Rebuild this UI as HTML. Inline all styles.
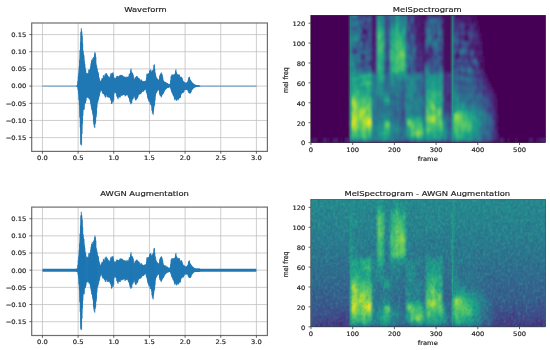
<!DOCTYPE html>
<html><head><meta charset="utf-8"><title>Waveform and MelSpectrogram</title>
<style>html,body{margin:0;padding:0;background:#fff}svg{display:block}text{font-family:"DejaVu Sans", "Liberation Sans", sans-serif;fill:#222;stroke:#222;stroke-width:.18px}</style></head><body>
<svg width="550" height="350" viewBox="0 0 550 350">
<defs><filter id="bl" x="-2%" y="-2%" width="104%" height="104%"><feGaussianBlur stdDeviation="0.8"/></filter><filter id="gd" x="0" y="0" width="100%" height="100%" color-interpolation-filters="sRGB"><feTurbulence type="fractalNoise" baseFrequency="0.4 0.3" numOctaves="2" seed="4"/><feColorMatrix type="matrix" values="0 0 0 0 0.1  0 0 0 0 0.1  0 0 0 0 0.3  0.3 0 0 0 -0.15"/></filter><filter id="gl" x="0" y="0" width="100%" height="100%" color-interpolation-filters="sRGB"><feTurbulence type="fractalNoise" baseFrequency="0.4 0.3" numOctaves="2" seed="4"/><feColorMatrix type="matrix" values="0 0 0 0 0.6  0 0 0 0 1  0 0 0 0 0.7  -0.3 0 0 0 0.15"/></filter></defs>
<rect width="550" height="350" fill="#fff"/>
<path d="M42.45 23.00V151.40M78.11 23.00V151.40M113.77 23.00V151.40M149.43 23.00V151.40M185.09 23.00V151.40M220.75 23.00V151.40M256.41 23.00V151.40M31.70 137.61H267.40M31.70 120.44H267.40M31.70 103.27H267.40M31.70 86.10H267.40M31.70 68.93H267.40M31.70 51.76H267.40M31.70 34.59H267.40" stroke="#c2c2c2" stroke-width="0.8" fill="none"/>
<path d="M42.45 86.10H256.40" stroke="#1f77b4" stroke-width="0.7" fill="none"/>
<polygon points="76.5,85.82 77.0,85.82 77.5,84.85 78.0,79.34 78.5,74.81 79.0,68.31 79.5,61.60 80.0,52.91 80.5,42.45 81.0,30.06 81.5,30.06 82.0,32.41 82.5,42.03 83.0,50.73 83.5,53.22 84.0,56.82 84.5,62.19 85.0,65.97 85.5,69.42 86.0,71.96 86.5,74.59 87.0,73.13 87.5,73.63 88.0,74.51 88.5,73.07 89.0,70.60 89.5,70.30 90.0,70.90 90.5,67.53 91.0,63.63 91.5,62.82 92.0,61.06 92.5,60.69 93.0,60.48 93.5,57.87 94.0,56.93 94.5,54.56 95.0,54.04 95.5,55.02 96.0,62.60 96.5,65.46 97.0,67.53 97.5,70.70 98.0,71.33 98.5,74.44 99.0,77.44 99.5,79.39 100.0,80.62 100.5,81.83 101.0,81.36 101.5,79.76 102.0,78.68 102.5,78.71 103.0,77.73 103.5,75.93 104.0,75.59 104.5,76.97 105.0,74.89 105.5,74.78 106.0,74.00 106.5,74.15 107.0,75.04 107.5,75.16 108.0,76.99 108.5,77.09 109.0,76.85 109.5,78.82 110.0,77.75 110.5,74.90 111.0,73.50 111.5,75.18 112.0,74.18 112.5,73.38 113.0,72.88 113.5,75.18 114.0,77.13 114.5,78.97 115.0,79.52 115.5,78.57 116.0,78.26 116.5,77.42 117.0,76.48 117.5,75.76 118.0,76.87 118.5,76.38 119.0,76.26 119.5,75.54 120.0,75.70 120.5,75.48 121.0,75.96 121.5,75.59 122.0,75.50 122.5,75.86 123.0,76.62 123.5,76.83 124.0,77.30 124.5,77.51 125.0,77.14 125.5,77.37 126.0,77.97 126.5,78.19 127.0,77.31 127.5,77.28 128.0,77.53 128.5,77.79 129.0,75.31 129.5,75.03 130.0,73.60 130.5,70.37 131.0,69.57 131.5,72.55 132.0,72.48 132.5,72.89 133.0,73.24 133.5,77.60 134.0,79.55 134.5,79.31 135.0,78.09 135.5,77.64 136.0,77.13 136.5,76.47 137.0,76.25 137.5,77.11 138.0,77.88 138.5,77.93 139.0,78.44 139.5,79.09 140.0,79.59 140.5,81.09 141.0,79.88 141.5,80.09 142.0,81.06 142.5,81.25 143.0,81.65 143.5,81.87 144.0,81.44 144.5,81.44 145.0,81.13 145.5,81.05 146.0,80.81 146.5,77.73 147.0,73.83 147.5,75.04 148.0,74.31 148.5,73.36 149.0,73.36 149.5,71.46 150.0,70.80 150.5,70.33 151.0,72.57 151.5,72.19 152.0,70.56 152.5,70.81 153.0,71.54 153.5,69.22 154.0,64.16 154.5,67.15 155.0,71.58 155.5,74.40 156.0,76.16 156.5,77.98 157.0,79.15 157.5,78.96 158.0,79.54 158.5,80.20 159.0,80.35 159.5,77.52 160.0,74.71 160.5,74.27 161.0,73.33 161.5,73.44 162.0,74.78 162.5,76.63 163.0,79.32 163.5,81.33 164.0,82.00 164.5,81.65 165.0,81.89 165.5,82.13 166.0,82.36 166.5,83.20 167.0,83.52 167.5,83.38 168.0,83.86 168.5,84.27 169.0,84.58 169.5,84.52 170.0,83.95 170.5,81.66 171.0,77.30 171.5,76.01 172.0,75.18 172.5,75.32 173.0,75.00 173.5,75.37 174.0,75.03 174.5,75.07 175.0,74.03 175.5,70.98 176.0,70.46 176.5,73.22 177.0,74.11 177.5,74.78 178.0,75.04 178.5,75.33 179.0,74.90 179.5,75.16 180.0,77.78 180.5,78.18 181.0,77.01 181.5,77.03 182.0,77.82 182.5,79.83 183.0,80.79 183.5,81.57 184.0,82.10 184.5,82.32 185.0,82.58 185.5,83.27 186.0,82.87 186.5,82.95 187.0,82.62 187.5,82.04 188.0,80.86 188.5,78.45 189.0,77.46 189.5,77.30 190.0,79.36 190.5,80.03 191.0,80.98 191.5,81.61 192.0,82.54 192.5,82.83 193.0,83.31 193.5,83.92 194.0,84.29 194.5,84.55 195.0,84.86 195.5,85.06 196.0,85.11 196.5,85.24 197.0,85.28 197.5,85.43 198.0,85.62 198.5,85.66 199.0,85.64 199.5,85.73 199.5,86.38 199.0,86.38 198.5,86.38 198.0,86.40 197.5,86.47 197.0,86.58 196.5,86.83 196.0,86.96 195.5,87.12 195.0,87.26 194.5,87.35 194.0,87.76 193.5,88.11 193.0,88.76 192.5,89.36 192.0,89.68 191.5,90.34 191.0,92.14 190.5,93.26 190.0,93.03 189.5,92.69 189.0,92.92 188.5,92.01 188.0,90.93 187.5,89.74 187.0,89.53 186.5,89.71 186.0,89.49 185.5,89.87 185.0,89.53 184.5,89.93 184.0,91.40 183.5,92.08 183.0,92.71 182.5,93.46 182.0,92.68 181.5,93.43 181.0,94.63 180.5,96.95 180.0,97.66 179.5,97.63 179.0,98.30 178.5,99.30 178.0,99.98 177.5,98.94 177.0,98.78 176.5,100.63 176.0,99.15 175.5,98.82 175.0,99.66 174.5,99.23 174.0,96.52 173.5,95.63 173.0,94.70 172.5,93.62 172.0,92.60 171.5,91.02 171.0,89.64 170.5,88.18 170.0,86.97 169.5,87.08 169.0,87.34 168.5,87.61 168.0,87.86 167.5,87.84 167.0,88.13 166.5,88.36 166.0,88.89 165.5,89.62 165.0,89.90 164.5,90.55 164.0,92.01 163.5,93.20 163.0,93.70 162.5,94.46 162.0,95.36 161.5,96.30 161.0,96.48 160.5,95.56 160.0,94.50 159.5,93.64 159.0,91.11 158.5,89.45 158.0,90.13 157.5,90.26 157.0,91.30 156.5,92.63 156.0,93.51 155.5,95.43 155.0,100.19 154.5,104.54 154.0,107.57 153.5,112.10 153.0,112.91 152.5,112.49 152.0,110.28 151.5,105.16 151.0,103.79 150.5,104.44 150.0,103.77 149.5,100.73 149.0,100.75 148.5,100.14 148.0,99.02 147.5,97.02 147.0,94.10 146.5,92.03 146.0,90.28 145.5,89.45 145.0,89.49 144.5,90.23 144.0,90.54 143.5,91.29 143.0,91.63 142.5,91.24 142.0,91.68 141.5,92.49 141.0,92.89 140.5,93.78 140.0,94.23 139.5,94.49 139.0,93.96 138.5,94.85 138.0,96.75 137.5,97.74 137.0,98.07 136.5,98.79 136.0,99.83 135.5,99.94 135.0,98.44 134.5,95.71 134.0,94.84 133.5,97.55 133.0,99.11 132.5,98.73 132.0,100.08 131.5,103.18 131.0,103.21 130.5,102.86 130.0,101.10 129.5,99.92 129.0,98.19 128.5,96.81 128.0,95.79 127.5,94.49 127.0,94.82 126.5,95.11 126.0,95.43 125.5,95.97 125.0,95.64 124.5,94.47 124.0,94.17 123.5,94.75 123.0,94.99 122.5,94.74 122.0,95.46 121.5,95.77 121.0,94.78 120.5,95.05 120.0,97.13 119.5,97.39 119.0,96.79 118.5,96.97 118.0,98.72 117.5,97.93 117.0,96.83 116.5,93.56 116.0,92.91 115.5,92.86 115.0,92.21 114.5,91.55 114.0,94.81 113.5,100.75 113.0,99.87 112.5,101.01 112.0,104.27 111.5,103.12 111.0,100.26 110.5,98.94 110.0,97.81 109.5,97.25 109.0,96.16 108.5,97.39 108.0,96.89 107.5,96.57 107.0,96.25 106.5,94.77 106.0,94.98 105.5,97.29 105.0,97.01 104.5,94.87 104.0,94.19 103.5,93.63 103.0,93.47 102.5,92.89 102.0,91.46 101.5,90.16 101.0,89.40 100.5,90.43 100.0,92.73 99.5,95.06 99.0,97.25 98.5,98.88 98.0,101.59 97.5,102.09 97.0,106.16 96.5,114.22 96.0,118.10 95.5,121.22 95.0,125.37 94.5,125.55 94.0,123.81 93.5,120.49 93.0,114.53 92.5,112.07 92.0,109.90 91.5,107.07 91.0,105.71 90.5,102.43 90.0,100.15 89.5,98.68 89.0,98.39 88.5,97.43 88.0,97.20 87.5,97.02 87.0,97.34 86.5,97.59 86.0,101.12 85.5,103.71 85.0,102.39 84.5,104.85 84.0,108.75 83.5,108.75 83.0,113.39 82.5,121.16 82.0,130.74 81.5,143.72 81.0,143.72 80.5,136.09 80.0,120.05 79.5,109.00 79.0,100.17 78.5,93.67 78.0,89.77 77.5,86.55 77.0,86.38 76.5,86.38" fill="#1f77b4"/>
<path d="M76.50,85.81 76.72,86.37 76.94,85.81 77.16,86.39 77.38,85.82 77.60,87.17 77.82,81.27 78.04,90.08 78.26,76.50 78.48,93.34 78.70,72.99 78.92,100.05 79.14,66.53 79.36,104.99 79.58,59.96 79.80,117.47 80.02,50.01 80.24,127.49 80.46,42.08 80.68,144.74 80.90,31.97 81.12,143.81 81.34,28.18 81.56,145.43 81.78,31.65 82.00,134.05 82.22,35.81 82.44,123.74 82.66,43.38 82.88,115.96 83.10,50.67 83.32,109.55 83.54,54.50 83.76,109.27 83.98,55.40 84.20,109.79 84.42,61.32 84.64,104.40 84.86,64.03 85.08,102.78 85.30,68.46 85.52,103.18 85.74,70.29 85.96,101.13 86.18,73.27 86.40,97.84 86.62,74.95 86.84,97.34 87.06,72.91 87.28,97.61 87.50,73.55 87.72,97.09 87.94,74.98 88.16,97.86 88.38,73.39 88.60,97.29 88.82,69.86 89.04,98.92 89.26,69.30 89.48,98.58 89.70,69.65 89.92,99.73 90.14,69.54 90.36,101.50 90.58,66.65 90.80,104.09 91.02,63.30 91.24,106.63 91.46,60.17 91.68,109.42 91.90,60.40 92.12,110.43 92.34,58.30 92.56,113.24 92.78,60.79 93.00,115.54 93.22,58.87 93.44,122.15 93.66,57.18 93.88,124.83 94.10,56.80 94.32,126.97 94.54,53.51 94.76,128.00 94.98,52.00 95.20,124.07 95.42,53.63 95.64,122.50 95.86,57.07 96.08,117.16 96.30,64.90 96.52,114.00 96.74,66.56 96.96,107.72 97.18,68.63 97.40,102.80 97.62,71.90 97.84,102.07 98.06,72.21 98.28,100.03 98.50,73.60 98.72,98.24 98.94,77.03 99.16,96.46 99.38,78.71 99.60,95.19 99.82,80.07 100.04,92.75 100.26,81.11 100.48,91.28 100.70,81.73 100.92,89.78 101.14,81.17 101.36,89.62 101.58,79.79 101.80,91.09 102.02,78.22 102.24,92.45 102.46,78.69 102.68,93.26 102.90,78.18 103.12,93.98 103.34,75.61 103.56,93.67 103.78,75.27 104.00,94.33 104.22,77.22 104.44,95.42 104.66,77.00 104.88,95.10 105.10,74.04 105.32,97.20 105.54,74.74 105.76,97.47 105.98,73.14 106.20,95.16 106.42,73.25 106.64,94.73 106.86,74.73 107.08,96.70 107.30,74.59 107.52,97.15 107.74,76.81 107.96,96.73 108.18,76.91 108.40,97.52 108.62,76.03 108.84,96.36 109.06,76.81 109.28,96.28 109.50,78.31 109.72,98.03 109.94,77.57 110.16,97.95 110.38,76.47 110.60,99.54 110.82,73.93 111.04,100.77 111.26,72.98 111.48,104.00 111.70,74.89 111.92,103.75 112.14,73.19 112.36,100.63 112.58,72.88 112.80,101.73 113.02,72.44 113.24,102.29 113.46,74.92 113.68,99.83 113.90,77.23 114.12,93.83 114.34,78.10 114.56,91.36 114.78,80.15 115.00,92.50 115.22,78.75 115.44,92.67 115.66,77.90 115.88,93.25 116.10,77.56 116.32,93.15 116.54,76.82 116.76,96.31 116.98,75.87 117.20,96.92 117.42,76.17 117.64,98.04 117.86,76.98 118.08,99.17 118.30,76.91 118.52,96.81 118.74,76.60 118.96,96.79 119.18,76.35 119.40,96.55 119.62,75.83 119.84,97.43 120.06,75.05 120.28,97.28 120.50,74.90 120.72,94.68 120.94,75.56 121.16,95.11 121.38,75.31 121.60,95.81 121.82,74.96 122.04,95.55 122.26,75.30 122.48,95.32 122.70,75.78 122.92,94.95 123.14,76.87 123.36,94.67 123.58,76.37 123.80,94.89 124.02,76.78 124.24,94.18 124.46,77.65 124.68,94.74 124.90,76.53 125.12,96.41 125.34,77.04 125.56,95.83 125.78,77.60 126.00,95.23 126.22,77.75 126.44,95.18 126.66,76.64 126.88,94.64 127.10,77.34 127.32,94.90 127.54,76.76 127.76,95.36 127.98,77.65 128.20,96.65 128.42,77.61 128.64,97.64 128.86,75.72 129.08,98.19 129.30,73.71 129.52,100.13 129.74,73.83 129.96,101.96 130.18,73.63 130.40,102.73 130.62,70.46 130.84,104.27 131.06,68.52 131.28,103.17 131.50,72.45 131.72,103.16 131.94,73.03 132.16,100.32 132.38,72.75 132.60,98.66 132.82,74.00 133.04,99.17 133.26,75.19 133.48,97.32 133.70,79.20 133.92,95.32 134.14,79.61 134.36,95.84 134.58,79.40 134.80,97.76 135.02,77.55 135.24,99.16 135.46,77.70 135.68,100.42 135.90,76.99 136.12,100.15 136.34,76.46 136.56,98.44 136.78,75.95 137.00,98.66 137.22,76.80 137.44,98.28 137.66,76.91 137.88,97.11 138.10,77.71 138.32,95.13 138.54,78.18 138.76,94.66 138.98,78.04 139.20,93.48 139.42,79.03 139.64,94.22 139.86,79.13 140.08,94.10 140.30,81.12 140.52,93.69 140.74,80.91 140.96,93.53 141.18,79.68 141.40,93.07 141.62,79.74 141.84,92.01 142.06,80.82 142.28,91.61 142.50,81.08 142.72,91.07 142.94,81.40 143.16,91.35 143.38,81.62 143.60,91.36 143.82,81.31 144.04,90.47 144.26,81.69 144.48,90.14 144.70,81.16 144.92,89.76 145.14,80.92 145.36,89.26 145.58,80.97 145.80,89.28 146.02,80.44 146.24,91.74 146.46,78.18 146.68,93.01 146.90,73.75 147.12,94.59 147.34,74.82 147.56,97.16 147.78,73.83 148.00,98.78 148.22,73.65 148.44,99.62 148.66,73.61 148.88,101.59 149.10,72.99 149.32,100.63 149.54,70.75 149.76,101.74 149.98,70.49 150.20,104.45 150.42,69.62 150.64,104.47 150.86,69.70 151.08,104.56 151.30,72.32 151.52,106.28 151.74,71.66 151.96,110.67 152.18,71.05 152.40,113.69 152.62,69.90 152.84,111.76 153.06,71.35 153.28,114.81 153.50,69.36 153.72,109.37 153.94,65.01 154.16,106.16 154.38,64.37 154.60,104.95 154.82,69.01 155.04,100.68 155.26,72.80 155.48,95.61 155.70,75.05 155.92,93.47 156.14,76.75 156.36,92.93 156.58,78.04 156.80,91.96 157.02,79.10 157.24,91.23 157.46,78.47 157.68,90.21 157.90,79.54 158.12,89.62 158.34,79.62 158.56,89.35 158.78,80.50 159.00,90.52 159.22,79.74 159.44,93.50 159.66,76.07 159.88,95.20 160.10,74.69 160.32,95.81 160.54,73.87 160.76,95.95 160.98,73.42 161.20,97.45 161.42,72.54 161.64,96.50 161.86,73.95 162.08,95.13 162.30,74.82 162.52,94.17 162.74,77.04 162.96,93.70 163.18,79.70 163.40,93.32 163.62,81.26 163.84,92.23 164.06,81.81 164.28,91.55 164.50,81.64 164.72,90.24 164.94,81.93 165.16,89.78 165.38,82.16 165.60,89.55 165.82,82.16 166.04,88.94 166.26,83.05 166.48,88.52 166.70,83.21 166.92,88.21 167.14,82.88 167.36,88.01 167.58,83.41 167.80,87.79 168.02,83.74 168.24,87.81 168.46,84.17 168.68,87.56 168.90,84.57 169.12,87.25 169.34,84.88 169.56,87.08 169.78,84.01 170.00,86.97 170.22,83.54 170.44,88.03 170.66,80.19 170.88,89.26 171.10,76.04 171.32,90.82 171.54,75.76 171.76,92.26 171.98,74.43 172.20,93.09 172.42,75.31 172.64,93.93 172.86,74.79 173.08,95.38 173.30,74.45 173.52,95.90 173.74,75.35 173.96,96.70 174.18,74.81 174.40,98.78 174.62,74.31 174.84,100.26 175.06,73.51 175.28,98.46 175.50,70.71 175.72,98.91 175.94,69.36 176.16,100.24 176.38,72.33 176.60,100.86 176.82,73.80 177.04,98.66 177.26,73.90 177.48,98.92 177.70,74.84 177.92,100.34 178.14,74.92 178.36,99.42 178.58,74.76 178.80,98.90 179.02,74.26 179.24,98.10 179.46,74.97 179.68,98.09 179.90,77.94 180.12,97.24 180.34,77.56 180.56,97.64 180.78,76.54 181.00,94.63 181.22,76.86 181.44,93.69 181.66,77.08 181.88,92.79 182.10,78.05 182.32,92.41 182.54,79.82 182.76,93.08 182.98,80.72 183.20,92.76 183.42,81.45 183.64,92.03 183.86,81.67 184.08,91.46 184.30,82.05 184.52,89.97 184.74,82.23 184.96,89.59 185.18,83.02 185.40,89.89 185.62,83.15 185.84,89.95 186.06,82.83 186.28,89.60 186.50,82.91 186.72,89.98 186.94,82.49 187.16,89.64 187.38,81.98 187.60,89.83 187.82,81.44 188.04,91.24 188.26,79.68 188.48,92.33 188.70,77.44 188.92,92.87 189.14,77.64 189.36,93.22 189.58,76.78 189.80,93.47 190.02,79.57 190.24,93.34 190.46,80.28 190.68,92.66 190.90,80.75 191.12,92.06 191.34,81.61 191.56,90.31 191.78,82.05 192.00,89.78 192.22,82.78 192.44,89.46 192.66,82.99 192.88,88.99 193.10,83.41 193.32,88.38 193.54,83.93 193.76,87.98 193.98,84.20 194.20,87.56 194.42,84.55 194.64,87.23 194.86,84.64 195.08,87.28 195.30,84.91 195.52,87.17 195.74,85.12 195.96,87.03 196.18,85.11 196.40,86.84 196.62,85.28 196.84,86.63 197.06,85.28 197.28,86.53 197.50,85.42 197.72,86.45 197.94,85.63 198.16,86.40 198.38,85.66 198.60,86.39 198.82,85.59 199.04,86.38 199.26,85.67 199.48,86.37 199.70,85.74 199.92,86.39" stroke="#1f77b4" stroke-width="0.55" fill="none" stroke-linejoin="round"/>
<rect x="31.70" y="23.00" width="235.70" height="128.40" fill="none" stroke="#6e6e6e" stroke-width="1.2"/>
<path d="M42.45 151.40v2.3M78.11 151.40v2.3M113.77 151.40v2.3M149.43 151.40v2.3M185.09 151.40v2.3M220.75 151.40v2.3M256.41 151.40v2.3M31.70 137.61h-2.3M31.70 120.44h-2.3M31.70 103.27h-2.3M31.70 86.10h-2.3M31.70 68.93h-2.3M31.70 51.76h-2.3M31.70 34.59h-2.3" stroke="#333" stroke-width="0.75" fill="none"/>
<text transform="translate(42.45 160.10) scale(1.09 1)" font-size="6.2" text-anchor="middle">0.0</text>
<text transform="translate(78.11 160.10) scale(1.09 1)" font-size="6.2" text-anchor="middle">0.5</text>
<text transform="translate(113.77 160.10) scale(1.09 1)" font-size="6.2" text-anchor="middle">1.0</text>
<text transform="translate(149.43 160.10) scale(1.09 1)" font-size="6.2" text-anchor="middle">1.5</text>
<text transform="translate(185.09 160.10) scale(1.09 1)" font-size="6.2" text-anchor="middle">2.0</text>
<text transform="translate(220.75 160.10) scale(1.09 1)" font-size="6.2" text-anchor="middle">2.5</text>
<text transform="translate(256.41 160.10) scale(1.09 1)" font-size="6.2" text-anchor="middle">3.0</text>
<text transform="translate(26.30 139.91) scale(1.09 1)" font-size="6.2" text-anchor="end">−0.15</text>
<text transform="translate(26.30 122.74) scale(1.09 1)" font-size="6.2" text-anchor="end">−0.10</text>
<text transform="translate(26.30 105.57) scale(1.09 1)" font-size="6.2" text-anchor="end">−0.05</text>
<text transform="translate(26.30 88.40) scale(1.09 1)" font-size="6.2" text-anchor="end">0.00</text>
<text transform="translate(26.30 71.23) scale(1.09 1)" font-size="6.2" text-anchor="end">0.05</text>
<text transform="translate(26.30 54.06) scale(1.09 1)" font-size="6.2" text-anchor="end">0.10</text>
<text transform="translate(26.30 36.89) scale(1.09 1)" font-size="6.2" text-anchor="end">0.15</text>
<text transform="translate(145.50 12.00) scale(1.09 1)" font-size="7.7" text-anchor="middle">Waveform</text>
<path d="M42.45 207.10V335.50M78.11 207.10V335.50M113.77 207.10V335.50M149.43 207.10V335.50M185.09 207.10V335.50M220.75 207.10V335.50M256.41 207.10V335.50M31.70 321.71H267.40M31.70 304.54H267.40M31.70 287.37H267.40M31.70 270.20H267.40M31.70 253.03H267.40M31.70 235.86H267.40M31.70 218.69H267.40" stroke="#c2c2c2" stroke-width="0.8" fill="none"/>
<path d="M42.45 270.20H256.40" stroke="#1f77b4" stroke-width="3.1" fill="none"/>
<polygon points="76.5,268.92 77.0,268.92 77.5,268.92 78.0,263.44 78.5,258.91 79.0,252.41 79.5,245.70 80.0,237.01 80.5,226.55 81.0,214.16 81.5,214.16 82.0,216.51 82.5,226.13 83.0,234.83 83.5,237.32 84.0,240.92 84.5,246.29 85.0,250.07 85.5,253.52 86.0,256.06 86.5,258.69 87.0,257.23 87.5,257.73 88.0,258.61 88.5,257.17 89.0,254.70 89.5,254.40 90.0,255.00 90.5,251.63 91.0,247.73 91.5,246.92 92.0,245.16 92.5,244.79 93.0,244.58 93.5,241.97 94.0,241.03 94.5,238.66 95.0,238.14 95.5,239.12 96.0,246.70 96.5,249.56 97.0,251.63 97.5,254.80 98.0,255.43 98.5,258.54 99.0,261.54 99.5,263.49 100.0,264.72 100.5,265.93 101.0,265.46 101.5,263.86 102.0,262.78 102.5,262.81 103.0,261.83 103.5,260.03 104.0,259.69 104.5,261.07 105.0,258.99 105.5,258.88 106.0,258.10 106.5,258.25 107.0,259.14 107.5,259.26 108.0,261.09 108.5,261.19 109.0,260.95 109.5,262.92 110.0,261.85 110.5,259.00 111.0,257.60 111.5,259.28 112.0,258.28 112.5,257.48 113.0,256.98 113.5,259.28 114.0,261.23 114.5,263.07 115.0,263.62 115.5,262.67 116.0,262.36 116.5,261.52 117.0,260.58 117.5,259.86 118.0,260.97 118.5,260.48 119.0,260.36 119.5,259.64 120.0,259.80 120.5,259.58 121.0,260.06 121.5,259.69 122.0,259.60 122.5,259.96 123.0,260.72 123.5,260.93 124.0,261.40 124.5,261.61 125.0,261.24 125.5,261.47 126.0,262.07 126.5,262.29 127.0,261.41 127.5,261.38 128.0,261.63 128.5,261.89 129.0,259.41 129.5,259.13 130.0,257.70 130.5,254.47 131.0,253.67 131.5,256.65 132.0,256.58 132.5,256.99 133.0,257.34 133.5,261.70 134.0,263.65 134.5,263.41 135.0,262.19 135.5,261.74 136.0,261.23 136.5,260.57 137.0,260.35 137.5,261.21 138.0,261.98 138.5,262.03 139.0,262.54 139.5,263.19 140.0,263.69 140.5,265.19 141.0,263.98 141.5,264.19 142.0,265.16 142.5,265.35 143.0,265.75 143.5,265.97 144.0,265.54 144.5,265.54 145.0,265.23 145.5,265.15 146.0,264.91 146.5,261.83 147.0,257.93 147.5,259.14 148.0,258.41 148.5,257.46 149.0,257.46 149.5,255.56 150.0,254.90 150.5,254.43 151.0,256.67 151.5,256.29 152.0,254.66 152.5,254.91 153.0,255.64 153.5,253.32 154.0,248.26 154.5,251.25 155.0,255.68 155.5,258.50 156.0,260.26 156.5,262.08 157.0,263.25 157.5,263.06 158.0,263.64 158.5,264.30 159.0,264.45 159.5,261.62 160.0,258.81 160.5,258.37 161.0,257.43 161.5,257.54 162.0,258.88 162.5,260.73 163.0,263.42 163.5,265.43 164.0,266.10 164.5,265.75 165.0,265.99 165.5,266.23 166.0,266.46 166.5,267.30 167.0,267.62 167.5,267.48 168.0,267.96 168.5,268.37 169.0,268.68 169.5,268.62 170.0,268.05 170.5,265.76 171.0,261.40 171.5,260.11 172.0,259.28 172.5,259.42 173.0,259.10 173.5,259.47 174.0,259.13 174.5,259.17 175.0,258.13 175.5,255.08 176.0,254.56 176.5,257.32 177.0,258.21 177.5,258.88 178.0,259.14 178.5,259.43 179.0,259.00 179.5,259.26 180.0,261.88 180.5,262.28 181.0,261.11 181.5,261.13 182.0,261.92 182.5,263.93 183.0,264.89 183.5,265.67 184.0,266.20 184.5,266.42 185.0,266.68 185.5,267.37 186.0,266.97 186.5,267.05 187.0,266.72 187.5,266.14 188.0,264.96 188.5,262.55 189.0,261.56 189.5,261.40 190.0,263.46 190.5,264.13 191.0,265.08 191.5,265.71 192.0,266.64 192.5,266.93 193.0,267.41 193.5,268.02 194.0,268.39 194.5,268.65 195.0,268.92 195.5,268.92 196.0,268.92 196.5,268.92 197.0,268.92 197.5,268.92 198.0,268.92 198.5,268.92 199.0,268.92 199.5,268.92 199.5,271.48 199.0,271.48 198.5,271.48 198.0,271.48 197.5,271.48 197.0,271.48 196.5,271.48 196.0,271.48 195.5,271.48 195.0,271.48 194.5,271.48 194.0,271.86 193.5,272.21 193.0,272.86 192.5,273.46 192.0,273.78 191.5,274.44 191.0,276.24 190.5,277.36 190.0,277.13 189.5,276.79 189.0,277.02 188.5,276.11 188.0,275.03 187.5,273.84 187.0,273.63 186.5,273.81 186.0,273.59 185.5,273.97 185.0,273.63 184.5,274.03 184.0,275.50 183.5,276.18 183.0,276.81 182.5,277.56 182.0,276.78 181.5,277.53 181.0,278.73 180.5,281.05 180.0,281.76 179.5,281.73 179.0,282.40 178.5,283.40 178.0,284.08 177.5,283.04 177.0,282.88 176.5,284.73 176.0,283.25 175.5,282.92 175.0,283.76 174.5,283.33 174.0,280.62 173.5,279.73 173.0,278.80 172.5,277.72 172.0,276.70 171.5,275.12 171.0,273.74 170.5,272.28 170.0,271.48 169.5,271.48 169.0,271.48 168.5,271.71 168.0,271.96 167.5,271.94 167.0,272.23 166.5,272.46 166.0,272.99 165.5,273.72 165.0,274.00 164.5,274.65 164.0,276.11 163.5,277.30 163.0,277.80 162.5,278.56 162.0,279.46 161.5,280.40 161.0,280.58 160.5,279.66 160.0,278.60 159.5,277.74 159.0,275.21 158.5,273.55 158.0,274.23 157.5,274.36 157.0,275.40 156.5,276.73 156.0,277.61 155.5,279.53 155.0,284.29 154.5,288.64 154.0,291.67 153.5,296.20 153.0,297.01 152.5,296.59 152.0,294.38 151.5,289.26 151.0,287.89 150.5,288.54 150.0,287.87 149.5,284.83 149.0,284.85 148.5,284.24 148.0,283.12 147.5,281.12 147.0,278.20 146.5,276.13 146.0,274.38 145.5,273.55 145.0,273.59 144.5,274.33 144.0,274.64 143.5,275.39 143.0,275.73 142.5,275.34 142.0,275.78 141.5,276.59 141.0,276.99 140.5,277.88 140.0,278.33 139.5,278.59 139.0,278.06 138.5,278.95 138.0,280.85 137.5,281.84 137.0,282.17 136.5,282.89 136.0,283.93 135.5,284.04 135.0,282.54 134.5,279.81 134.0,278.94 133.5,281.65 133.0,283.21 132.5,282.83 132.0,284.18 131.5,287.28 131.0,287.31 130.5,286.96 130.0,285.20 129.5,284.02 129.0,282.29 128.5,280.91 128.0,279.89 127.5,278.59 127.0,278.92 126.5,279.21 126.0,279.53 125.5,280.07 125.0,279.74 124.5,278.57 124.0,278.27 123.5,278.85 123.0,279.09 122.5,278.84 122.0,279.56 121.5,279.87 121.0,278.88 120.5,279.15 120.0,281.23 119.5,281.49 119.0,280.89 118.5,281.07 118.0,282.82 117.5,282.03 117.0,280.93 116.5,277.66 116.0,277.01 115.5,276.96 115.0,276.31 114.5,275.65 114.0,278.91 113.5,284.85 113.0,283.97 112.5,285.11 112.0,288.37 111.5,287.22 111.0,284.36 110.5,283.04 110.0,281.91 109.5,281.35 109.0,280.26 108.5,281.49 108.0,280.99 107.5,280.67 107.0,280.35 106.5,278.87 106.0,279.08 105.5,281.39 105.0,281.11 104.5,278.97 104.0,278.29 103.5,277.73 103.0,277.57 102.5,276.99 102.0,275.56 101.5,274.26 101.0,273.50 100.5,274.53 100.0,276.83 99.5,279.16 99.0,281.35 98.5,282.98 98.0,285.69 97.5,286.19 97.0,290.26 96.5,298.32 96.0,302.20 95.5,305.32 95.0,309.47 94.5,309.65 94.0,307.91 93.5,304.59 93.0,298.63 92.5,296.17 92.0,294.00 91.5,291.17 91.0,289.81 90.5,286.53 90.0,284.25 89.5,282.78 89.0,282.49 88.5,281.53 88.0,281.30 87.5,281.12 87.0,281.44 86.5,281.69 86.0,285.22 85.5,287.81 85.0,286.49 84.5,288.95 84.0,292.85 83.5,292.85 83.0,297.49 82.5,305.26 82.0,314.84 81.5,327.82 81.0,327.82 80.5,320.19 80.0,304.15 79.5,293.10 79.0,284.27 78.5,277.77 78.0,273.87 77.5,271.48 77.0,271.48 76.5,271.48" fill="#1f77b4"/>
<path d="M76.50,268.66 76.72,271.67 76.94,268.64 77.16,271.77 77.38,268.71 77.60,271.75 77.82,264.92 78.04,274.65 78.26,260.11 78.48,277.90 78.70,256.62 78.92,284.64 79.14,250.16 79.36,289.54 79.58,243.59 79.80,302.05 80.02,233.62 80.24,312.05 80.46,225.70 80.68,329.33 80.90,215.61 81.12,328.38 81.34,211.80 81.56,330.03 81.78,215.30 82.00,318.65 82.22,219.44 82.44,308.32 82.66,227.00 82.88,300.54 83.10,234.29 83.32,294.13 83.54,238.15 83.76,293.85 83.98,239.01 84.20,294.37 84.42,244.96 84.64,288.97 84.86,247.64 85.08,287.37 85.30,252.10 85.52,287.74 85.74,253.91 85.96,285.69 86.18,256.88 86.40,282.41 86.62,258.60 86.84,281.91 87.06,256.53 87.28,282.20 87.50,257.18 87.72,281.66 87.94,258.62 88.16,282.45 88.38,257.02 88.60,281.84 88.82,253.47 89.04,283.50 89.26,252.90 89.48,283.14 89.70,253.27 89.92,284.30 90.14,253.15 90.36,286.06 90.58,250.28 90.80,288.65 91.02,246.93 91.24,291.18 91.46,243.77 91.68,294.01 91.90,244.02 92.12,294.99 92.34,241.91 92.56,297.82 92.78,244.44 93.00,300.12 93.22,242.48 93.44,306.74 93.66,240.80 93.88,309.42 94.10,240.44 94.32,311.56 94.54,237.13 94.76,312.58 94.98,235.61 95.20,308.64 95.42,237.25 95.64,307.10 95.86,240.70 96.08,301.72 96.30,248.54 96.52,298.56 96.74,250.19 96.96,292.31 97.18,252.26 97.40,287.36 97.62,255.55 97.84,286.62 98.06,255.86 98.28,284.59 98.50,257.20 98.72,282.79 98.94,260.66 99.16,281.02 99.38,262.32 99.60,279.79 99.82,263.69 100.04,277.33 100.26,264.75 100.48,275.83 100.70,265.34 100.92,274.38 101.14,264.81 101.36,274.21 101.58,263.44 101.80,275.67 102.02,261.83 102.24,277.04 102.46,262.32 102.68,277.84 102.90,261.83 103.12,278.57 103.34,259.22 103.56,278.23 103.78,258.88 104.00,278.91 104.22,260.86 104.44,280.02 104.66,260.64 104.88,279.65 105.10,257.64 105.32,281.76 105.54,258.38 105.76,282.05 105.98,256.75 106.20,279.74 106.42,256.85 106.64,279.30 106.86,258.36 107.08,281.29 107.30,258.21 107.52,281.74 107.74,260.44 107.96,281.29 108.18,260.54 108.40,282.09 108.62,259.68 108.84,280.95 109.06,260.43 109.28,280.83 109.50,261.95 109.72,282.62 109.94,261.19 110.16,282.51 110.38,260.09 110.60,284.12 110.82,257.56 111.04,285.34 111.26,256.62 111.48,288.59 111.70,258.53 111.92,288.31 112.14,256.80 112.36,285.19 112.58,256.50 112.80,286.33 113.02,256.06 113.24,286.86 113.46,258.56 113.68,284.40 113.90,260.86 114.12,278.38 114.34,261.72 114.56,275.94 114.78,263.80 115.00,277.09 115.22,262.36 115.44,277.23 115.66,261.52 115.88,277.85 116.10,261.16 116.32,277.71 116.54,260.43 116.76,280.88 116.98,259.48 117.20,281.48 117.42,259.82 117.64,282.59 117.86,260.62 118.08,283.76 118.30,260.55 118.52,281.37 118.74,260.25 118.96,281.35 119.18,260.00 119.40,281.11 119.62,259.48 119.84,282.00 120.06,258.65 120.28,281.86 120.50,258.51 120.72,279.23 120.94,259.18 121.16,279.70 121.38,258.93 121.60,280.38 121.82,258.57 122.04,280.12 122.26,258.91 122.48,279.92 122.70,259.42 122.92,279.54 123.14,260.51 123.36,279.22 123.58,259.98 123.80,279.47 124.02,260.39 124.24,278.73 124.46,261.30 124.68,279.32 124.90,260.14 125.12,281.01 125.34,260.66 125.56,280.39 125.78,261.22 126.00,279.79 126.22,261.37 126.44,279.74 126.66,260.25 126.88,279.19 127.10,260.97 127.32,279.48 127.54,260.37 127.76,279.93 127.98,261.29 128.20,281.23 128.42,261.23 128.64,282.23 128.86,259.34 129.08,282.75 129.30,257.34 129.52,284.70 129.74,257.46 129.96,286.55 130.18,257.28 130.40,287.29 130.62,254.11 130.84,288.87 131.06,252.13 131.28,287.73 131.50,256.08 131.72,287.73 131.94,256.67 132.16,284.90 132.38,256.39 132.60,283.23 132.82,257.65 133.04,283.74 133.26,258.81 133.48,281.87 133.70,262.85 133.92,279.89 134.14,263.25 134.36,280.43 134.58,263.04 134.80,282.32 135.02,261.16 135.24,283.73 135.46,261.33 135.68,284.98 135.90,260.61 136.12,284.73 136.34,260.09 136.56,282.99 136.78,259.58 137.00,283.24 137.22,260.44 137.44,282.86 137.66,260.52 137.88,281.68 138.10,261.33 138.32,279.69 138.54,261.82 138.76,279.24 138.98,261.65 139.20,278.04 139.42,262.67 139.64,278.77 139.86,262.74 140.08,278.66 140.30,264.77 140.52,278.25 140.74,264.52 140.96,278.10 141.18,263.29 141.40,277.67 141.62,263.34 141.84,276.56 142.06,264.43 142.28,276.19 142.50,264.69 142.72,275.64 142.94,265.01 143.16,275.90 143.38,265.23 143.60,275.94 143.82,264.94 144.04,275.03 144.26,265.34 144.48,274.69 144.70,264.78 144.92,274.36 145.14,264.54 145.36,273.82 145.58,264.60 145.80,273.83 146.02,264.05 146.24,276.33 146.46,261.82 146.68,277.60 146.90,257.35 147.12,279.15 147.34,258.44 147.56,281.72 147.78,257.43 148.00,283.34 148.22,257.29 148.44,284.17 148.66,257.26 148.88,286.19 149.10,256.61 149.32,285.19 149.54,254.36 149.76,286.33 149.98,254.10 150.20,289.02 150.42,253.23 150.64,289.02 150.86,253.33 151.08,289.14 151.30,255.96 151.52,290.87 151.74,255.27 151.96,295.24 152.18,254.70 152.40,298.29 152.62,253.51 152.84,296.32 153.06,254.99 153.28,299.40 153.50,252.99 153.72,293.95 153.94,248.66 154.16,290.72 154.38,248.01 154.60,289.55 154.82,252.62 155.04,285.27 155.26,256.44 155.48,280.17 155.70,258.69 155.92,278.02 156.14,260.39 156.36,277.49 156.58,261.66 156.80,276.53 157.02,262.73 157.24,275.82 157.46,262.07 157.68,274.77 157.90,263.18 158.12,274.19 158.34,263.22 158.56,273.90 158.78,264.14 159.00,275.10 159.22,263.38 159.44,278.08 159.66,259.70 159.88,279.77 160.10,258.34 160.32,280.41 160.54,257.49 160.76,280.51 160.98,257.06 161.20,282.05 161.42,256.14 161.64,281.09 161.86,257.56 162.08,279.69 162.30,258.43 162.52,278.72 162.74,260.65 162.96,278.26 163.18,263.34 163.40,277.92 163.62,264.87 163.84,276.78 164.06,265.41 164.28,276.14 164.50,265.27 164.72,274.80 164.94,265.57 165.16,274.36 165.38,265.80 165.60,274.12 165.82,265.78 166.04,273.52 166.26,266.68 166.48,273.12 166.70,266.82 166.92,272.79 167.14,266.48 167.36,272.60 167.58,267.04 167.80,272.38 168.02,267.35 168.24,272.40 168.46,267.78 168.68,272.14 168.90,268.19 169.12,271.80 169.34,268.52 169.56,271.73 169.78,267.65 170.00,271.70 170.22,267.16 170.44,272.59 170.66,263.80 170.88,273.81 171.10,259.65 171.32,275.41 171.54,259.38 171.76,276.86 171.98,258.03 172.20,277.65 172.42,258.94 172.64,278.49 172.86,258.41 173.08,279.97 173.30,258.07 173.52,280.47 173.74,258.99 173.96,281.27 174.18,258.45 174.40,283.34 174.62,257.92 174.84,284.85 175.06,257.13 175.28,283.02 175.50,254.34 175.72,283.48 175.94,252.97 176.16,284.80 176.38,255.95 176.60,285.43 176.82,257.42 177.04,283.22 177.26,257.51 177.48,283.49 177.70,258.47 177.92,284.91 178.14,258.54 178.36,283.98 178.58,258.37 178.80,283.47 179.02,257.87 179.24,282.67 179.46,258.59 179.68,282.69 179.90,261.59 180.12,281.80 180.34,261.17 180.56,282.23 180.78,260.16 181.00,279.20 181.22,260.48 181.44,278.24 181.66,260.71 181.88,277.35 182.10,261.68 182.32,276.98 182.54,263.45 182.76,277.65 182.98,264.35 183.20,277.35 183.42,265.08 183.64,276.61 183.86,265.27 184.08,276.04 184.30,265.68 184.52,274.54 184.74,265.84 184.96,274.16 185.18,266.64 185.40,274.45 185.62,266.76 185.84,274.53 186.06,266.46 186.28,274.16 186.50,266.54 186.72,274.57 186.94,266.10 187.16,274.21 187.38,265.60 187.60,274.38 187.82,265.07 188.04,275.83 188.26,263.32 188.48,276.92 188.70,261.06 188.92,277.45 189.14,261.29 189.36,277.82 189.58,260.39 189.80,278.05 190.02,263.22 190.24,277.93 190.46,263.92 190.68,277.21 190.90,264.38 191.12,276.64 191.34,265.25 191.56,274.89 191.78,265.67 192.00,274.35 192.22,266.42 192.44,274.03 192.66,266.62 192.88,273.57 193.10,267.05 193.32,272.97 193.54,267.56 193.76,272.56 193.98,267.82 194.20,272.13 194.42,268.19 194.64,271.79 194.86,268.25 195.08,271.86 195.30,268.51 195.52,271.76 195.74,268.66 195.96,271.78 196.18,268.64 196.40,271.66 196.62,268.72 196.84,271.71 197.06,268.68 197.28,271.72 197.50,268.69 197.72,271.73 197.94,268.74 198.16,271.78 198.38,268.73 198.60,271.73 198.82,268.61 199.04,271.71 199.26,268.73 199.48,271.66 199.70,268.68 199.92,271.73" stroke="#1f77b4" stroke-width="0.55" fill="none" stroke-linejoin="round"/>
<rect x="31.70" y="207.10" width="235.70" height="128.40" fill="none" stroke="#6e6e6e" stroke-width="1.2"/>
<path d="M42.45 335.50v2.3M78.11 335.50v2.3M113.77 335.50v2.3M149.43 335.50v2.3M185.09 335.50v2.3M220.75 335.50v2.3M256.41 335.50v2.3M31.70 321.71h-2.3M31.70 304.54h-2.3M31.70 287.37h-2.3M31.70 270.20h-2.3M31.70 253.03h-2.3M31.70 235.86h-2.3M31.70 218.69h-2.3" stroke="#333" stroke-width="0.75" fill="none"/>
<text transform="translate(42.45 344.20) scale(1.09 1)" font-size="6.2" text-anchor="middle">0.0</text>
<text transform="translate(78.11 344.20) scale(1.09 1)" font-size="6.2" text-anchor="middle">0.5</text>
<text transform="translate(113.77 344.20) scale(1.09 1)" font-size="6.2" text-anchor="middle">1.0</text>
<text transform="translate(149.43 344.20) scale(1.09 1)" font-size="6.2" text-anchor="middle">1.5</text>
<text transform="translate(185.09 344.20) scale(1.09 1)" font-size="6.2" text-anchor="middle">2.0</text>
<text transform="translate(220.75 344.20) scale(1.09 1)" font-size="6.2" text-anchor="middle">2.5</text>
<text transform="translate(256.41 344.20) scale(1.09 1)" font-size="6.2" text-anchor="middle">3.0</text>
<text transform="translate(26.30 324.01) scale(1.09 1)" font-size="6.2" text-anchor="end">−0.15</text>
<text transform="translate(26.30 306.84) scale(1.09 1)" font-size="6.2" text-anchor="end">−0.10</text>
<text transform="translate(26.30 289.67) scale(1.09 1)" font-size="6.2" text-anchor="end">−0.05</text>
<text transform="translate(26.30 272.50) scale(1.09 1)" font-size="6.2" text-anchor="end">0.00</text>
<text transform="translate(26.30 255.33) scale(1.09 1)" font-size="6.2" text-anchor="end">0.05</text>
<text transform="translate(26.30 238.16) scale(1.09 1)" font-size="6.2" text-anchor="end">0.10</text>
<text transform="translate(26.30 220.99) scale(1.09 1)" font-size="6.2" text-anchor="end">0.15</text>
<text transform="translate(144.60 196.10) scale(1.09 1)" font-size="7.7" text-anchor="middle">AWGN Augmentation</text>
<svg x="310.80" y="15.30" width="234.80" height="127.40" viewBox="0 0 234.80 127.40" overflow="hidden">
<rect width="234.80" height="127.40" fill="#440154"/>
<g filter="url(#bl)"><rect x="-3" y="-3" width="240.80" height="133.40" fill="#440154"/>
<svg x="0" y="0" width="235.50" height="127.50" viewBox="-0.5 0 157 85" preserveAspectRatio="none" overflow="visible">
<g fill="none" stroke-width="1" shape-rendering="crispEdges">
<path stroke="#46085c" d="M0 81v1M1 82v1M1 84v1M3 81v1M6 83v1M7 83v1M8 82v1M10 82v1M10 84v1M11 82v1M11 84v1M12 82v3M13 83v1M14 82v3M15 81v1M17 81v1M20 81v1M23 81v1M24 81v1M25 70v4M35 10v1M91 0v18M92 0v27M93 0v18M97 26v1M103 14v2M104 8v1M109 0v1M110 0v3M111 3v3M112 7v3M113 12v3M113 33v1M114 17v5M114 32v2M115 27v6M116 37v1M117 39v2M118 42v1M119 44v1M120 46v1M121 48v1M122 50v1M123 52v1M124 55v10M125 79v4M125 84v1M126 81v1M128 82v3M131 82v1M131 84v1M132 82v3M136 82v3M137 82v3M142 82v1M142 84v1M145 82v1M145 84v1M147 81v1M150 81v1M151 82v1M152 81v1M153 81v1M155 81v1"/>
<path stroke="#470e61" d="M1 83v1M2 81v1M8 83v2M9 81v1M10 83v1M11 83v1M15 82v1M16 81v1M24 82v1M24 84v1M25 81v1M35 11v1M36 10v2M41 0v2M42 0v7M74 0v7M74 14v4M75 0v2M88 0v3M88 5v4M89 0v37M90 0v37M91 18v20M92 27v11M93 18v19M97 27v1M98 26v1M103 8v1M103 16v1M104 7v1M106 0v1M107 0v5M108 0v5M109 1v3M110 3v2M110 21v2M111 6v3M112 10v3M113 15v3M113 32v1M113 34v1M114 22v10M114 34v1M115 33v4M116 38v1M117 41v1M118 43v1M119 45v1M120 47v1M121 49v1M122 51v1M123 53v3M123 84v1M124 65v9M124 84v1M125 83v1M127 81v1M131 83v1M142 83v1M145 83v1M146 81v1M150 82v1M151 83v2M153 82v1M153 84v1M154 81v1M156 81v1"/>
<path stroke="#481668" d="M3 82v1M15 84v1M17 82v1M20 82v1M24 83v1M40 31v1M41 2v18M42 7v15M42 25v2M70 2v6M70 13v1M72 0v3M72 9v5M72 15v1M73 0v5M73 8v4M74 7v7M74 18v5M75 2v2M75 6v2M75 14v3M76 0v2M87 0v1M88 3v2M88 9v27M89 37v1M90 37v1M93 37v1M96 0v1M97 0v1M98 0v1M98 27v1M99 0v2M100 0v3M101 0v1M102 3v1M102 14v2M103 0v1M103 2v3M103 7v1M103 9v1M103 13v1M104 0v1M104 3v2M104 6v1M104 9v1M104 15v1M105 0v1M106 1v1M106 3v1M107 20v1M109 4v1M110 5v2M110 8v2M110 20v1M110 23v1M111 9v2M111 20v4M111 28v2M112 13v3M112 27v2M113 18v5M113 27v3M113 31v1M114 35v1M115 37v1M116 39v2M117 42v2M118 44v1M119 46v1M120 48v1M121 50v2M121 84v1M122 52v1M122 84v1M123 56v6M124 74v6M126 82v1M126 84v1M147 82v1M150 84v1M153 83v1M155 82v1"/>
<path stroke="#481c6e" d="M0 82v1M3 84v1M15 83v1M17 84v1M20 84v1M23 82v1M23 84v1M35 9v1M40 32v1M41 20v16M42 22v3M42 27v6M70 0v2M70 8v2M70 11v2M70 14v3M71 0v4M71 13v2M72 3v1M72 7v2M72 14v1M72 16v2M73 5v3M73 12v6M74 23v4M75 4v2M75 8v3M75 12v2M75 17v5M75 28v3M76 2v1M76 28v2M79 22v1M88 36v1M96 1v1M97 1v1M97 25v1M99 2v1M100 3v1M101 1v3M102 0v1M102 2v1M102 4v1M103 1v1M103 12v1M104 1v2M104 5v1M104 14v1M105 1v1M105 3v3M105 8v1M105 15v1M106 2v1M106 4v1M106 20v1M107 5v1M107 19v1M108 5v1M108 34v1M109 5v1M109 8v2M109 21v2M109 26v2M110 7v1M110 10v1M111 11v2M111 15v1M111 19v1M111 24v1M111 27v1M112 16v2M112 22v1M112 26v1M112 29v1M112 33v3M113 23v1M113 26v1M113 30v1M113 35v1M114 36v1M115 38v2M116 41v1M117 44v1M118 45v1M119 47v2M120 49v1M121 52v1M122 53v10M123 62v4M123 69v1M123 72v3M124 80v4M147 84v1M150 83v1M152 82v1M152 84v1M155 84v1"/>
<path stroke="#482173" d="M0 84v1M2 82v1M9 82v1M16 82v1M20 83v1M25 82v1M25 84v1M34 27v1M35 16v1M35 27v1M36 12v1M40 33v1M41 36v1M42 33v4M69 3v2M70 10v1M70 17v2M70 25v2M71 4v9M71 15v2M72 4v3M73 18v4M74 27v1M74 30v7M75 11v1M75 22v6M75 31v1M76 3v1M76 13v1M76 27v1M77 0v2M77 26v2M78 26v3M79 23v1M80 26v1M84 0v1M87 1v1M88 37v1M90 38v1M92 55v2M96 2v5M96 8v1M97 2v1M97 28v1M98 1v1M98 25v1M99 3v1M102 1v1M102 16v1M103 5v2M103 10v2M104 10v1M104 16v1M105 2v1M105 6v2M106 21v1M107 21v1M108 6v1M108 15v2M108 19v3M109 6v2M109 10v1M109 20v1M109 23v1M110 19v1M110 24v1M111 13v2M111 16v2M111 25v2M112 18v4M112 23v3M113 24v2M114 37v3M115 40v2M116 42v1M117 45v2M118 46v1M119 49v1M120 50v1M120 84v1M121 53v1M121 56v2M123 66v3M123 70v2M123 75v1M123 83v1M126 83v1M127 82v1M146 82v1M147 83v1"/>
<path stroke="#482878" d="M2 84v1M3 83v1M9 84v1M16 84v1M17 83v1M26 84v1M34 11v1M35 17v1M37 0v1M39 31v1M40 0v1M40 25v1M40 34v2M43 5v4M63 84v1M64 84v1M65 0v1M65 2v1M69 2v1M69 5v1M70 19v1M70 24v1M71 17v2M71 23v1M71 36v1M72 18v1M72 21v2M72 26v2M73 22v1M74 28v2M76 12v1M76 14v1M76 26v1M76 30v1M77 2v1M77 28v1M79 21v1M80 23v3M80 27v1M83 0v1M87 7v1M87 31v1M89 38v1M90 41v1M91 38v1M91 54v3M92 38v1M92 52v3M92 57v1M93 38v1M93 54v2M96 7v1M96 27v2M97 3v1M98 2v1M99 20v1M100 4v1M100 14v2M101 4v1M102 5v1M102 8v2M102 13v1M104 13v1M105 9v1M105 21v1M105 27v3M106 5v1M107 18v1M108 7v3M108 14v1M108 17v2M108 22v1M108 35v1M109 16v2M109 19v1M110 11v1M110 25v2M111 18v1M111 30v1M112 30v1M112 32v1M112 40v1M113 36v1M114 40v2M115 42v1M115 44v2M115 51v1M116 43v1M117 47v3M118 47v2M119 50v1M119 84v1M120 51v1M121 54v2M121 58v3M121 83v1M122 63v1M122 68v1M122 83v1M123 76v2M123 81v2M127 84v1M146 84v1M152 83v1M154 82v1M155 83v1M156 82v1"/>
<path stroke="#472d7b" d="M0 83v1M23 83v1M28 23v1M34 10v1M34 28v1M35 12v1M35 28v1M36 4v2M36 9v1M37 10v3M40 5v1M40 14v1M40 24v1M40 30v1M41 37v1M42 37v1M43 0v5M43 9v1M43 15v1M61 84v1M64 12v2M65 1v1M65 3v1M65 84v1M68 0v1M69 1v1M69 6v2M70 20v1M70 23v1M70 27v1M70 30v2M70 35v2M71 19v4M71 24v4M71 30v2M71 35v1M72 19v2M72 23v1M72 25v1M72 28v3M72 36v1M73 23v1M73 26v1M74 37v1M75 32v1M76 4v1M76 11v1M76 15v1M76 25v1M77 29v1M78 25v1M79 24v1M80 0v1M80 22v1M82 0v1M84 84v1M87 6v1M87 30v1M87 84v1M88 84v1M89 39v2M89 48v4M90 39v2M90 42v2M90 54v3M90 84v1M91 53v1M91 57v1M91 62v1M92 58v1M93 47v7M93 56v1M96 9v1M96 33v1M97 4v3M98 3v1M98 28v1M99 4v1M99 9v2M99 21v1M100 10v1M101 14v1M102 6v2M102 27v2M104 11v1M104 21v1M105 14v1M105 16v1M105 20v1M105 26v1M106 19v1M106 22v1M106 28v2M107 6v1M108 10v1M108 27v1M108 33v1M109 11v1M109 15v1M109 18v1M109 24v2M109 34v2M110 15v4M110 27v1M111 40v1M112 31v1M112 36v1M112 39v1M112 41v1M115 43v1M115 46v1M115 50v1M116 44v1M117 50v1M118 49v2M119 51v1M120 52v1M120 55v3M121 61v1M122 64v2M122 67v1M122 69v1M122 74v1M123 78v3M154 84v1M156 84v1"/>
<path stroke="#46337f" d="M9 83v1M25 83v1M34 12v1M35 15v1M35 26v1M36 16v1M37 13v1M40 4v1M40 10v1M40 13v1M40 15v1M40 18v2M40 26v1M40 84v1M43 10v1M43 14v1M43 16v1M43 20v2M59 84v1M66 17v1M67 7v3M68 1v1M68 6v1M69 0v1M69 17v1M70 22v1M70 28v2M70 32v1M70 34v1M71 28v2M71 37v1M72 24v1M72 31v1M72 35v1M72 37v1M73 24v2M73 27v1M75 33v4M76 5v1M76 10v1M76 23v2M77 25v1M79 26v3M81 0v1M83 13v2M84 1v1M86 0v1M87 2v1M87 25v2M87 32v1M88 38v1M88 51v2M89 41v1M89 43v1M89 47v1M89 52v1M90 44v2M90 48v2M90 53v1M90 57v1M91 42v2M91 52v1M91 58v1M91 61v1M91 63v1M91 84v1M92 42v8M92 51v1M92 59v2M92 62v2M93 43v1M93 57v2M93 63v2M95 0v2M96 26v1M96 34v1M97 7v1M97 24v1M98 4v2M98 8v2M98 20v1M98 24v1M99 5v1M99 13v3M99 19v1M99 27v1M100 9v1M100 13v1M100 16v1M100 20v1M101 15v1M102 10v1M102 84v1M103 27v1M104 12v1M104 22v1M105 22v4M105 30v1M106 6v2M106 31v2M107 7v1M107 17v1M107 22v1M107 33v1M108 11v1M108 13v1M108 23v1M109 36v1M110 12v1M110 14v1M111 39v1M111 41v1M111 45v1M113 39v1M114 42v1M114 84v1M115 52v1M115 84v1M116 45v1M117 84v1M118 51v1M118 84v1M119 52v1M119 55v1M119 62v2M120 53v2M121 62v1M122 66v1M122 70v1M122 73v1M122 75v1M122 78v5"/>
<path stroke="#443983" d="M2 83v1M16 83v1M28 24v1M29 23v2M33 0v1M34 9v1M34 26v1M34 32v2M35 8v1M35 18v4M36 13v1M36 15v1M37 1v1M37 9v1M37 14v1M38 0v1M38 10v1M39 32v1M40 1v1M40 6v1M40 9v1M40 11v1M40 16v2M40 20v1M40 36v1M43 11v1M43 13v1M43 17v3M43 22v1M43 25v5M44 84v1M50 0v1M51 32v1M56 84v1M60 84v1M64 11v1M65 4v1M66 18v1M67 6v1M67 10v1M68 5v1M68 7v1M69 8v1M69 11v2M69 18v1M69 84v1M70 21v1M70 33v1M71 32v1M71 34v1M72 32v3M73 28v9M76 6v1M76 8v2M76 16v1M76 22v1M76 84v1M77 3v1M77 30v1M78 24v1M78 29v1M79 20v1M79 25v1M80 28v1M80 32v2M80 84v1M81 25v1M83 84v1M87 5v1M87 8v1M87 24v1M87 29v1M88 39v2M88 43v1M88 48v3M88 53v1M88 61v2M89 42v1M89 44v3M89 53v4M89 59v2M90 46v2M90 50v3M90 58v1M91 39v1M91 41v1M91 44v4M91 50v2M91 59v2M92 50v1M92 61v1M93 42v1M93 44v3M93 59v1M93 65v1M93 84v1M95 2v3M96 10v1M96 20v1M96 29v1M96 32v1M97 8v1M97 29v1M98 6v2M98 14v1M98 21v1M99 8v1M99 16v1M99 38v1M100 11v1M100 21v1M101 5v1M102 12v1M102 29v1M102 32v2M103 17v1M103 28v1M104 27v1M105 10v1M106 8v2M106 18v1M106 27v1M106 30v1M107 8v3M107 15v2M107 34v1M108 12v1M108 28v1M108 84v1M109 12v1M109 14v1M109 28v1M109 39v1M110 13v1M110 84v1M111 31v1M111 34v2M111 44v1M111 46v1M112 37v1M113 37v2M113 40v1M114 43v2M114 50v1M116 46v1M116 84v1M117 51v1M118 52v2M119 53v2M119 56v1M120 58v1M121 63v2M121 66v3M121 79v4M122 72v1M122 76v2M127 83v1M146 83v1"/>
<path stroke="#433e85" d="M30 24v1M32 84v1M33 1v1M33 84v1M34 8v1M34 16v1M36 3v1M36 6v1M36 17v1M37 5v1M37 15v1M38 9v1M38 11v1M39 30v1M40 2v2M40 7v2M40 12v1M40 21v1M40 23v1M41 84v1M43 12v1M43 23v2M43 30v1M43 84v1M45 84v1M46 84v1M50 1v1M50 31v2M51 31v1M51 84v1M52 4v2M57 84v1M58 84v1M61 64v1M62 84v1M64 0v1M64 14v1M65 12v2M65 36v2M66 10v2M67 11v1M68 2v1M68 11v1M69 9v2M69 15v2M70 37v1M70 84v1M71 33v1M75 37v1M76 7v1M76 31v1M77 24v1M78 22v2M79 0v1M79 29v1M80 11v1M80 21v1M80 31v1M81 24v1M81 26v1M85 84v1M86 1v1M86 25v1M87 3v1M87 9v1M87 27v1M87 33v1M88 41v2M88 44v1M88 60v1M88 63v1M89 57v2M89 61v4M90 59v1M90 62v2M91 40v1M91 48v2M92 39v1M92 41v1M92 64v1M92 84v1M93 39v3M93 60v3M94 84v1M95 5v1M95 9v1M96 11v1M96 19v1M96 21v1M96 30v2M97 9v1M98 10v1M98 13v1M98 19v1M98 22v2M99 6v1M99 11v2M99 17v2M99 28v1M99 32v1M100 5v1M100 8v1M100 12v1M100 19v1M101 9v1M101 13v1M102 17v1M102 26v1M102 30v2M103 39v1M104 17v1M104 20v1M104 26v1M104 28v1M105 13v1M105 17v1M105 19v1M105 31v2M106 10v1M106 17v1M106 23v1M107 11v1M107 32v1M108 26v1M109 13v1M109 33v1M109 37v2M109 40v1M109 84v1M110 28v1M110 40v2M111 36v1M111 42v1M111 47v1M112 38v1M112 42v1M113 41v1M114 45v2M114 51v1M115 47v1M115 49v1M116 47v1M116 50v2M117 52v2M118 54v1M119 57v5M119 64v1M120 62v3M120 83v1M121 65v1M121 78v1M122 71v1M154 83v1M156 83v1"/>
<path stroke="#414487" d="M30 23v1M33 16v1M33 27v1M33 33v1M34 1v1M34 7v1M34 13v1M34 15v1M34 29v1M35 4v4M35 13v1M35 22v1M35 29v1M35 33v1M36 0v1M36 14v1M37 6v1M38 8v1M38 12v2M40 22v1M40 27v1M40 29v1M42 84v1M43 31v2M43 34v2M50 2v1M50 4v6M50 84v1M51 21v1M51 30v1M51 33v1M52 6v1M52 32v1M52 84v1M61 63v1M61 65v1M61 68v2M65 5v1M65 35v1M66 8v2M66 16v1M66 19v1M66 84v1M68 3v2M68 8v1M68 10v1M68 31v1M69 13v2M69 19v1M73 37v1M74 84v1M75 84v1M76 17v1M76 20v2M77 84v1M80 1v1M80 30v1M81 23v1M82 84v1M83 12v1M83 27v2M85 0v1M85 25v1M86 2v1M86 24v1M86 26v1M86 31v1M86 84v1M87 4v1M87 13v2M87 21v3M87 28v1M88 45v3M88 54v1M88 59v1M88 64v1M89 84v1M90 60v2M91 64v1M92 40v1M92 65v1M95 6v3M95 10v1M95 27v2M95 34v1M95 84v1M96 12v1M96 35v1M97 10v1M97 21v3M97 32v1M98 15v1M98 32v2M99 7v1M99 26v1M99 39v1M99 84v1M100 17v1M100 27v2M100 30v2M101 8v1M101 10v1M101 27v2M101 84v1M102 11v1M102 34v1M102 39v1M103 26v1M103 33v1M103 38v1M104 23v1M104 25v1M104 29v1M104 33v1M105 11v2M105 33v1M106 16v1M106 33v1M107 14v1M107 28v1M108 36v1M110 39v1M111 32v2M111 37v2M111 43v1M112 45v1M112 47v3M113 42v1M113 49v1M113 84v1M114 49v1M114 52v1M115 48v1M115 53v1M116 48v2M116 52v2M117 54v1M118 62v2M120 59v1M121 69v1M121 76v2"/>
<path stroke="#3e4989" d="M26 83v1M27 84v1M28 22v1M28 84v1M33 2v1M33 7v1M33 13v1M33 15v1M33 26v1M33 28v1M33 32v1M34 0v1M34 14v1M34 31v1M34 34v1M34 84v1M35 14v1M35 32v1M36 1v1M37 4v1M37 8v1M37 16v1M38 14v1M38 16v2M38 32v1M38 84v1M39 0v1M39 5v2M39 9v1M39 33v1M39 84v1M43 33v1M43 36v2M50 3v1M50 10v2M50 24v1M50 33v2M50 36v2M51 4v1M51 19v2M51 22v2M51 29v1M51 36v1M52 3v1M52 7v2M52 31v1M52 33v1M53 84v1M55 84v1M61 66v2M62 66v1M64 1v2M64 10v1M64 15v1M65 11v1M65 14v4M66 0v2M66 7v1M66 20v1M66 23v1M67 5v1M67 84v1M68 9v1M68 12v1M68 32v1M68 84v1M69 30v3M72 84v1M74 38v1M75 38v1M76 18v2M77 4v1M77 23v1M77 31v1M78 0v2M78 21v1M78 84v1M79 1v1M79 30v1M79 84v1M80 10v1M80 12v1M80 29v1M81 1v1M81 27v1M81 31v1M81 84v1M82 14v1M83 1v1M83 15v1M84 13v1M85 1v1M85 26v1M86 3v1M86 6v1M87 10v1M87 19v2M89 65v1M90 64v1M92 66v1M93 66v1M95 20v1M95 26v1M95 33v1M95 35v1M96 13v1M96 25v1M96 84v1M97 14v1M97 20v1M97 30v2M97 33v1M98 11v2M98 31v1M98 37v1M99 22v1M99 31v1M99 33v1M99 37v1M99 44v1M100 18v1M100 29v1M100 32v1M100 45v1M100 84v1M101 6v1M101 12v1M101 16v1M101 29v4M102 38v1M102 45v1M103 29v1M103 32v1M103 84v1M104 24v1M104 30v1M104 32v1M105 18v1M107 12v1M107 23v1M107 84v1M108 24v2M108 29v1M108 32v1M108 39v1M109 41v1M110 29v1M110 35v4M110 45v1M110 50v2M111 48v1M112 43v2M112 46v1M112 50v1M113 45v1M113 50v1M114 47v1M116 54v1M117 55v1M117 62v2M118 55v1M118 61v1M120 65v1M121 73v3"/>
<path stroke="#3d4e8a" d="M29 22v1M29 25v1M29 84v1M31 1v1M31 84v1M32 1v2M33 12v1M33 14v1M33 17v1M33 29v1M34 6v1M34 17v1M34 21v2M34 30v1M35 0v2M35 34v1M36 2v1M36 8v1M36 18v1M36 27v4M37 7v1M37 17v1M37 84v1M38 1v1M38 5v3M38 15v1M38 18v1M39 7v2M39 19v2M39 25v1M40 28v1M41 38v1M42 38v1M47 84v1M48 84v1M49 6v2M49 32v2M49 37v1M50 12v3M50 23v1M50 25v1M50 30v1M50 35v1M50 38v1M51 3v1M51 18v1M51 24v1M51 27v1M51 35v1M51 37v1M52 9v1M52 20v2M52 30v1M54 84v1M61 62v1M61 70v1M62 65v1M62 67v2M63 83v1M64 3v1M64 6v2M65 6v1M66 2v1M66 6v1M66 12v1M66 15v1M66 21v2M66 24v1M66 36v2M67 0v1M68 30v1M69 29v1M69 33v3M72 38v1M73 84v1M75 39v1M78 2v1M78 30v1M80 20v1M80 34v1M81 22v1M81 32v1M82 1v1M82 15v1M82 27v2M83 6v2M84 12v1M84 34v2M85 19v1M85 24v1M86 4v2M86 7v1M86 23v1M86 27v1M86 30v1M87 11v2M87 34v1M88 55v1M88 58v1M88 65v1M91 65v1M92 67v1M95 11v1M95 19v1M95 21v1M95 32v1M96 14v1M96 22v1M97 11v1M97 13v1M97 84v1M98 29v1M98 34v1M98 36v1M98 38v1M100 6v2M100 44v1M101 7v1M101 11v1M101 20v1M101 26v1M101 33v1M101 39v1M101 45v1M102 18v1M102 20v1M102 25v1M102 44v1M103 34v1M103 40v1M104 18v2M104 31v1M104 34v1M104 84v1M105 84v1M106 11v1M106 15v1M106 24v1M106 26v1M107 13v1M107 27v1M107 29v1M107 31v1M107 35v1M108 38v1M108 40v1M109 45v1M110 42v1M110 44v1M111 49v3M111 84v1M112 84v1M113 43v2M113 46v1M113 48v1M114 48v1M114 53v1M115 58v3M115 83v1M117 61v1M118 64v1M119 65v1M119 83v1M120 60v2M120 78v5M121 72v1"/>
<path stroke="#3a538b" d="M28 25v1M30 22v1M30 25v1M31 2v1M32 0v1M33 6v1M33 8v1M35 3v1M35 23v1M35 25v1M35 30v2M36 7v1M36 19v1M36 31v2M37 2v1M37 32v1M38 19v1M38 21v1M38 31v1M38 33v1M39 4v1M39 10v1M39 15v1M39 18v1M39 26v1M39 29v1M43 38v1M49 0v1M49 4v2M49 8v2M49 23v1M49 31v1M49 36v1M49 84v1M50 20v1M50 22v1M51 5v3M51 12v3M51 17v1M51 25v2M51 28v1M51 34v1M52 2v1M52 19v1M52 22v1M52 34v1M56 62v1M60 65v2M61 52v3M61 61v1M61 71v1M62 50v1M62 56v1M62 63v2M62 69v1M64 4v1M64 16v1M64 36v1M65 7v1M65 10v1M65 18v1M65 34v1M65 38v1M66 3v3M66 13v1M66 25v1M66 35v1M67 1v1M67 12v1M67 21v2M68 33v2M69 20v1M69 28v1M69 36v1M75 40v1M75 49v4M76 32v1M77 5v3M77 22v1M79 19v1M79 31v1M80 9v1M80 13v1M81 15v1M81 28v3M81 33v1M82 13v1M82 29v2M83 5v1M83 8v1M83 11v1M83 26v1M83 29v1M83 34v3M84 2v1M84 11v1M84 14v1M84 25v2M84 32v2M84 36v1M85 2v1M85 18v1M85 30v2M85 33v1M86 19v3M86 28v2M86 32v1M87 15v1M87 18v1M88 56v2M88 66v1M90 83v1M91 66v1M91 83v1M92 70v4M93 67v2M93 72v2M95 29v1M95 31v1M95 36v1M96 36v2M97 12v1M97 15v1M97 34v1M98 16v1M98 18v1M98 35v1M98 84v1M99 25v1M99 29v1M99 43v1M99 45v1M100 33v1M100 38v2M100 46v1M101 21v1M102 21v1M102 40v1M102 46v1M103 21v1M103 30v2M103 37v1M104 39v1M105 46v1M106 25v1M106 39v2M106 84v1M107 30v1M107 40v1M108 37v1M108 44v1M109 42v1M109 44v1M109 50v3M110 34v1M110 43v1M110 46v1M110 49v1M112 51v1M113 47v1M114 56v2M114 83v1M115 54v2M115 57v1M115 81v1M116 55v1M116 59v2M117 56v1M117 60v1M117 64v1M118 56v5M120 66v1M120 77v1M121 70v2"/>
<path stroke="#38598c" d="M26 82v1M28 2v2M28 9v1M29 8v2M31 0v1M32 3v1M32 33v1M33 3v1M33 11v1M33 25v1M33 31v1M33 34v1M34 2v1M34 35v1M35 2v1M35 84v1M36 20v1M37 3v1M37 18v1M37 22v1M37 31v1M38 20v1M38 22v1M39 11v1M39 13v2M39 16v2M39 21v1M39 24v1M40 37v1M49 1v3M49 13v2M49 22v1M49 34v2M49 38v1M50 15v1M50 19v1M50 21v1M50 39v1M51 1v2M51 8v2M51 11v1M51 15v2M51 38v1M52 0v2M52 10v1M52 13v1M52 27v3M52 35v2M56 61v1M60 64v1M60 67v1M60 70v1M61 51v1M61 55v6M61 72v1M61 83v1M62 51v1M62 55v1M62 60v3M64 5v1M64 8v2M64 30v1M64 37v1M64 83v1M65 19v1M65 24v1M65 31v1M66 14v1M67 4v1M67 18v3M67 25v1M68 13v1M68 18v1M68 35v1M69 25v3M69 37v1M71 38v1M71 84v1M74 49v4M75 41v1M75 48v1M75 53v1M75 63v2M77 32v1M78 3v1M78 20v1M79 2v1M79 32v2M80 7v2M80 37v1M81 14v1M81 34v1M81 36v2M83 9v2M83 33v1M84 10v1M84 37v1M85 20v1M85 23v1M85 27v1M85 32v1M85 34v2M86 8v1M86 18v1M86 22v1M87 16v2M87 35v1M89 66v1M90 65v1M91 67v1M92 68v2M92 74v1M93 69v1M93 74v1M95 12v1M95 22v1M95 25v1M95 30v1M96 18v1M96 38v2M96 43v2M97 19v1M98 17v1M98 30v1M98 39v1M98 45v1M99 30v1M99 34v1M99 36v1M99 46v1M99 49v1M100 22v1M100 47v1M100 50v1M101 17v1M101 19v1M101 34v1M101 38v1M102 19v1M102 35v1M102 43v1M103 18v1M103 20v1M103 25v1M103 35v2M103 45v2M104 40v1M104 45v2M105 40v1M105 45v1M106 12v1M106 34v1M107 39v1M107 45v1M108 30v1M108 41v1M108 45v1M109 32v1M109 43v1M109 46v1M109 53v1M110 30v1M110 33v1M110 52v1M113 51v1M113 56v2M114 54v1M114 80v2M115 56v1M115 61v1M115 80v1M115 82v1M116 58v1M116 61v1M116 82v2M117 57v3M117 81v1M117 83v1M118 83v1M119 66v1M119 76v2M120 67v1M120 76v1"/>
<path stroke="#365d8d" d="M28 8v1M31 19v1M31 23v2M31 34v1M32 17v1M33 5v1M33 9v1M33 22v1M33 30v1M34 5v1M34 23v1M34 25v1M35 35v1M36 26v1M36 33v1M36 36v1M37 19v1M37 21v1M37 33v1M37 36v1M38 4v1M38 25v2M38 34v1M39 1v1M39 3v1M39 12v1M39 22v1M39 27v1M39 34v1M49 10v1M49 12v1M49 15v1M49 24v1M50 18v1M50 26v1M50 29v1M51 0v1M51 10v1M52 12v1M52 14v5M52 23v4M56 63v4M56 83v1M57 65v2M59 83v1M60 56v2M60 69v1M60 71v1M61 50v1M61 73v1M62 49v1M62 54v1M62 57v1M62 70v1M65 8v2M65 25v1M65 30v1M65 32v2M65 83v1M66 34v1M67 16v2M67 23v2M67 26v1M67 35v1M68 17v1M68 19v2M68 28v2M68 36v1M69 24v1M70 38v1M73 38v1M74 45v1M74 48v1M75 42v1M75 45v3M75 56v1M75 65v1M77 8v1M78 4v1M78 6v2M78 31v1M79 6v2M79 34v3M80 2v1M80 6v1M80 16v2M80 35v2M81 21v1M81 35v1M82 6v3M82 22v5M82 31v1M82 35v2M83 16v1M83 30v2M84 6v1M84 9v1M84 24v1M84 27v1M84 31v1M85 29v1M86 14v2M87 83v1M88 67v1M88 83v1M91 72v1M91 82v1M92 75v1M93 71v1M93 75v1M93 83v1M95 13v1M95 18v1M95 37v3M95 43v1M96 15v1M96 23v2M96 40v1M97 16v1M97 35v1M97 37v2M97 44v1M98 44v1M99 23v2M99 40v1M99 47v2M99 50v1M100 26v1M100 34v1M100 37v1M100 43v1M100 48v2M100 51v1M101 18v1M101 40v1M101 44v1M101 46v1M102 22v1M102 24v1M102 37v1M103 22v1M104 38v1M105 34v1M105 39v1M105 47v1M106 14v1M106 41v1M107 24v1M107 26v1M107 44v1M107 46v1M108 31v1M108 43v1M108 46v1M109 49v1M109 54v1M110 32v1M110 47v1M111 52v1M112 52v1M112 58v1M113 58v1M114 55v1M114 58v1M114 82v1M116 62v1M116 81v1M117 65v1M117 73v2M117 80v1M117 82v1M118 65v1M118 74v1M119 67v1M119 78v1M119 82v1M120 68v1M120 70v1M120 75v1"/>
<path stroke="#33628d" d="M26 0v1M27 8v1M27 23v2M28 21v1M30 2v1M30 8v2M30 19v3M30 31v3M30 84v1M31 3v1M31 18v1M31 20v3M31 33v1M31 35v1M32 4v1M32 7v1M32 16v1M32 18v1M32 21v3M32 32v1M33 4v1M33 10v1M33 21v1M33 23v1M33 35v1M34 18v1M34 20v1M34 36v1M35 24v1M35 36v1M36 21v1M36 34v2M36 37v1M36 84v1M37 20v1M37 35v1M37 37v1M38 23v2M38 30v1M39 2v1M39 23v1M39 28v1M42 39v1M43 39v1M49 11v1M49 21v1M49 30v1M50 16v2M50 27v2M50 42v2M50 47v2M51 39v3M52 11v1M52 37v1M52 41v1M53 53v3M55 54v2M55 63v3M56 54v3M56 60v1M57 64v1M57 67v2M57 83v1M58 83v1M59 56v2M59 60v2M59 66v1M59 70v2M60 55v1M60 63v1M60 68v1M60 72v1M60 83v1M61 0v1M61 45v2M61 49v1M62 52v1M62 58v2M62 71v5M62 83v1M64 17v1M64 24v1M64 31v1M64 35v1M65 23v1M66 26v1M66 33v1M66 38v1M67 2v1M67 13v1M67 15v1M67 34v1M67 36v2M68 15v2M68 27v1M68 37v1M69 21v1M70 52v2M72 44v4M73 49v2M74 46v1M74 53v1M75 43v2M75 54v2M75 57v1M75 62v1M76 53v1M77 12v3M77 21v1M77 33v1M78 5v1M80 14v1M80 19v1M81 2v1M81 9v1M81 13v1M81 16v1M82 5v1M82 9v1M82 12v1M82 16v1M82 34v1M82 37v1M83 2v1M83 4v1M83 32v1M83 37v1M84 5v1M84 7v2M84 15v1M84 28v1M85 3v1M85 21v2M85 28v1M85 36v1M86 16v2M86 33v1M87 36v1M88 68v1M89 67v1M90 66v1M91 68v1M91 71v1M91 73v1M91 81v1M92 83v1M93 70v1M95 14v1M95 23v2M95 40v1M95 42v1M95 44v1M96 42v1M96 45v1M97 17v2M97 36v1M97 39v1M97 45v1M98 40v1M98 46v1M99 35v1M101 50v2M102 47v5M103 19v1M103 24v1M103 44v1M103 47v1M103 50v2M104 47v1M104 51v1M104 58v1M105 41v1M105 50v1M106 13v1M106 46v1M107 41v1M107 43v1M107 47v1M107 55v3M108 42v1M109 29v1M109 47v2M109 55v2M110 31v1M110 48v1M110 53v1M110 55v2M112 53v1M112 56v2M112 59v1M113 52v2M113 55v1M114 59v2M114 79v1M115 62v1M115 79v1M116 80v1M117 72v1M117 75v1M118 73v1M118 82v1M119 74v2M119 79v3M120 69v1M120 71v4"/>
<path stroke="#31668e" d="M26 1v4M27 2v1M27 9v1M28 26v1M29 2v1M29 7v1M29 21v1M30 1v1M30 7v1M30 26v1M30 29v2M30 34v1M31 7v1M31 25v1M31 36v1M32 5v2M32 19v2M32 34v1M33 18v1M33 24v1M34 3v2M34 19v1M34 24v1M34 37v1M35 37v1M36 22v1M37 23v1M37 26v1M37 30v1M37 34v1M38 2v2M38 35v2M40 83v1M41 83v1M44 83v1M45 62v1M49 16v1M49 20v1M49 25v5M49 39v1M50 40v1M50 44v1M50 46v1M51 42v1M51 44v1M52 38v1M52 40v1M52 42v1M53 60v3M55 2v2M55 53v1M55 61v2M55 66v2M56 53v1M56 57v3M56 67v1M57 69v1M58 65v1M59 55v1M59 58v2M59 62v1M59 64v2M59 67v1M59 69v1M59 72v2M59 80v1M60 0v1M60 54v1M60 58v5M61 1v1M61 44v1M61 47v2M61 74v1M61 78v1M62 48v1M62 53v1M63 14v2M63 82v1M64 18v1M64 29v1M64 38v1M65 20v1M65 26v1M66 31v2M67 3v1M67 14v1M67 27v1M67 31v1M67 33v1M68 14v1M68 21v1M68 26v1M69 23v1M69 38v1M70 44v1M70 51v1M71 44v1M72 39v1M72 48v1M73 45v2M73 48v1M73 51v2M74 39v1M74 47v1M74 64v2M75 66v1M76 33v1M76 41v1M76 49v4M76 54v1M76 83v1M77 9v1M77 11v1M78 32v2M79 5v1M79 8v1M79 37v1M80 15v1M80 18v1M80 38v1M81 6v1M81 8v1M81 10v1M81 38v1M82 2v1M82 10v2M82 21v1M83 3v1M83 25v1M84 3v2M84 23v1M84 83v1M85 4v3M85 13v2M85 17v1M86 9v1M89 68v1M90 67v1M91 70v1M91 74v1M92 76v1M92 82v1M93 80v3M95 17v1M95 41v1M96 16v2M96 41v1M97 43v1M98 42v2M98 49v2M99 42v1M99 51v1M100 40v1M100 52v1M101 25v1M101 47v3M101 52v1M102 23v1M102 36v1M102 41v2M102 52v1M103 23v1M103 48v2M103 52v1M104 35v1M104 41v1M104 44v1M104 50v1M104 52v1M104 57v1M105 38v1M105 48v2M105 51v1M105 56v3M106 38v1M106 45v1M106 47v4M106 56v3M107 25v1M107 36v1M107 38v1M107 42v1M107 48v1M107 50v1M107 58v1M108 47v1M108 52v2M108 83v1M110 54v1M110 59v1M111 56v1M112 54v2M112 60v1M113 54v1M113 59v1M114 61v1M116 56v2M116 63v1M116 75v1M117 66v1M117 70v2M117 76v1M117 79v1M118 66v1M118 71v2M118 75v3M119 73v1"/>
<path stroke="#2f6b8e" d="M26 5v5M26 81v1M27 3v1M27 7v1M27 25v1M28 1v1M28 4v1M28 7v1M28 10v1M29 3v1M29 10v1M29 26v1M30 10v1M30 18v1M30 28v1M31 6v1M31 8v1M31 10v2M31 32v1M32 8v1M32 24v1M33 36v1M37 24v2M37 27v1M37 29v1M38 27v1M39 35v1M41 39v1M44 58v6M45 56v6M47 59v3M47 63v1M49 17v3M49 43v6M50 41v1M50 45v1M50 49v1M51 43v1M51 45v1M51 61v1M52 39v1M52 43v1M52 48v2M53 49v1M53 52v1M53 56v1M53 59v1M53 63v1M53 68v1M54 53v2M55 0v2M55 52v1M55 56v1M55 60v1M55 68v1M56 43v1M56 70v1M56 81v2M57 55v1M57 61v1M57 63v1M58 66v1M59 51v2M59 54v1M59 63v1M59 68v1M59 74v1M59 79v1M59 81v2M60 45v1M60 51v3M60 73v1M60 78v3M61 75v1M61 79v2M62 46v2M62 76v1M63 12v2M63 16v1M64 19v1M64 23v1M64 25v1M65 21v2M65 29v1M65 39v1M67 30v1M67 32v1M67 38v1M68 38v1M69 22v1M69 53v1M69 83v1M70 43v1M70 45v1M70 50v1M71 45v2M72 43v1M72 49v1M73 47v1M73 53v1M74 41v1M74 44v1M74 54v1M74 62v2M74 66v1M75 58v1M75 60v2M76 34v1M76 40v1M76 42v5M76 48v1M76 55v3M77 10v1M77 15v1M77 20v1M78 19v1M78 34v1M79 3v2M79 18v1M80 3v1M80 5v1M81 5v1M81 7v1M81 11v2M81 20v1M82 4v1M82 32v2M83 23v2M84 18v5M84 29v2M84 38v1M85 8v2M85 37v1M86 13v1M87 37v1M90 82v1M91 69v1M91 75v3M91 80v1M92 77v1M92 79v3M93 76v4M95 15v1M95 45v1M97 46v1M98 41v1M98 48v1M99 41v1M99 56v1M100 36v1M100 56v1M101 22v1M101 35v1M101 37v1M101 43v1M101 53v3M102 53v1M102 55v2M102 83v1M103 41v1M103 43v1M103 53v1M104 37v1M104 53v1M104 59v1M105 44v1M106 35v1M106 42v1M106 51v1M106 55v1M107 49v1M107 51v1M107 54v1M108 48v4M108 54v1M109 57v1M109 83v1M110 57v1M110 60v1M110 83v1M111 53v1M111 55v1M111 57v3M112 61v1M113 60v2M113 83v1M114 75v1M114 78v1M115 63v1M115 73v1M116 74v1M117 68v2M118 67v1M118 70v1M118 81v1M119 68v1M119 71v2"/>
<path stroke="#2d708e" d="M26 10v17M26 73v8M27 1v1M27 10v1M27 22v1M28 20v1M29 19v2M29 33v1M30 3v1M30 11v1M30 27v1M30 35v1M31 9v1M31 17v1M32 11v1M33 20v1M36 23v1M36 25v1M37 28v1M38 28v2M38 37v1M39 36v1M41 53v1M42 40v1M42 42v2M42 48v1M42 66v1M42 83v1M43 55v2M43 58v1M43 64v2M43 71v1M43 83v1M44 57v1M44 64v3M45 63v1M45 65v3M46 83v1M47 58v1M47 62v1M47 64v1M48 59v1M48 63v1M49 49v1M49 62v1M50 62v1M51 46v2M51 49v1M51 62v1M52 44v4M52 50v1M53 1v4M53 50v2M53 57v2M53 64v1M53 67v1M53 69v1M53 83v1M54 55v1M55 4v1M55 59v1M55 69v2M55 83v1M56 42v1M56 44v1M56 49v4M56 68v2M56 71v1M56 80v1M57 54v1M57 56v2M57 59v2M57 62v1M57 70v1M58 64v1M58 67v1M58 82v1M59 50v1M59 53v1M59 78v1M60 44v1M60 46v1M60 50v1M61 2v1M61 43v1M61 76v2M61 81v2M62 45v1M62 77v1M62 82v1M63 0v1M63 17v1M63 49v1M63 81v1M64 20v3M64 32v1M64 34v1M65 27v2M66 39v1M67 28v2M68 39v1M69 39v1M69 52v1M69 54v1M70 46v1M70 54v1M71 39v1M71 47v1M72 50v4M73 39v1M73 44v1M74 40v1M74 42v2M74 55v2M75 59v1M75 67v1M75 83v1M76 35v2M76 39v1M76 47v1M76 58v1M77 16v1M77 19v1M77 34v1M78 8v1M78 35v1M79 9v4M80 4v1M80 83v1M81 3v1M81 17v1M82 3v1M82 17v1M82 20v1M82 38v1M83 17v1M84 16v1M85 7v1M85 10v1M85 15v2M86 34v1M90 68v1M90 71v2M91 78v2M92 78v1M94 83v1M95 16v1M95 46v1M96 46v1M97 40v1M97 50v1M98 47v1M98 51v1M99 52v1M99 55v1M100 35v1M100 42v1M100 53v3M100 57v1M101 41v1M102 54v1M103 42v1M104 36v1M104 48v2M104 54v3M105 35v1M105 42v1M105 52v1M105 55v1M105 59v1M106 44v1M107 37v1M107 52v2M108 55v2M109 31v1M109 58v1M110 58v1M111 54v1M111 60v1M114 62v1M114 76v2M115 64v1M115 72v1M115 74v5M116 76v1M116 79v1M117 67v1M117 77v2M118 68v2M118 78v1M119 69v2"/>
<path stroke="#2c738e" d="M26 27v46M27 0v1M27 4v1M27 11v1M27 21v1M28 11v1M28 17v3M28 27v1M29 4v1M29 11v2M29 18v1M29 29v4M29 34v1M30 6v1M31 4v2M31 26v1M31 31v1M31 37v1M32 12v1M32 15v1M32 25v1M32 27v2M32 31v1M32 35v1M33 19v1M33 37v1M41 51v2M41 54v1M41 63v2M42 44v1M42 47v1M42 49v1M42 63v3M43 44v2M43 57v1M43 59v2M43 62v2M43 66v2M43 70v1M43 72v2M43 80v1M44 67v1M45 55v1M45 64v1M45 83v1M46 58v2M46 69v1M47 57v1M48 58v1M48 60v1M48 62v1M48 64v1M49 40v1M49 42v1M49 63v1M50 50v1M50 61v1M50 63v1M51 48v1M51 50v1M51 60v1M51 63v1M51 83v1M52 51v1M53 0v1M53 5v1M53 48v1M53 65v2M53 70v1M54 52v1M54 59v6M55 51v1M55 57v2M55 79v3M56 48v1M56 72v1M56 79v1M57 44v2M57 58v1M57 82v1M58 50v2M58 55v1M58 60v1M58 63v1M58 71v2M58 81v1M59 75v3M60 77v1M60 81v2M62 44v1M62 78v1M62 81v1M63 7v1M63 11v1M63 45v1M63 48v1M63 50v1M63 56v1M63 65v2M64 82v1M65 57v1M66 27v1M66 30v1M66 83v1M67 39v1M68 22v1M68 25v1M68 62v4M70 39v1M70 42v1M70 47v3M70 83v1M71 43v1M71 48v5M72 40v1M72 42v1M72 58v2M73 42v2M73 60v2M74 61v1M74 67v1M74 83v1M75 68v1M76 37v2M76 59v3M77 17v2M78 36v1M79 17v1M79 38v1M81 4v1M81 18v2M83 21v2M83 83v1M84 17v1M84 39v1M85 12v1M86 10v1M88 69v1M88 82v1M89 69v1M89 83v1M90 69v1M90 73v2M94 0v1M95 48v1M96 47v2M96 51v2M97 41v2M97 47v1M97 49v1M99 53v2M99 57v1M100 25v1M100 41v1M101 36v1M101 42v1M101 56v1M102 57v1M103 54v1M103 57v2M104 42v2M104 60v1M105 43v1M106 37v1M106 43v1M106 52v1M106 59v1M108 57v1M109 30v1M109 59v1M110 61v1M111 61v1M112 62v1M113 62v1M113 75v1M114 67v4M114 74v1M115 71v1M116 64v1M116 73v1M118 79v2"/>
<path stroke="#2a788e" d="M27 5v2M27 12v1M28 12v1M28 15v2M29 27v2M30 0v1M30 12v1M31 12v1M31 29v2M32 10v1M32 26v1M32 29v1M32 83v1M34 38v1M36 24v1M40 38v1M41 42v1M41 49v2M41 62v1M41 65v3M42 41v1M42 45v1M42 50v1M42 62v1M42 67v2M42 70v2M43 40v1M43 43v1M43 46v2M43 54v1M43 61v1M43 68v2M43 74v1M43 79v1M44 54v3M45 68v1M46 57v1M46 60v2M46 68v1M47 56v1M47 65v1M47 69v1M48 61v1M48 65v1M49 50v1M49 61v1M50 64v1M50 83v1M51 51v1M51 64v1M52 52v1M52 54v1M52 60v2M52 83v1M53 6v1M53 47v1M54 49v3M54 56v1M54 65v6M55 49v1M55 71v1M55 82v1M56 45v1M56 47v1M56 73v1M56 78v1M57 46v5M57 71v1M58 45v1M58 49v1M58 52v1M58 54v1M58 56v2M58 59v1M58 61v2M58 68v3M58 73v1M58 79v2M59 0v1M59 44v3M59 49v1M60 1v1M60 47v1M60 49v1M60 74v1M61 3v1M61 42v1M62 79v2M63 1v1M63 3v2M63 6v1M63 8v3M63 18v1M63 44v1M63 46v2M63 51v1M63 55v1M63 63v2M63 67v1M63 73v2M64 26v1M64 28v1M64 33v1M64 39v1M65 56v1M65 58v1M67 63v2M68 40v1M68 57v2M68 61v1M69 40v1M69 55v1M70 55v1M70 65v1M71 53v1M72 41v1M72 54v1M72 64v2M73 40v1M73 54v1M73 59v1M73 62v4M74 57v4M75 69v2M76 62v4M78 18v1M80 39v1M81 83v1M82 18v2M82 83v1M83 20v1M83 38v1M85 11v1M85 38v1M85 83v1M86 12v1M86 35v1M86 83v1M87 82v1M90 70v1M90 75v2M90 79v1M90 81v1M94 1v4M95 47v1M95 49v1M95 57v2M95 83v1M96 49v2M97 48v1M97 51v1M100 23v1M101 24v1M103 56v1M103 59v1M105 53v2M105 60v1M106 36v1M106 54v1M107 59v1M108 82v1M109 60v1M110 82v1M111 62v1M112 76v1M113 76v1M113 78v5M114 63v4M114 71v1M114 73v1M115 65v3M116 77v1"/>
<path stroke="#287d8e" d="M27 13v1M27 20v1M27 35v1M28 0v1M28 5v2M28 13v2M28 28v2M29 1v1M29 5v2M29 13v1M30 36v1M31 16v1M31 28v1M31 38v1M32 9v1M32 13v2M32 30v1M33 83v1M34 83v1M35 38v1M39 37v1M41 40v2M41 43v2M41 48v1M41 55v1M41 61v1M41 68v2M41 79v2M42 46v1M42 51v8M42 69v1M42 72v1M42 77v1M43 42v1M43 48v1M43 53v1M43 75v1M43 77v2M43 81v1M44 53v1M44 68v3M44 82v1M45 54v1M45 69v1M46 56v1M46 62v2M46 70v1M47 0v1M47 2v1M47 55v1M47 68v1M47 70v1M47 83v1M48 53v2M48 57v1M49 41v1M49 64v1M50 51v1M50 60v1M50 65v3M51 65v1M52 53v1M52 62v2M53 7v1M53 46v1M53 71v1M53 80v3M54 0v3M54 4v1M54 57v2M54 83v1M55 5v2M55 48v1M55 50v1M55 72v2M55 78v1M56 1v3M56 41v1M56 46v1M56 74v2M57 43v1M57 51v1M57 79v3M58 44v1M58 46v3M58 53v1M58 58v1M59 47v2M60 43v1M60 48v1M60 75v2M61 4v1M62 43v1M63 2v1M63 37v1M63 52v1M63 57v1M63 62v1M63 75v1M63 80v1M64 43v2M64 56v1M64 58v1M65 40v1M65 44v1M65 82v1M66 28v2M66 40v1M67 58v2M67 62v1M67 83v1M68 24v1M68 52v3M68 56v1M68 59v2M68 83v1M69 51v1M69 56v1M69 61v1M69 64v3M70 56v1M70 64v1M70 66v1M71 54v1M71 63v3M72 55v3M72 60v1M72 63v1M73 41v1M73 55v1M74 68v1M75 71v1M76 66v1M76 72v2M76 82v1M77 83v1M78 13v2M78 17v1M78 37v1M78 83v1M79 13v1M79 16v1M86 11v1M86 36v1M87 38v1M88 81v1M89 70v1M90 77v2M90 80v1M94 5v3M95 50v1M95 56v1M95 59v1M96 53v1M98 52v1M99 83v1M101 23v1M103 55v1M105 37v1M105 61v1M106 53v1M106 60v1M107 83v1M108 58v1M109 61v1M109 82v1M110 64v2M110 81v1M111 63v1M111 83v1M112 63v1M112 75v1M112 77v1M112 83v1M113 63v1M113 67v3M113 74v1M113 77v1M114 72v1M115 68v3M116 65v1M116 72v1M116 78v1"/>
<path stroke="#26818e" d="M27 14v1M27 19v1M27 26v1M27 36v1M27 83v1M28 30v1M28 83v1M29 17v1M29 35v1M30 4v1M30 13v1M30 17v1M31 15v1M31 27v1M32 36v1M33 38v1M36 38v1M37 38v1M39 83v1M40 82v1M41 45v1M41 47v1M41 59v2M41 70v1M41 81v2M42 59v1M42 61v1M42 78v1M42 82v1M43 41v1M43 49v1M43 52v1M43 76v1M43 82v1M44 0v1M44 71v1M44 79v3M45 53v1M45 70v1M46 55v1M46 64v4M46 71v1M47 1v1M47 3v2M47 6v1M47 66v1M48 50v1M48 55v2M48 66v1M48 69v1M49 51v1M49 59v2M49 65v1M50 68v1M51 52v1M51 66v2M52 59v1M52 64v1M53 8v1M53 44v2M53 79v1M54 3v1M54 48v1M54 71v1M54 79v2M55 7v1M55 42v1M55 46v2M56 4v1M56 76v2M57 52v2M57 72v2M57 78v1M58 78v1M59 1v1M59 3v1M61 5v1M61 41v1M62 0v1M63 5v1M63 36v1M63 43v1M63 53v2M63 68v1M63 72v1M63 79v1M64 27v1M64 45v1M64 50v3M64 55v1M64 57v1M65 43v1M65 45v1M65 55v1M65 59v1M66 58v1M66 64v1M67 40v1M67 57v1M67 61v1M67 65v1M68 23v1M68 41v1M68 55v1M68 66v1M69 43v3M69 60v1M69 62v2M70 40v2M70 60v4M71 40v1M71 42v1M71 55v5M71 66v1M72 61v1M72 66v1M72 83v1M73 58v1M73 66v1M75 72v1M76 67v1M76 74v1M77 35v1M78 9v1M78 12v1M78 38v1M79 83v1M81 39v1M82 39v1M83 18v2M84 40v1M87 44v1M88 70v1M88 80v1M89 71v1M94 8v6M97 52v1M99 58v1M100 24v1M100 58v1M100 83v1M101 57v1M101 83v1M102 58v1M103 60v1M103 83v1M104 61v1M104 83v1M105 36v1M105 62v2M106 61v1M107 60v3M108 80v2M109 62v1M110 62v2M110 66v1M111 64v3M113 64v1M113 70v2M116 66v3M116 71v1"/>
<path stroke="#25858e" d="M27 18v1M27 27v4M28 34v3M29 83v1M30 5v1M31 13v2M31 39v1M31 83v1M37 83v1M38 83v1M41 46v1M41 57v2M41 71v1M41 78v1M42 60v1M42 76v1M42 79v3M43 50v2M44 51v2M44 72v2M44 78v1M45 52v1M45 71v1M46 82v1M47 5v1M47 54v1M47 67v1M47 71v2M48 0v1M48 45v1M48 48v2M48 51v2M48 67v2M48 83v1M49 52v1M49 66v2M50 52v1M50 59v1M51 59v1M51 68v1M52 55v1M52 66v3M53 9v1M53 43v1M53 72v4M54 72v1M54 78v1M55 41v1M55 43v1M55 74v4M56 0v1M56 40v1M57 42v1M58 3v1M58 74v1M59 2v1M59 4v1M59 43v1M60 2v1M61 6v2M62 42v1M63 19v1M63 21v2M63 24v1M63 29v2M63 38v1M63 58v1M63 61v1M63 71v1M63 76v1M63 78v1M64 40v1M64 42v1M64 46v1M64 53v2M64 59v1M65 41v2M65 46v1M65 60v1M65 63v2M66 41v2M66 47v2M66 57v1M66 63v1M67 41v1M67 56v1M67 60v1M68 42v1M68 44v8M69 41v2M69 46v1M69 57v2M69 82v1M70 57v3M71 41v1M71 60v3M72 62v1M73 56v2M73 83v1M74 69v1M75 82v1M76 68v2M76 71v1M78 15v2M78 39v1M79 14v1M79 39v1M83 39v1M85 39v1M86 37v1M87 39v1M87 43v1M87 45v1M88 79v1M89 72v1M94 14v22M94 82v1M95 51v1M95 55v1M95 60v1M96 57v2M96 83v1M97 53v1M98 53v2M104 62v1M106 62v1M108 59v1M108 79v1M109 63v2M109 80v2M110 67v1M110 80v1M111 67v1M112 64v1M112 67v1M112 78v5M113 66v1M113 72v2M116 69v2"/>
<path stroke="#238a8d" d="M27 15v1M27 17v1M27 34v1M28 37v1M29 14v1M29 36v1M30 37v2M32 37v1M38 38v1M40 51v2M41 56v1M41 77v1M42 73v1M44 1v6M44 74v1M45 51v1M45 82v1M46 46v2M46 54v1M46 72v1M47 7v1M47 46v2M47 49v2M47 53v1M47 73v1M48 46v2M48 70v1M49 68v1M51 53v1M52 65v1M53 10v1M53 42v1M53 76v1M53 78v1M54 5v1M54 46v2M54 81v2M55 40v1M57 74v1M58 4v1M59 5v1M59 8v2M60 3v3M60 42v1M62 1v1M63 20v1M63 23v1M63 25v1M63 28v1M63 35v1M63 39v1M63 42v1M63 59v2M63 69v2M63 77v1M64 41v1M64 47v3M64 81v1M65 47v1M65 49v2M65 54v1M65 65v2M66 45v2M66 49v1M66 51v3M66 59v1M66 65v1M66 82v1M67 48v2M67 66v1M68 43v1M68 67v1M69 47v4M69 59v1M69 67v1M73 67v1M75 73v1M76 70v1M76 75v1M76 81v1M77 41v1M78 10v2M79 15v1M80 40v1M80 82v1M84 41v2M84 82v1M87 42v1M87 46v1M87 59v1M87 81v1M88 73v3M88 78v1M89 73v3M94 36v3M95 52v3M95 63v1M95 82v1M96 54v1M96 59v1M97 54v1M98 55v1M102 82v1M103 61v1M104 80v1M105 83v1M106 63v1M106 83v1M107 63v1M108 60v1M109 65v1M110 76v4M111 68v1M111 80v3M112 66v1M112 68v1M112 74v1M113 65v1"/>
<path stroke="#218e8d" d="M27 16v1M27 37v1M28 31v1M29 38v2M30 39v1M32 38v1M40 42v1M40 53v1M40 81v1M41 72v1M41 76v1M42 74v2M44 7v1M44 43v2M44 47v4M44 75v3M45 0v3M45 49v2M45 72v1M45 74v1M45 81v1M46 48v1M46 81v1M47 45v1M47 48v1M47 74v1M47 82v1M48 1v1M48 5v1M48 44v1M49 53v1M49 58v1M49 83v1M50 53v1M51 82v1M52 56v1M52 69v1M52 82v1M53 41v1M53 77v1M54 6v1M54 73v2M54 77v1M55 8v1M55 39v1M55 44v2M56 5v2M57 75v1M57 77v1M58 0v1M58 2v1M58 43v1M58 75v1M58 77v1M59 6v2M59 10v1M59 39v2M59 42v1M60 6v4M60 41v1M61 8v1M61 40v1M62 2v3M62 41v1M64 60v1M64 64v1M65 48v1M65 51v1M65 53v1M65 61v2M65 81v1M66 43v2M66 50v1M66 54v1M66 56v1M66 60v3M67 42v1M67 47v1M67 50v6M70 67v1M70 82v1M71 83v1M74 82v1M75 81v1M76 76v1M76 79v2M77 36v1M77 39v2M77 42v1M78 40v1M80 41v1M83 40v1M84 45v1M85 40v2M87 40v1M87 48v4M87 58v1M87 60v1M88 71v2M88 76v2M89 82v1M94 39v21M94 62v4M95 61v2M96 55v2M97 58v1M97 83v1M98 56v2M99 59v3M100 59v1M101 58v1M102 59v1M103 62v1M104 81v1M105 64v1M108 78v1M109 79v1M110 68v1M111 75v5M112 65v1M112 69v5"/>
<path stroke="#20928c" d="M27 31v1M28 33v1M28 38v2M29 0v1M29 16v1M29 37v1M29 40v1M32 43v1M33 39v1M34 39v1M40 39v1M40 41v1M40 47v2M40 50v1M40 80v1M41 75v1M44 45v2M45 45v4M45 73v1M45 75v1M45 78v3M46 0v1M46 3v2M46 45v1M46 49v2M46 52v2M46 73v3M46 80v1M47 51v2M47 76v1M48 2v1M48 4v1M48 6v1M48 38v1M48 71v1M50 82v1M51 54v1M51 69v1M52 58v1M52 81v1M53 15v1M54 45v1M54 75v2M56 7v1M56 39v1M57 41v1M57 76v1M58 1v1M58 5v1M58 40v1M58 76v1M59 41v1M60 10v1M62 40v1M63 26v1M63 31v1M63 34v1M63 40v1M64 61v3M64 65v1M65 52v1M65 67v1M66 55v1M66 66v1M67 43v4M68 68v1M72 67v1M73 68v1M74 70v1M75 74v1M76 77v2M77 37v2M78 41v1M78 47v1M80 42v2M80 46v2M80 80v2M81 82v1M82 40v1M82 43v1M83 41v2M84 43v2M84 46v1M85 42v1M86 82v1M87 41v1M87 47v1M87 52v2M87 61v1M89 76v1M89 79v1M94 60v2M95 81v1M96 60v1M96 62v1M97 55v1M97 57v1M97 59v1M98 58v2M98 83v1M99 62v1M103 82v1M104 63v1M104 82v1M108 61v1M108 77v1M110 75v1M111 69v1"/>
<path stroke="#1f968b" d="M27 33v1M28 32v1M28 40v1M29 15v1M29 82v1M30 14v1M30 40v1M30 83v1M31 40v1M31 44v1M32 39v1M32 44v2M32 82v1M33 43v1M33 82v1M34 48v1M34 82v1M35 48v1M36 49v2M38 82v1M39 38v1M39 52v1M39 82v1M40 40v1M40 43v1M40 46v1M40 49v1M40 54v1M41 73v2M44 8v1M44 39v1M44 42v1M45 3v1M45 44v1M45 76v2M46 2v1M46 5v1M46 51v1M46 76v2M46 79v1M47 8v1M47 75v1M47 81v1M48 3v1M48 31v2M48 37v1M48 39v1M48 43v1M48 72v2M48 81v1M49 69v1M50 58v1M50 69v1M51 58v1M52 57v1M53 11v1M53 14v1M53 21v1M53 33v1M53 39v2M54 7v1M54 44v1M57 40v1M58 41v2M60 40v1M61 39v1M62 5v2M62 39v1M63 27v1M63 41v1M64 66v1M64 80v1M65 80v1M66 67v1M67 67v1M67 82v1M68 82v1M69 81v1M75 75v1M75 77v1M77 43v1M77 46v3M77 82v1M78 42v1M78 46v1M79 40v1M79 43v3M80 44v2M80 48v1M80 79v1M81 40v1M82 42v1M82 44v1M82 82v1M83 43v1M83 46v2M83 82v1M84 47v3M84 79v3M85 43v1M85 46v1M86 38v1M87 57v1M87 62v1M87 80v1M89 77v2M89 80v1M94 66v1M94 81v1M96 61v1M96 63v1M97 56v1M98 60v1M100 60v3M101 59v1M102 60v1M102 62v1M102 81v1M103 81v1M104 79v1M107 64v1M107 78v5M108 72v1M108 74v3M109 66v1M109 73v1M109 77v2M110 72v3M111 71v4"/>
<path stroke="#1e9b8a" d="M27 32v1M27 38v1M30 16v1M30 44v2M31 43v1M31 45v1M32 42v1M32 46v1M32 48v2M33 42v1M33 44v1M33 48v1M34 49v1M35 39v1M35 47v1M35 49v1M35 83v1M36 39v1M36 48v1M40 78v2M44 9v1M44 26v1M44 28v2M44 38v1M44 40v2M46 1v1M46 78v1M47 44v1M47 77v1M47 80v1M48 7v1M48 30v1M48 33v1M48 36v1M48 40v1M48 76v1M48 82v1M49 54v1M49 57v1M50 54v1M51 80v2M52 70v1M52 80v1M53 12v2M53 16v1M53 20v1M53 32v1M53 37v2M54 39v3M54 43v1M55 9v1M56 8v2M57 0v3M58 6v1M58 39v1M59 38v1M61 9v1M61 38v1M62 38v1M63 32v2M64 67v1M65 79v1M66 81v1M69 68v1M71 67v1M74 71v1M75 76v1M75 78v1M75 80v1M77 44v2M77 49v1M77 81v1M78 43v3M78 48v1M78 82v1M79 41v2M79 46v2M79 82v1M80 49v1M81 42v2M82 41v1M83 44v2M83 48v1M84 50v1M85 44v2M85 47v3M85 79v1M85 82v1M87 54v1M87 63v2M89 81v1M94 77v1M94 80v1M95 64v1M95 80v1M96 82v1M97 60v1M102 61v1M102 63v1M102 79v2M103 63v1M104 64v1M105 65v1M105 80v3M106 64v1M107 65v2M107 77v1M108 62v4M108 71v1M108 73v1M109 72v1M109 74v1M110 69v1M111 70v1"/>
<path stroke="#1fa088" d="M27 39v2M27 82v1M28 45v1M28 82v1M29 41v1M29 45v1M31 46v1M31 82v1M32 47v1M32 80v2M33 47v1M33 49v1M34 43v1M34 47v1M34 51v1M36 51v1M36 83v1M37 39v1M37 82v1M39 42v1M39 51v1M40 44v2M40 55v1M40 77v1M44 10v1M44 16v2M44 27v1M44 30v1M44 37v1M45 41v3M46 6v1M47 15v1M47 32v2M48 35v1M48 42v1M48 74v2M48 77v1M48 80v1M49 55v2M50 81v1M51 55v1M52 79v1M53 19v1M53 22v1M53 31v1M53 34v3M54 42v1M55 38v1M56 10v2M57 3v2M58 7v1M59 11v1M60 11v1M60 39v1M61 10v1M61 13v3M62 7v1M64 76v2M64 79v1M65 78v1M67 68v1M70 68v1M72 82v1M73 69v1M73 82v1M74 72v1M74 81v1M75 79v1M77 50v1M77 80v1M78 49v1M78 81v1M79 48v1M79 80v2M80 50v1M81 41v1M81 44v1M82 45v4M84 51v1M84 54v2M84 78v1M85 56v1M85 78v1M85 80v1M86 45v1M87 56v1M87 65v2M87 79v1M94 67v2M94 75v2M94 78v2M97 61v2M98 61v1M99 82v1M101 60v3M101 82v1M103 79v2M106 82v1M108 70v1M109 67v1M109 69v3M109 75v2M110 70v2"/>
<path stroke="#20a386" d="M27 44v6M28 41v1M28 44v1M28 46v5M29 44v1M29 46v1M30 41v1M30 43v1M30 46v1M30 48v1M31 41v2M31 47v2M32 40v2M32 50v1M32 78v2M33 45v1M33 50v2M33 81v1M34 42v1M34 50v1M34 52v1M35 50v2M36 47v1M36 52v1M38 42v1M38 81v1M39 47v2M39 53v1M40 56v2M40 76v1M44 14v2M44 22v1M44 25v1M44 31v1M44 34v3M45 4v1M46 44v1M47 9v1M47 16v1M47 30v2M47 38v2M47 43v1M47 78v2M48 34v1M48 41v1M48 79v1M49 70v1M49 81v2M50 79v1M51 79v1M53 17v2M54 8v2M54 14v2M55 10v1M56 12v1M57 5v1M57 39v1M58 8v1M58 38v1M61 11v2M61 16v1M62 15v3M64 75v1M64 78v1M65 68v1M65 77v1M66 68v1M66 77v4M68 69v1M70 81v1M71 82v1M72 68v1M74 73v1M77 51v1M79 49v1M79 79v1M80 51v1M80 78v1M81 81v1M83 49v1M84 52v2M84 59v2M84 77v1M85 50v1M85 55v1M85 81v1M86 39v1M86 44v1M86 46v1M86 48v1M86 81v1M87 55v1M87 67v2M94 69v6M95 79v1M96 81v1M98 62v1M100 63v1M100 82v1M101 63v1M102 64v1M102 78v1M104 65v1M105 66v2M105 79v1M106 80v2M107 67v2M107 76v1M108 66v1M108 69v1M109 68v1"/>
<path stroke="#22a884" d="M27 41v3M27 50v1M28 43v1M29 42v1M29 81v1M30 15v1M30 42v1M30 47v1M30 49v1M30 82v1M31 49v1M32 77v1M33 40v2M33 46v1M33 52v1M34 40v1M34 44v1M35 46v1M35 52v1M36 40v1M36 53v1M37 40v1M37 42v2M37 48v4M38 39v1M39 41v1M39 43v1M39 49v2M39 81v1M40 58v6M44 11v3M44 18v1M44 20v2M44 23v2M44 32v2M45 5v2M45 40v1M46 7v1M47 10v2M47 14v1M47 17v1M47 25v3M47 29v1M47 34v4M47 42v1M48 8v1M48 29v1M48 78v1M49 80v1M50 55v1M50 78v1M50 80v1M51 57v1M51 70v1M52 78v1M53 30v1M54 10v1M54 13v1M54 16v2M54 38v1M55 12v3M55 23v1M56 13v3M56 38v1M58 9v3M59 12v1M60 12v1M60 38v1M61 17v2M61 37v1M62 8v1M62 14v1M62 37v1M64 68v1M65 76v1M68 81v1M69 69v1M71 68v1M73 70v1M77 52v1M77 79v1M78 50v1M78 80v1M79 52v3M81 45v5M81 80v1M82 49v1M82 81v1M83 50v1M83 59v1M83 78v2M83 81v1M84 56v3M84 61v1M85 54v1M85 57v1M85 60v1M85 77v1M86 40v4M86 47v1M86 49v1M87 78v1M96 64v1M96 80v1M97 63v1M97 82v1M99 63v1M101 81v1M102 77v1M103 64v1M103 78v1M104 66v1M104 78v1M105 68v1M105 78v1M106 65v1M106 79v1M107 69v3M107 75v1"/>
<path stroke="#26ad81" d="M27 51v1M28 42v1M28 51v1M29 43v1M29 47v4M31 81v1M32 53v2M33 53v1M34 41v1M34 46v1M34 53v1M35 43v1M35 53v1M36 42v2M37 41v1M37 47v1M37 52v2M37 79v3M38 41v1M38 43v1M38 51v1M39 39v1M39 46v1M40 75v1M44 19v1M45 7v1M45 38v2M46 38v6M47 12v2M47 18v1M47 28v1M47 40v2M48 9v2M48 14v1M48 22v4M48 28v1M49 79v1M50 56v2M51 56v1M51 78v1M52 71v1M52 76v2M54 11v2M54 18v1M55 11v1M55 15v4M55 22v1M55 24v1M56 16v1M56 24v2M57 6v1M58 14v2M59 13v1M59 37v1M61 19v2M62 9v1M62 12v2M62 18v1M64 74v1M65 75v1M66 76v1M67 81v1M69 80v1M70 69v1M71 69v1M72 69v1M74 74v1M77 53v2M77 56v2M78 51v3M79 50v2M79 55v1M79 78v1M80 77v1M81 50v1M81 79v1M82 78v3M83 51v1M83 58v1M83 60v1M83 77v1M83 80v1M84 76v1M85 51v3M85 58v2M86 59v1M86 80v1M87 69v1M87 77v1M95 78v1M96 79v1M98 63v1M99 77v3M99 81v1M101 64v1M101 79v2M102 65v1M104 67v1M106 66v3M106 78v1M107 72v3M108 67v2"/>
<path stroke="#2ab07f" d="M27 52v1M28 52v1M29 51v1M30 50v1M31 78v1M32 51v2M32 55v1M33 54v1M34 45v1M35 40v3M35 44v1M35 82v1M36 41v1M36 46v1M37 54v1M37 78v1M38 50v1M38 52v1M39 40v1M39 54v1M40 64v1M45 8v2M45 30v1M45 36v2M46 8v2M46 27v7M46 37v1M48 11v1M48 15v1M48 26v2M49 71v1M49 75v2M50 77v1M51 77v1M52 75v1M53 23v1M53 25v2M54 19v1M54 33v1M55 21v1M55 30v4M56 18v2M56 23v1M56 26v2M56 37v1M57 7v1M58 12v2M58 16v1M58 19v1M58 37v1M60 13v2M62 11v1M66 75v1M67 69v1M68 70v1M69 70v1M71 70v2M72 70v1M73 71v1M73 81v1M74 80v1M77 55v1M77 58v2M78 54v1M80 52v1M80 54v2M80 75v2M81 78v1M82 50v1M82 57v2M82 77v1M83 55v3M84 75v1M85 61v1M85 76v1M86 50v1M86 58v1M86 78v2M95 65v1M95 76v2M98 82v1M99 76v1M99 80v1M100 79v1M100 81v1M101 65v1M101 78v1M102 69v1M102 76v1M103 65v1M104 77v1M105 69v1"/>
<path stroke="#31b57b" d="M27 53v1M27 81v1M28 81v1M29 80v1M30 81v1M31 50v1M31 53v2M31 77v1M31 79v2M32 76v1M33 55v1M33 80v1M34 54v1M34 81v1M35 45v1M35 54v1M36 44v1M36 54v1M36 82v1M37 46v1M37 55v3M38 40v1M38 48v2M38 53v1M38 80v1M39 44v1M39 80v1M40 65v1M40 74v1M45 10v1M45 27v3M45 31v3M46 10v1M46 17v1M46 26v1M46 36v1M47 19v1M47 22v1M47 24v1M48 12v2M48 16v1M49 72v1M49 77v2M50 70v1M50 76v1M51 76v1M53 24v1M53 28v2M54 20v3M54 32v1M54 34v1M54 37v1M55 19v2M55 25v5M55 34v1M55 37v1M56 17v1M56 20v3M56 28v2M57 8v4M57 14v2M57 38v1M58 20v2M59 14v1M60 15v2M60 37v1M61 21v1M62 10v1M62 19v1M62 36v1M64 69v1M64 73v1M65 74v1M68 80v1M69 71v1M69 75v1M70 70v4M72 71v1M72 81v1M74 75v1M77 60v1M77 78v1M78 55v4M78 79v1M79 62v3M80 53v1M80 65v1M80 74v1M81 51v1M82 51v6M82 75v2M83 52v3M83 61v1M83 75v2M84 62v1M84 73v2M85 74v2M86 54v1M86 60v1M86 77v1M87 70v1M87 76v1M95 75v1M97 81v1M98 77v3M98 81v1M99 75v1M100 80v1M102 66v3M103 66v1M103 77v1M104 68v2M105 70v1M105 77v1M106 69v2"/>
<path stroke="#38b977" d="M27 78v3M28 53v1M29 52v1M29 79v1M30 51v4M31 51v2M31 55v1M34 55v1M36 45v1M37 44v1M37 58v1M37 76v2M38 47v1M38 54v2M39 45v1M39 55v1M39 79v1M40 67v2M45 25v2M45 34v2M46 11v1M46 16v1M46 25v1M46 34v2M47 20v2M47 23v1M48 21v1M49 73v2M53 27v1M54 31v1M54 35v2M55 35v2M56 30v4M56 35v2M57 12v2M57 16v1M57 33v1M58 17v2M58 22v3M58 31v2M58 36v1M59 15v2M59 31v1M59 36v1M60 17v1M61 36v1M62 20v4M62 29v2M62 35v1M65 69v1M66 69v1M66 74v1M67 70v1M68 71v1M69 72v3M70 74v1M70 80v1M71 72v1M71 81v1M73 80v1M77 61v1M77 73v1M78 59v1M79 56v1M79 61v1M80 56v1M80 64v1M80 73v1M81 55v2M81 76v2M82 59v1M83 65v1M83 74v1M84 72v1M86 53v1M86 55v3M96 78v1M97 64v1M97 80v1M98 76v1M98 80v1M99 64v1M99 74v1M100 64v1M100 78v1M101 66v1M101 77v1M102 70v1M102 75v1M103 67v1M103 76v1M104 76v1M105 71v1M106 71v1M106 77v1"/>
<path stroke="#3fbc73" d="M30 55v1M30 80v1M31 56v1M31 76v1M32 56v1M32 75v1M33 56v4M33 77v3M34 56v1M36 55v1M36 59v1M36 81v1M37 45v1M37 59v1M38 44v1M38 46v1M38 56v2M38 78v2M39 56v1M40 66v1M40 69v1M40 73v1M45 11v1M45 17v4M45 24v1M46 12v1M46 15v1M46 18v1M46 24v1M48 17v1M48 19v2M50 75v1M51 75v1M52 72v1M52 74v1M54 23v1M54 26v1M54 29v2M56 34v1M57 23v3M57 34v1M58 30v1M58 33v1M59 17v1M59 19v1M59 22v1M59 30v1M59 32v2M59 35v1M60 19v1M60 36v1M61 22v1M61 35v1M62 24v1M62 31v2M62 34v1M64 70v1M64 72v1M67 80v1M69 76v1M71 73v1M72 72v3M73 72v1M74 76v1M74 79v1M77 62v2M77 66v1M77 72v1M77 74v1M77 77v1M78 60v1M78 78v1M79 59v2M79 65v1M79 77v1M81 52v3M81 57v1M81 75v1M82 74v1M83 62v3M84 71v1M85 73v1M86 51v1M87 71v1M95 72v3M97 79v1M98 64v1M98 75v1M101 67v3M103 68v2M103 75v1M104 70v1M104 73v3M105 72v1M105 76v1"/>
<path stroke="#48c16e" d="M27 54v1M27 62v1M27 77v1M28 78v3M29 53v1M30 56v1M30 79v1M32 57v2M32 73v2M33 60v1M34 57v1M34 79v2M35 55v1M35 81v1M36 60v1M36 79v2M37 64v1M39 57v1M39 78v1M40 70v1M45 12v1M45 16v1M45 21v3M46 13v2M46 19v2M48 18v1M51 71v1M54 24v2M57 17v3M57 26v1M57 32v1M57 35v3M58 25v1M58 29v1M58 34v2M59 18v1M59 20v2M59 23v1M59 29v1M59 34v1M60 18v1M60 20v1M60 29v1M60 35v1M61 30v1M61 34v1M62 28v1M62 33v1M64 71v1M67 71v1M67 77v1M68 72v1M69 77v1M69 79v1M70 75v1M71 74v2M72 75v2M72 80v1M73 73v2M74 77v2M77 65v1M77 71v1M77 75v1M78 61v1M79 57v2M79 73v2M79 76v1M80 63v1M80 72v1M81 74v1M82 60v1M83 73v1M84 65v6M85 62v1M86 52v1M86 61v1M86 76v1M87 72v4M95 71v1M96 65v1M97 78v1M100 65v1M100 74v4M101 76v1M102 71v1M102 74v1M103 70v1M104 71v2M105 73v1M106 76v1"/>
<path stroke="#50c46a" d="M27 61v1M27 63v1M27 76v1M28 54v1M29 78v1M31 57v1M32 59v3M32 72v1M33 76v1M34 58v2M34 78v1M35 56v2M36 56v1M36 58v1M37 65v1M37 75v1M38 45v1M38 58v1M38 77v1M39 58v1M39 60v1M40 71v2M45 13v1M45 15v1M46 21v3M51 74v1M52 73v1M54 27v2M57 20v1M57 22v1M57 29v1M57 31v1M58 26v1M58 28v1M59 24v1M59 28v1M60 21v2M60 28v1M60 30v1M60 32v3M61 23v1M61 29v1M61 31v3M62 25v1M65 73v1M66 70v1M66 73v1M67 75v2M67 78v1M68 75v3M68 79v1M69 78v1M70 76v1M73 75v1M73 79v1M77 64v1M77 76v1M78 62v1M78 73v2M78 77v1M79 72v1M79 75v1M80 57v1M80 66v1M81 58v1M81 72v2M82 73v1M83 66v1M83 72v1M84 63v2M85 68v1M85 70v3M95 66v1M95 68v1M96 72v3M96 77v1M97 74v2M97 77v1M98 74v1M99 65v1M99 72v2M100 72v2M101 70v1M102 72v2M103 71v1M103 74v1M105 74v2M106 72v4"/>
<path stroke="#5ac864" d="M27 55v1M29 54v1M30 57v1M30 78v1M31 58v1M31 75v1M32 62v1M33 61v1M33 72v1M33 75v1M34 60v1M34 76v2M35 58v3M35 78v3M36 57v1M36 78v1M37 60v1M37 63v1M39 59v1M39 61v1M45 14v1M50 71v1M57 21v1M57 27v2M57 30v1M58 27v1M59 25v1M59 27v1M60 23v1M60 31v1M61 24v1M61 28v1M62 26v2M67 79v1M68 73v2M68 78v1M70 77v1M72 77v1M73 76v1M77 67v1M77 70v1M78 63v1M78 71v2M79 66v1M80 58v1M80 62v1M81 64v1M82 64v1M83 69v3M85 67v1M85 69v1M86 68v1M86 75v1M95 67v1M95 69v2M96 71v1M96 75v2M97 65v1M97 72v2M97 76v1M98 65v1M98 73v1M99 70v2M100 66v1M101 71v2M101 75v1M103 72v2"/>
<path stroke="#65cb5e" d="M27 60v1M28 77v1M29 55v1M29 77v1M30 77v1M31 59v4M31 71v4M32 63v1M32 71v1M33 71v1M33 73v2M34 73v3M35 61v1M35 77v1M36 66v1M36 76v2M37 61v2M38 76v1M39 62v2M39 77v1M50 74v1M51 72v1M59 26v1M60 27v1M61 25v1M65 70v1M66 71v2M67 72v1M70 78v2M71 76v1M72 79v1M77 68v2M78 64v2M78 70v1M78 75v2M80 59v1M80 71v1M81 63v1M81 65v1M82 61v1M82 65v1M82 72v1M83 67v2M85 63v1M86 62v1M86 66v2M86 74v1M97 71v1M98 66v1M99 66v1M99 69v1M100 67v1M100 69v3M101 73v2"/>
<path stroke="#6ece58" d="M27 56v2M27 64v1M27 75v1M29 56v1M30 58v1M31 63v3M31 70v1M32 64v1M32 70v1M33 70v1M34 61v1M34 72v1M36 61v1M36 65v1M37 66v1M38 63v3M39 64v1M39 66v1M39 76v1M51 73v1M61 26v2M67 73v2M71 80v1M72 78v1M73 77v2M78 66v1M79 71v1M80 60v2M80 67v1M81 59v1M81 66v1M82 63v1M85 66v1M86 63v1M86 65v1M86 69v1M86 73v1M96 70v1M97 70v1M98 72v1M99 67v2M100 68v1"/>
<path stroke="#7ad151" d="M27 58v2M28 55v1M28 62v2M29 76v1M30 59v6M30 76v1M31 66v2M32 65v1M32 69v1M33 62v1M33 69v1M35 76v1M36 67v1M36 75v1M37 74v1M38 59v1M38 61v2M38 66v1M38 75v1M39 65v1M39 67v1M39 75v1M50 72v2M60 24v1M65 71v2M78 69v1M79 67v1M81 62v1M82 62v1M82 66v1M82 71v1M85 64v2M86 64v1M96 66v1M96 69v1M98 67v1M98 69v3"/>
<path stroke="#86d549" d="M27 65v4M28 76v1M29 57v1M30 65v1M31 68v2M34 62v1M34 71v1M35 62v1M35 66v2M36 64v1M37 67v1M38 60v1M60 26v1M71 77v1M78 67v2M79 70v1M80 70v1M81 60v2M81 71v1M86 70v1M86 72v1M96 67v2M97 66v1M97 69v1M98 68v1"/>
<path stroke="#90d743" d="M27 69v1M27 74v1M28 61v1M28 64v1M29 75v1M30 66v2M32 66v1M32 68v1M34 67v4M35 68v1M35 73v3M36 62v2M36 68v1M36 73v2M38 67v1M60 25v1M71 78v1M79 68v2M80 68v1M81 67v1M82 67v1M82 70v1M86 71v1"/>
<path stroke="#9dd93b" d="M27 70v1M28 60v1M28 65v1M29 58v1M29 64v2M29 74v1M30 68v1M30 75v1M32 67v1M33 68v1M34 63v1M34 66v1M35 65v1M35 69v1M35 72v1M36 69v1M36 72v1M37 68v1M37 73v1M39 68v1M39 74v1M71 79v1M80 69v1M97 67v2"/>
<path stroke="#aadc32" d="M27 71v1M27 73v1M28 56v1M28 66v1M28 75v1M29 62v2M29 66v1M29 73v1M30 69v6M33 63v1M34 64v2M35 63v2M35 70v2M36 70v1M37 69v1M82 68v2"/>
<path stroke="#b5de2b" d="M27 72v1M29 59v3M29 67v1M29 72v1M33 64v4M36 71v1M38 68v1M38 74v1M81 68v1M81 70v1"/>
<path stroke="#c2df23" d="M28 59v1M28 67v1M28 74v1M29 68v2M29 71v1M37 70v3M39 73v1M81 69v1"/>
<path stroke="#cde11d" d="M28 57v1M28 68v2M29 70v1M39 69v1"/>
<path stroke="#dae319" d="M28 58v1M28 73v1M38 69v1M39 72v1"/>
<path stroke="#e7e419" d="M28 70v3M38 73v1M39 70v2"/>
<path stroke="#f1e51d" d="M38 70v1"/>
<path stroke="#fde725" d="M38 71v2"/>
</g></svg></g>
<rect x="39.59" y="0.00" width="0.9" height="20.11" fill="#21918c" opacity="0.8"/>
<rect x="39.59" y="19.91" width="0.9" height="40.01" fill="#1f9f88" opacity="0.8"/>
<rect x="39.59" y="59.72" width="0.9" height="40.01" fill="#22a884" opacity="0.8"/>
<rect x="39.59" y="99.53" width="0.9" height="27.07" fill="#1e9c89" opacity="0.8"/>
<rect x="141.47" y="0.00" width="0.9" height="20.11" fill="#21918c" opacity="0.8"/>
<rect x="141.47" y="19.91" width="0.9" height="40.01" fill="#1f9f88" opacity="0.8"/>
<rect x="141.47" y="59.72" width="0.9" height="40.01" fill="#22a884" opacity="0.8"/>
<rect x="141.47" y="99.53" width="0.9" height="27.07" fill="#1e9c89" opacity="0.8"/>
</svg>
<rect x="310.80" y="15.30" width="234.80" height="127.40" fill="none" stroke="#222" stroke-width="0.5"/>
<path d="M311.00 142.70v2.3M352.71 142.70v2.3M394.41 142.70v2.3M436.12 142.70v2.3M477.82 142.70v2.3M519.53 142.70v2.3M310.80 142.60h-2.3M310.80 122.69h-2.3M310.80 102.79h-2.3M310.80 82.88h-2.3M310.80 62.97h-2.3M310.80 43.07h-2.3M310.80 23.16h-2.3" stroke="#333" stroke-width="0.75" fill="none"/>
<text transform="translate(311.00 152.00) scale(1.09 1)" font-size="6.2" text-anchor="middle">0</text>
<text transform="translate(352.71 152.00) scale(1.09 1)" font-size="6.2" text-anchor="middle">100</text>
<text transform="translate(394.41 152.00) scale(1.09 1)" font-size="6.2" text-anchor="middle">200</text>
<text transform="translate(436.12 152.00) scale(1.09 1)" font-size="6.2" text-anchor="middle">300</text>
<text transform="translate(477.82 152.00) scale(1.09 1)" font-size="6.2" text-anchor="middle">400</text>
<text transform="translate(519.53 152.00) scale(1.09 1)" font-size="6.2" text-anchor="middle">500</text>
<text transform="translate(305.40 145.45) scale(1.09 1)" font-size="6.2" text-anchor="end">0</text>
<text transform="translate(305.40 125.54) scale(1.09 1)" font-size="6.2" text-anchor="end">20</text>
<text transform="translate(305.40 105.64) scale(1.09 1)" font-size="6.2" text-anchor="end">40</text>
<text transform="translate(305.40 85.73) scale(1.09 1)" font-size="6.2" text-anchor="end">60</text>
<text transform="translate(305.40 65.82) scale(1.09 1)" font-size="6.2" text-anchor="end">80</text>
<text transform="translate(305.40 45.92) scale(1.09 1)" font-size="6.2" text-anchor="end">100</text>
<text transform="translate(305.40 26.01) scale(1.09 1)" font-size="6.2" text-anchor="end">120</text>
<text transform="translate(427.30 11.60) scale(1.09 1)" font-size="7.7" text-anchor="middle">MelSpectrogram</text>
<text transform="translate(427.80 161.00) scale(1.09 1)" font-size="6.2" text-anchor="middle">frame</text>
<text transform="translate(287.60 80.20) rotate(-90) scale(1 1.09)" font-size="6.2" text-anchor="middle">mel freq</text>
<svg x="310.80" y="199.50" width="234.80" height="127.40" viewBox="0 0 234.80 127.40" overflow="hidden">
<rect width="234.80" height="127.40" fill="#26818e"/>
<g filter="url(#bl)"><rect x="-3" y="-3" width="240.80" height="133.40" fill="#26818e"/>
<svg x="0" y="0" width="235.50" height="127.50" viewBox="-0.5 0 157 85" preserveAspectRatio="none" overflow="visible">
<g fill="none" stroke-width="1" shape-rendering="crispEdges">
<path stroke="#470e61" d="M18 84v1M19 84v1M21 84v1M132 84v1M139 84v1M143 84v1M148 84v1M153 84v1"/>
<path stroke="#481668" d="M0 84v1M1 84v1M3 84v1M4 84v1M5 84v1M6 84v1M7 84v1M8 84v1M9 84v1M10 84v1M11 84v1M12 84v1M13 84v1M14 84v1M15 84v1M16 84v1M17 84v1M20 84v1M22 84v1M23 84v1M25 84v1M63 84v1M119 84v1M120 84v1M121 84v1M122 84v1M123 84v1M124 84v1M125 84v1M126 84v1M127 84v1M128 84v1M129 84v1M130 84v1M131 84v1M133 84v1M134 84v1M135 84v1M136 84v1M137 84v1M138 84v1M140 84v1M141 84v1M142 84v1M144 84v1M145 84v1M146 84v1M147 84v1M149 84v1M150 84v1M151 84v1M152 84v1M155 84v1M156 84v1"/>
<path stroke="#481c6e" d="M2 84v1M24 84v1M26 84v1M40 84v1M41 84v1M44 84v1M56 84v1M57 84v1M58 84v1M59 84v1M60 84v1M61 84v1M62 84v1M64 84v1M65 84v1M69 84v1M76 84v1M80 84v1M83 84v1M84 84v1M87 84v1M88 84v1M90 84v1M91 84v1M92 84v1M93 84v1M94 84v1M102 84v1M108 84v1M110 84v1M114 84v1M115 84v1M116 84v1M117 84v1M118 84v1M154 84v1"/>
<path stroke="#482173" d="M19 82v2M27 84v1M28 84v1M29 84v1M31 84v1M32 84v1M33 84v1M34 84v1M37 84v1M38 84v1M39 84v1M42 84v1M43 84v1M45 84v1M46 84v1M47 84v1M48 84v1M50 84v1M51 84v1M52 84v1M53 84v1M54 84v1M55 84v1M66 84v1M67 84v1M68 84v1M70 84v1M72 84v1M73 84v1M74 84v1M75 84v1M77 84v1M78 84v1M79 84v1M81 84v1M82 84v1M85 84v1M86 84v1M89 84v1M95 84v1M96 84v1M99 84v1M100 84v1M101 84v1M103 84v1M104 84v1M107 84v1M109 84v1M111 84v1M112 84v1M113 84v1M132 83v1M143 83v1"/>
<path stroke="#482878" d="M18 83v1M21 83v1M30 84v1M35 84v1M36 84v1M49 84v1M71 84v1M97 84v1M98 84v1M105 84v1M106 84v1M148 83v1M153 82v2"/>
<path stroke="#472d7b" d="M6 83v1M7 83v1M18 82v1M19 81v1M21 82v1M123 83v1M132 79v2M132 82v1M139 83v1M143 82v1M148 82v1M151 80v4M153 81v1M155 82v1"/>
<path stroke="#46337f" d="M0 80v1M0 83v1M5 83v1M8 83v1M10 82v2M12 83v1M15 82v2M18 81v1M19 80v1M20 83v1M23 82v2M125 83v1M131 83v1M132 81v1M133 83v1M134 83v1M135 75v1M138 83v1M145 83v1M152 82v2M155 83v1"/>
<path stroke="#443983" d="M0 81v2M6 82v1M8 82v1M10 81v1M12 82v1M14 80v1M14 82v2M15 81v1M18 79v2M20 79v4M21 79v1M121 83v1M122 83v1M124 83v1M126 80v1M126 82v2M127 79v2M128 83v1M131 81v2M132 78v1M133 79v1M135 76v1M135 80v1M139 82v1M141 82v2M143 79v1M143 81v1M145 82v1M147 82v2M148 78v1M149 83v1M150 81v1M150 83v1M151 79v1M152 81v1M153 80v1M155 81v1M156 82v1"/>
<path stroke="#433e85" d="M0 78v2M3 83v1M4 83v1M7 82v1M8 81v1M10 80v1M11 79v1M11 82v2M12 80v2M14 79v1M14 81v1M15 80v1M17 81v2M18 78v1M19 79v1M20 76v3M21 77v2M21 80v2M22 83v1M23 77v5M123 82v1M124 80v1M124 82v1M125 82v1M126 79v1M126 81v1M127 77v2M127 81v3M129 83v1M131 78v3M132 77v1M133 78v1M133 80v1M133 82v1M134 80v1M134 82v1M135 74v1M135 77v1M135 81v1M135 83v1M136 83v1M137 80v1M138 77v1M138 81v2M139 80v2M142 83v1M143 80v1M146 81v3M148 79v1M148 81v1M149 79v1M150 82v1M151 76v2M153 79v1M155 80v1M156 81v1"/>
<path stroke="#414487" d="M0 76v2M3 79v2M3 82v1M5 79v1M5 82v1M6 81v1M9 80v3M11 78v1M11 80v2M12 79v1M13 81v1M13 83v1M14 78v1M15 79v1M16 74v1M16 82v2M17 79v2M17 83v1M18 77v1M19 78v1M20 75v1M21 76v1M22 82v1M23 75v2M24 76v1M24 82v1M25 80v4M120 83v1M123 79v2M124 81v1M127 75v2M128 78v1M128 81v2M129 80v3M130 83v1M131 77v1M133 77v1M133 81v1M134 77v1M134 81v1M135 73v1M135 78v2M135 82v1M136 78v1M136 81v1M137 83v1M138 78v1M138 80v1M140 77v1M140 83v1M141 73v1M141 81v1M143 77v2M144 82v2M146 78v3M147 78v2M147 81v1M148 77v1M149 80v1M150 80v1M151 75v1M151 78v1M152 80v1M153 74v2M153 78v1M154 81v2M155 75v2M155 79v1M156 76v3M156 83v1"/>
<path stroke="#3e4989" d="M0 75v1M1 80v1M3 81v1M4 71v1M4 77v1M4 82v1M5 77v2M5 80v1M6 79v2M7 73v1M7 76v4M8 80v1M9 83v1M10 79v1M11 76v2M13 80v1M13 82v1M15 74v1M15 78v1M16 73v1M16 75v1M16 80v2M17 77v2M18 74v1M20 74v1M21 74v2M22 78v2M23 74v1M24 74v2M24 77v5M24 83v1M121 80v3M122 82v1M123 71v5M123 81v1M124 73v2M124 76v4M125 77v1M125 80v2M126 76v2M127 74v1M129 76v1M129 79v1M130 75v1M130 77v2M130 82v1M131 76v1M132 76v1M134 71v3M134 76v1M135 71v2M136 73v1M136 75v3M136 80v1M136 82v1M137 77v3M137 81v2M138 79v1M139 77v2M140 75v2M140 78v1M140 81v2M141 69v1M141 74v2M141 80v1M142 79v1M142 82v1M143 76v1M144 79v3M145 74v1M145 81v1M146 77v1M148 76v1M148 80v1M149 72v1M149 78v1M149 82v1M150 76v1M150 79v1M152 75v3M152 79v1M153 69v1M153 73v1M153 76v2M154 83v1M155 77v1M156 75v1M156 79v1"/>
<path stroke="#3d4e8a" d="M1 69v1M1 74v1M1 79v1M1 81v3M2 72v1M2 81v1M3 76v1M3 78v1M4 72v1M4 75v2M4 78v4M5 72v5M5 81v1M6 78v1M7 72v1M7 74v2M7 80v2M8 79v1M9 68v1M9 71v1M9 79v1M10 76v1M10 78v1M11 72v2M12 67v1M12 77v2M13 72v2M13 76v2M13 79v1M14 71v7M15 75v1M15 77v1M16 76v2M16 79v1M17 72v2M17 75v2M18 75v2M19 75v3M20 73v1M22 74v4M22 80v2M23 73v1M25 70v1M25 76v2M25 79v1M63 83v1M119 83v1M121 79v1M122 80v2M123 70v1M123 76v3M124 75v1M125 70v1M125 73v1M125 75v2M125 79v1M126 75v1M126 78v1M128 74v2M128 77v1M128 79v2M129 73v3M129 77v2M130 74v1M130 76v1M130 81v1M131 75v1M133 76v1M134 74v2M134 78v2M135 70v1M136 72v1M136 74v1M136 79v1M137 73v2M138 76v1M139 74v1M139 76v1M139 79v1M140 71v2M140 74v1M140 80v1M141 70v1M141 72v1M141 76v1M141 78v2M142 80v1M143 75v1M144 77v2M145 73v1M145 75v1M146 72v1M146 76v1M147 75v1M147 80v1M148 75v1M149 73v1M149 76v2M149 81v1M150 74v2M150 77v2M152 67v1M152 74v1M152 78v1M153 68v1M153 70v3M154 78v1M154 80v1M155 69v1M155 71v1M155 74v1M155 78v1M156 80v1"/>
<path stroke="#3a538b" d="M0 74v1M1 68v1M1 70v1M1 73v1M2 71v1M2 74v2M2 78v3M2 82v2M3 73v1M3 77v1M4 74v1M6 77v1M7 63v1M7 66v3M7 70v2M8 71v3M8 78v1M9 67v1M9 69v2M9 72v1M9 75v1M9 77v2M10 77v1M11 71v1M11 75v1M12 66v1M12 69v1M12 73v1M12 76v1M13 78v1M15 70v3M15 76v1M16 69v1M16 72v1M16 78v1M17 74v1M18 69v3M19 72v1M20 66v2M20 72v1M21 69v2M21 73v1M22 73v1M24 65v1M24 71v1M24 73v1M25 71v2M25 75v1M25 78v1M91 83v1M114 83v1M115 83v1M120 78v5M121 76v1M122 79v1M124 72v1M125 69v1M125 72v1M125 74v1M126 73v2M127 72v2M128 73v1M128 76v1M129 70v1M129 72v1M130 68v2M130 72v2M130 79v2M131 73v2M132 72v2M133 73v3M134 70v1M136 64v1M137 71v2M137 76v1M139 71v2M139 75v1M140 70v1M140 73v1M140 79v1M141 68v1M141 71v1M141 77v1M142 72v1M142 75v2M142 78v1M142 81v1M143 74v1M144 73v4M145 70v2M145 76v1M145 79v2M146 71v1M146 73v3M147 71v2M147 74v1M147 76v2M148 73v2M149 69v1M149 71v1M149 74v2M150 72v2M151 73v2M152 68v3M152 72v2M154 74v2M154 77v1M154 79v1M155 68v1M155 70v1M155 72v1M156 67v1M156 71v2"/>
<path stroke="#38598c" d="M0 72v2M1 61v7M1 71v2M1 75v1M1 77v2M2 66v1M2 73v1M2 76v1M3 64v1M3 67v1M3 72v1M3 74v2M4 66v3M4 70v1M4 73v1M5 71v1M6 66v2M6 74v1M6 76v1M7 62v1M7 64v2M7 69v1M8 66v3M8 70v1M8 74v4M9 66v1M9 74v1M9 76v1M10 60v2M10 75v1M11 70v1M11 74v1M12 68v1M12 70v1M12 72v1M12 74v2M13 66v4M13 74v2M14 62v1M14 70v1M15 66v2M15 73v1M16 68v1M16 70v2M17 71v1M18 66v3M18 72v2M19 71v1M19 73v2M20 65v1M20 70v2M21 71v2M22 72v1M23 60v2M23 65v2M23 68v2M23 72v1M24 64v1M24 66v1M24 70v1M24 72v1M25 73v1M26 83v1M62 67v1M64 83v1M90 83v1M92 62v2M93 63v2M114 80v2M116 83v1M117 83v1M118 83v1M120 63v1M120 77v1M121 67v1M121 72v1M121 75v1M121 77v2M122 67v1M122 73v1M122 75v2M122 78v1M123 67v3M124 71v1M125 59v1M125 61v1M125 71v1M125 78v1M126 70v1M127 70v2M128 70v1M129 66v1M129 69v1M129 71v1M130 67v1M130 70v2M131 67v5M132 66v1M132 70v2M132 74v2M133 61v2M133 67v2M133 70v1M134 63v7M135 66v4M136 59v2M136 62v2M136 65v1M136 67v2M136 70v2M137 63v2M137 70v1M137 75v1M138 65v1M138 68v3M138 74v2M139 61v1M139 67v1M139 73v1M140 68v1M141 67v1M142 68v4M142 73v2M142 77v1M143 69v2M143 73v1M144 71v2M145 63v2M145 69v1M145 72v1M145 77v2M146 68v3M147 65v1M147 68v2M147 73v1M148 72v1M149 68v1M149 70v1M150 67v2M150 70v2M151 66v7M152 61v1M152 64v3M152 71v1M153 67v1M154 60v1M154 76v1M155 66v2M155 73v1M156 51v1M156 66v1M156 68v1M156 74v1"/>
<path stroke="#365d8d" d="M0 50v1M0 59v1M0 61v1M0 64v2M0 71v1M1 76v1M2 56v1M2 61v1M2 65v1M2 68v3M2 77v1M3 68v1M3 70v2M4 63v3M4 69v1M5 60v2M5 68v1M5 70v1M6 63v1M6 65v1M6 72v2M6 75v1M7 60v2M8 61v1M8 63v2M8 69v1M9 61v1M10 62v4M10 69v6M11 60v2M11 63v5M12 55v1M12 59v2M12 63v2M13 62v2M13 70v2M14 61v1M14 65v1M14 69v1M15 65v1M15 68v2M16 58v2M16 65v3M17 65v1M17 70v1M18 61v1M19 58v4M19 63v3M19 67v4M20 64v1M20 68v2M21 64v1M21 68v1M22 58v1M22 61v2M22 64v1M22 67v3M22 71v1M23 62v1M23 64v1M23 67v1M23 70v2M25 66v2M25 69v1M25 74v1M56 83v1M59 83v1M61 64v1M61 67v1M61 69v1M61 83v1M62 66v1M62 68v1M87 83v1M88 83v1M89 62v1M90 53v1M91 62v4M92 61v1M92 64v3M93 55v1M93 61v2M93 65v1M93 83v1M114 82v1M115 80v3M116 81v2M117 63v1M117 81v2M118 62v1M119 51v1M119 78v1M119 82v1M120 62v1M120 76v1M121 68v4M121 73v2M122 53v1M122 57v1M122 65v2M122 68v3M122 72v1M122 74v1M122 77v1M123 59v2M123 64v3M124 64v6M125 56v1M125 58v1M125 60v1M125 62v1M125 68v1M126 58v1M126 64v1M126 66v4M126 71v2M127 61v1M127 69v1M128 58v1M128 61v2M128 67v3M128 71v2M129 60v1M129 67v2M130 56v1M130 59v3M130 64v3M131 59v2M131 72v1M132 58v2M132 64v2M132 67v1M133 52v1M133 60v1M133 63v4M133 69v1M133 71v2M134 58v1M135 60v1M135 65v1M136 55v4M136 61v1M136 66v1M136 69v1M137 61v2M137 65v1M137 68v2M138 66v1M138 71v3M139 56v3M139 60v1M139 64v1M139 68v3M140 46v1M140 67v1M140 69v1M141 57v2M141 65v2M142 66v2M143 72v1M144 51v1M144 58v3M144 63v4M144 70v1M145 62v1M145 68v1M146 63v1M147 58v2M147 64v1M147 67v1M147 70v1M148 61v1M148 68v2M148 71v1M149 56v2M149 64v1M150 60v1M150 62v1M150 69v1M151 65v1M152 60v1M152 62v2M153 61v3M153 65v1M154 55v1M154 61v4M154 69v5M155 53v1M155 60v2M156 57v2M156 69v2M156 73v1"/>
<path stroke="#33628d" d="M0 55v2M0 58v1M0 60v1M0 62v2M0 66v2M0 69v2M1 60v1M2 60v1M2 62v3M2 67v1M3 59v1M3 63v1M3 65v2M3 69v1M4 56v1M4 58v1M4 62v1M5 53v1M5 59v1M5 62v1M5 64v4M5 69v1M6 49v1M6 54v2M6 59v3M6 64v1M6 68v4M7 56v4M8 53v5M8 62v1M8 65v1M9 47v1M9 50v1M9 62v4M9 73v1M10 56v1M10 66v3M11 57v1M11 59v1M11 62v1M11 68v2M12 56v1M12 61v2M12 65v1M12 71v1M13 54v1M13 61v1M13 64v2M14 56v1M14 63v2M14 67v2M15 54v1M15 58v1M15 60v1M15 63v2M16 57v1M16 60v3M16 64v1M17 54v1M17 61v2M17 64v1M17 69v1M18 58v2M18 62v1M18 65v1M19 53v1M19 56v2M19 62v1M19 66v1M21 52v2M21 55v2M21 58v1M21 60v2M21 63v1M21 65v3M22 56v2M22 60v1M22 63v1M22 65v1M22 70v1M23 51v1M23 55v3M23 59v1M23 63v1M24 61v3M24 67v1M24 69v1M25 61v5M25 68v1M58 83v1M60 65v1M60 70v2M60 83v1M61 63v1M61 65v2M61 68v1M61 70v3M62 63v3M62 69v1M62 83v1M65 83v1M88 62v1M88 64v2M89 53v2M89 57v1M89 61v1M89 63v3M90 54v1M90 60v2M91 55v1M91 61v1M91 66v2M91 72v2M91 81v2M92 60v1M92 67v1M92 70v6M92 83v1M93 56v1M93 60v1M93 66v3M93 72v1M114 79v1M115 46v1M117 53v1M117 62v1M117 64v2M117 74v1M117 80v1M118 59v1M118 63v3M118 82v1M119 50v1M119 59v1M119 63v2M119 76v2M119 79v3M120 57v1M120 60v2M120 64v3M120 74v2M121 53v2M121 58v3M121 62v2M121 65v2M122 58v1M122 60v5M122 71v1M123 53v1M123 57v2M123 61v1M124 56v1M124 59v2M124 70v1M125 55v1M125 57v1M125 63v2M125 66v2M126 52v2M126 56v2M126 59v5M126 65v1M127 60v1M127 64v5M128 57v1M128 59v2M128 63v1M128 66v1M129 54v1M129 57v3M129 61v3M129 65v1M130 52v4M130 57v2M130 62v1M131 56v3M131 61v1M131 64v1M131 66v1M132 57v1M132 63v1M132 68v2M133 53v1M133 57v2M134 50v2M134 53v3M134 57v1M134 60v3M135 61v2M137 55v2M137 59v2M138 59v6M138 67v1M139 59v1M139 62v1M139 65v2M140 47v1M140 58v1M140 63v4M141 49v1M141 60v3M141 64v1M142 60v1M142 65v1M143 48v1M143 59v1M143 63v2M143 66v1M143 68v1M144 57v1M144 61v2M144 67v1M144 69v1M145 56v3M145 61v1M145 65v1M146 52v6M146 62v1M146 64v4M147 50v1M147 56v1M147 60v4M147 66v1M148 60v1M148 62v1M148 65v1M148 70v1M149 51v2M149 54v2M149 62v2M149 65v3M150 57v1M150 61v1M150 65v2M151 57v1M151 60v2M151 63v2M152 56v4M153 55v2M153 59v2M153 64v1M153 66v1M154 59v1M154 65v4M155 50v1M155 54v2M155 59v1M155 62v1M155 65v1M156 50v1M156 55v1M156 59v4"/>
<path stroke="#31668e" d="M0 49v1M0 51v1M0 54v1M0 57v1M0 68v1M1 49v2M1 58v2M2 55v1M2 57v1M2 59v1M3 51v2M3 55v1M3 58v1M3 60v3M4 55v1M4 59v1M4 61v1M5 58v1M6 51v3M6 56v1M6 62v1M7 51v1M7 55v1M8 58v1M8 60v1M9 51v2M9 54v2M9 60v1M10 47v1M10 52v1M10 55v1M10 57v1M10 59v1M11 45v1M11 55v2M11 58v1M12 52v3M12 57v2M13 47v1M13 51v1M13 53v1M13 55v1M13 57v1M13 59v2M14 52v1M14 55v1M14 57v4M14 66v1M15 49v2M15 53v1M15 55v1M15 57v1M15 59v1M15 61v2M16 49v1M16 53v4M16 63v1M17 43v2M17 55v1M17 60v1M17 63v1M17 66v1M17 68v1M18 48v1M18 51v2M18 54v4M18 60v1M18 63v2M19 52v1M20 52v2M20 60v1M20 63v1M21 39v1M21 45v1M21 51v1M21 54v1M21 57v1M21 59v1M21 62v1M22 49v5M22 55v1M22 59v1M22 66v1M23 47v1M23 52v1M23 54v1M23 58v1M24 45v1M24 51v1M24 54v4M24 59v2M25 51v5M25 57v2M25 60v1M26 82v1M40 83v1M55 63v2M56 62v1M56 64v2M57 65v2M57 68v1M57 83v1M59 60v1M59 65v1M60 64v1M60 66v4M60 72v1M61 54v1M61 57v1M61 60v3M61 73v1M62 56v1M62 60v3M62 70v6M63 82v1M74 37v1M74 51v1M75 65v1M84 83v1M88 46v1M88 51v1M88 57v1M88 61v1M88 63v1M88 66v2M89 49v1M89 52v1M89 55v2M89 60v1M89 66v2M90 52v1M90 56v2M90 59v1M90 63v2M91 43v1M91 53v2M91 56v1M91 58v3M91 68v1M91 71v1M92 44v1M92 49v1M92 55v2M92 68v2M92 82v1M93 54v1M93 57v1M93 59v1M93 69v1M93 71v1M93 73v1M93 75v1M93 82v1M108 83v1M112 47v2M113 57v1M114 55v1M114 58v1M115 54v8M115 79v1M116 51v1M116 55v1M116 58v2M116 61v2M116 80v1M117 52v1M117 54v1M117 57v1M117 61v1M117 73v1M117 75v1M118 53v6M118 60v2M118 72v4M119 47v3M119 52v7M119 60v3M119 65v3M119 74v2M120 51v6M120 58v2M120 67v2M120 70v4M121 50v3M121 57v1M121 61v1M121 64v1M122 49v2M122 52v1M122 54v1M122 56v1M122 59v1M123 44v2M123 52v1M123 55v2M123 62v2M124 49v5M124 61v3M125 45v1M125 54v1M125 65v1M126 49v2M126 55v1M127 52v2M127 56v4M127 62v2M128 52v2M128 56v1M128 64v2M129 48v1M129 51v3M129 64v1M130 48v2M130 51v1M130 63v1M131 55v1M131 62v2M131 65v1M132 49v2M132 54v1M132 56v1M132 60v3M133 38v1M133 49v3M133 55v2M133 59v1M134 52v1M134 56v1M134 59v1M135 50v7M135 58v2M135 63v2M136 54v1M137 50v1M137 57v2M137 67v1M138 49v5M138 56v2M139 50v1M139 55v1M139 63v1M140 52v1M140 56v2M140 59v4M141 41v2M141 48v1M141 50v1M141 54v1M141 59v1M141 63v1M142 49v1M142 56v1M142 59v1M142 61v4M143 47v1M143 50v2M143 53v4M143 60v3M143 65v1M143 67v1M143 71v1M144 45v1M144 50v1M144 52v1M144 56v1M144 68v1M145 42v1M145 52v1M145 55v1M145 59v1M145 66v2M146 58v4M147 51v1M147 55v1M147 57v1M148 55v1M148 58v2M148 66v2M149 50v1M149 53v1M149 58v1M149 60v2M150 47v1M150 54v1M150 56v1M150 59v1M150 63v2M151 48v2M151 53v4M151 58v2M151 62v1M152 52v1M153 54v1M153 57v2M154 49v1M154 52v1M154 54v1M154 56v1M155 49v1M155 51v2M155 56v1M155 63v2M156 46v2M156 54v1M156 56v1M156 64v2"/>
<path stroke="#2f6b8e" d="M0 41v1M0 45v4M1 45v2M1 51v3M2 51v4M3 46v3M3 54v1M3 56v2M4 45v3M4 53v2M4 57v1M4 60v1M5 42v1M5 46v3M5 52v1M5 54v1M5 63v1M6 40v1M6 42v3M6 48v1M6 50v1M6 57v2M7 31v1M7 50v1M7 52v3M8 40v1M8 46v4M8 52v1M8 59v1M9 46v1M9 48v2M9 56v4M10 43v4M10 48v1M10 50v2M10 53v1M10 58v1M11 44v1M11 49v3M11 54v1M12 44v3M12 48v4M13 45v2M13 50v1M13 52v1M13 56v1M14 40v2M14 49v3M14 53v2M15 44v1M15 48v1M15 51v2M15 56v1M16 44v2M16 48v1M17 45v2M17 48v6M17 58v2M17 67v1M18 41v3M18 45v2M18 49v2M18 53v1M19 39v1M19 42v4M19 54v2M20 37v1M20 42v2M20 48v4M20 54v3M20 58v2M20 61v2M21 40v1M21 43v2M21 46v5M22 40v1M22 48v1M22 54v1M23 48v3M23 53v1M24 40v2M24 44v1M24 46v1M24 48v3M24 52v2M24 58v1M24 68v1M25 44v2M25 49v2M25 56v1M25 59v1M41 83v1M44 83v1M45 62v1M55 62v1M55 65v3M56 61v1M56 63v1M56 66v2M56 81v2M57 64v1M57 67v1M57 69v1M59 59v1M59 61v1M59 64v1M59 66v2M59 71v3M59 79v4M60 56v2M60 60v2M60 63v1M60 79v1M61 51v1M61 53v1M61 55v2M61 58v2M61 74v1M61 78v1M62 55v1M62 57v1M62 76v1M64 37v1M65 37v1M69 83v1M74 36v1M74 49v2M74 52v1M74 64v2M75 35v1M75 64v1M75 66v1M76 83v1M88 45v1M88 47v1M88 49v2M88 56v1M88 58v3M88 68v1M89 42v1M89 50v2M89 58v2M89 68v1M90 47v3M90 55v1M90 58v1M90 62v1M90 65v3M91 40v1M91 52v1M91 57v1M91 69v2M91 74v1M91 76v2M91 80v1M92 45v1M92 50v5M92 57v3M92 76v1M92 79v3M93 48v6M93 58v1M93 70v1M93 74v1M93 76v2M93 80v2M99 49v1M101 45v1M102 83v1M104 57v2M107 55v3M109 52v2M109 56v1M109 83v1M110 51v2M110 55v2M110 83v1M111 40v2M111 44v4M112 46v1M112 49v2M112 56v1M112 59v2M113 53v4M113 83v1M114 44v2M114 51v2M114 54v1M114 56v2M114 59v1M114 75v1M114 78v1M115 43v3M115 47v1M115 53v1M115 62v1M116 44v1M116 50v1M116 52v3M116 60v1M116 63v1M116 75v1M117 43v1M117 45v4M117 51v1M117 55v1M117 58v3M117 66v1M117 71v2M117 76v1M117 79v1M118 41v3M118 49v4M118 66v1M118 71v1M118 76v2M118 81v1M119 41v1M119 72v2M120 41v1M120 49v2M120 69v1M121 41v1M121 55v1M122 45v1M122 47v2M122 51v1M122 55v1M123 41v3M123 46v3M123 54v1M124 43v6M124 54v2M124 57v2M125 29v2M125 44v1M125 46v1M125 51v3M126 46v3M126 51v1M126 54v1M127 45v3M127 50v1M127 54v1M128 43v2M128 47v1M128 49v3M128 54v2M129 42v3M129 47v1M129 50v1M129 55v2M130 41v1M130 46v1M130 50v1M131 41v2M131 49v1M132 39v1M132 45v1M132 48v1M132 51v1M132 53v1M132 55v1M133 34v1M133 39v1M133 42v2M133 48v1M133 54v1M134 45v2M134 49v1M135 33v2M135 46v1M135 49v1M136 45v2M136 49v1M136 53v1M137 37v1M137 43v2M137 47v3M137 51v1M137 54v1M137 66v1M138 48v1M138 55v1M138 58v1M139 40v2M139 46v1M139 51v4M140 45v1M140 48v4M140 53v1M140 55v1M141 40v1M141 45v1M141 55v2M142 44v2M142 47v2M142 50v1M142 55v1M142 57v1M143 45v2M143 49v1M143 52v1M143 57v2M144 44v1M144 46v2M144 55v1M145 40v2M145 53v2M145 60v1M146 49v3M147 38v2M147 48v2M147 52v3M148 41v6M148 49v3M148 54v1M148 56v2M148 63v2M149 43v1M149 47v2M149 59v1M150 37v1M150 46v1M150 50v1M150 52v2M150 55v1M150 58v1M151 43v5M152 43v1M152 45v7M152 53v1M152 55v1M153 52v2M154 44v1M154 48v1M154 50v2M154 53v1M154 57v2M155 57v2M156 38v1M156 44v2M156 52v1M156 63v1"/>
<path stroke="#2d708e" d="M0 29v1M0 44v1M0 52v2M1 33v1M1 39v1M1 44v1M1 47v2M1 54v4M2 40v1M2 42v4M2 48v2M2 58v1M3 36v1M3 40v6M3 49v2M3 53v1M4 29v1M4 32v3M4 42v3M4 48v3M5 41v1M5 43v3M5 49v3M5 55v3M6 33v1M6 41v1M6 46v2M7 35v6M7 43v1M7 45v2M7 49v1M8 38v2M8 41v2M8 45v1M8 50v2M9 35v1M9 43v1M9 53v1M10 40v2M10 49v1M10 54v1M11 34v2M11 42v2M11 46v1M11 52v2M12 41v3M12 47v1M13 36v1M13 39v3M13 58v1M14 39v1M14 42v1M14 44v1M14 47v2M15 34v2M15 40v1M15 42v1M15 45v1M16 34v1M16 37v1M16 41v1M16 43v1M16 46v1M16 50v3M17 40v3M17 47v1M17 56v2M18 39v2M18 44v1M18 47v1M19 36v3M19 40v2M19 48v4M20 38v3M20 44v1M20 57v1M21 41v2M22 39v1M22 41v1M22 44v2M22 47v1M23 30v1M23 43v4M24 38v1M25 25v1M25 31v1M25 41v1M25 46v1M25 48v1M35 29v1M40 29v1M42 83v1M43 26v1M43 83v1M44 59v5M45 58v2M45 61v1M45 66v1M46 83v1M47 60v2M50 38v2M51 61v2M53 49v1M53 59v4M53 68v2M53 83v1M55 54v3M55 60v2M55 68v1M55 83v1M56 54v7M56 68v1M56 70v2M56 80v1M57 62v2M58 65v2M58 82v1M59 51v1M59 55v4M59 62v2M59 70v1M59 74v1M59 78v1M60 53v3M60 58v2M60 62v1M60 73v1M60 78v1M60 80v1M61 46v2M61 49v2M61 52v1M61 75v3M61 79v2M61 82v1M62 49v4M62 54v1M62 58v2M63 81v1M64 38v1M66 37v1M69 30v1M69 53v1M70 51v3M72 36v2M72 44v2M72 47v2M73 36v1M73 51v2M74 35v1M74 38v1M74 45v4M74 53v1M74 62v2M74 66v1M75 34v1M75 42v1M75 46v2M75 49v5M75 56v2M75 61v3M75 67v1M75 83v1M77 25v1M77 31v1M80 83v1M81 27v2M81 37v1M88 42v1M88 44v1M88 48v1M88 52v4M89 33v1M89 41v1M89 43v3M89 48v1M90 34v3M90 41v1M90 43v4M90 50v2M90 72v1M90 82v1M91 42v1M91 44v5M91 50v2M91 75v1M91 78v2M92 41v3M92 46v1M92 77v2M93 37v1M93 41v1M93 43v2M93 46v2M93 78v2M94 83v1M96 32v2M97 30v1M97 44v1M98 45v1M99 29v1M99 46v1M99 48v1M99 50v2M100 44v6M101 44v1M101 46v1M101 52v2M102 44v1M103 37v1M103 39v1M103 49v4M104 31v2M104 39v2M104 45v2M104 50v1M104 55v1M104 59v1M105 45v3M105 50v1M105 57v2M106 49v1M106 56v1M107 46v1M107 58v1M108 52v2M109 35v2M109 41v1M109 44v2M109 48v4M109 54v2M109 57v1M110 35v1M110 43v1M110 46v3M110 50v1M110 53v2M110 59v2M111 34v2M111 48v1M111 50v3M111 55v4M112 43v3M112 51v2M112 54v2M112 57v2M112 61v1M113 33v1M113 35v1M113 41v1M113 43v1M113 45v8M113 58v1M114 46v4M114 53v1M114 60v2M114 76v2M115 34v1M115 42v1M115 48v1M115 51v2M115 63v1M115 72v7M116 42v2M116 45v3M116 56v2M116 74v1M116 76v1M116 79v1M117 40v1M117 42v1M117 44v1M117 49v1M117 56v1M117 67v4M117 77v1M118 40v1M118 44v3M118 48v1M118 67v4M118 78v1M119 40v1M119 42v1M119 46v1M119 68v1M119 70v2M120 31v1M120 38v1M120 42v1M120 44v5M121 35v4M121 42v1M121 47v1M121 49v1M121 56v1M122 39v3M122 46v1M123 39v1M123 49v3M124 37v1M124 39v1M124 42v1M125 43v1M125 47v2M125 50v1M126 29v1M126 35v2M126 42v1M126 45v1M127 40v2M127 48v2M127 51v1M127 55v1M128 35v1M128 38v1M128 41v2M128 45v1M128 48v1M129 39v3M129 45v2M129 49v1M130 34v1M130 37v2M130 42v1M130 44v2M130 47v1M131 33v3M131 43v2M131 46v3M131 52v3M132 40v1M132 43v2M132 46v2M132 52v1M133 35v1M133 37v1M133 44v4M134 41v1M134 43v2M134 47v1M135 27v1M135 39v1M135 41v2M135 45v1M135 47v2M135 57v1M136 32v2M136 35v1M136 44v1M136 47v1M136 50v1M136 52v1M137 38v1M137 45v2M137 52v2M138 36v4M138 45v1M138 47v1M138 54v1M139 39v1M139 42v2M139 49v1M140 33v1M140 42v3M140 54v1M141 38v1M141 43v2M141 46v2M141 51v3M142 38v2M142 42v2M142 46v1M142 51v1M142 53v2M142 58v1M143 41v4M144 27v1M144 38v1M144 42v2M144 48v2M144 53v2M145 39v1M145 43v1M145 45v7M146 38v4M146 45v4M147 33v1M147 37v1M147 40v1M147 42v6M148 32v1M148 35v1M148 39v2M148 47v2M148 52v2M149 36v2M149 41v2M149 44v1M149 46v1M149 49v1M150 33v1M150 36v1M150 43v3M150 48v2M150 51v1M151 41v2M151 52v1M152 34v2M152 41v2M152 44v1M152 54v1M153 34v2M153 41v2M153 47v5M154 33v1M154 38v1M154 45v3M155 34v1M155 43v3M155 48v1M156 27v1M156 41v2M156 48v1"/>
<path stroke="#2c738e" d="M0 24v1M0 37v2M0 40v1M0 42v2M1 23v1M1 26v2M1 34v3M1 40v4M2 32v1M2 37v3M2 41v1M2 46v2M2 50v1M3 24v1M3 31v2M3 34v2M3 37v1M3 39v1M4 23v4M4 28v1M4 30v2M4 35v1M4 39v1M4 41v1M4 51v2M5 38v1M5 40v1M6 32v1M6 34v4M6 39v1M6 45v1M7 32v3M7 41v1M7 44v1M7 47v2M8 34v1M8 36v2M8 44v1M9 20v2M9 28v2M9 34v1M9 36v1M9 40v3M9 45v1M10 42v1M11 22v1M11 36v1M11 41v1M11 47v2M12 31v2M12 36v5M13 19v1M13 34v2M13 37v2M13 42v3M13 48v2M14 31v1M14 33v2M14 38v1M14 45v2M15 24v1M15 31v1M15 36v2M15 39v1M15 41v1M15 43v1M15 46v2M16 36v1M16 38v3M16 42v1M16 47v1M17 39v1M18 36v3M19 30v1M19 33v2M19 46v1M20 34v3M20 41v1M20 46v2M21 27v1M21 30v2M21 34v2M22 32v2M22 35v2M22 43v1M22 46v1M23 31v1M23 33v1M23 37v1M23 41v2M24 28v1M24 33v2M24 36v2M24 39v1M24 42v2M24 47v1M25 24v1M25 28v3M25 34v2M25 39v2M25 42v2M30 25v1M31 36v1M33 34v2M34 33v3M35 37v1M37 34v2M38 21v1M38 26v1M38 33v1M39 31v1M39 33v1M40 28v1M40 32v2M41 31v3M41 38v2M42 30v2M42 33v1M42 65v2M43 27v1M43 33v1M43 35v2M43 58v2M43 65v2M43 70v4M43 80v1M44 58v1M44 64v4M45 56v2M45 60v1M45 63v3M45 67v1M45 83v1M47 58v2M47 62v3M48 59v1M48 63v1M49 34v2M49 44v1M49 46v4M49 62v2M50 31v1M50 33v1M50 37v1M50 40v3M50 46v4M50 62v1M51 33v2M51 37v4M51 63v1M51 83v1M52 28v1M52 36v1M52 42v1M52 46v4M53 50v1M53 56v3M53 63v5M53 70v1M54 53v3M54 63v1M55 53v1M55 59v1M55 69v2M55 79v2M56 53v1M56 69v1M56 79v1M57 54v3M57 60v2M57 70v1M57 82v1M58 64v1M58 67v1M58 72v1M59 52v3M59 68v2M59 77v1M60 45v1M60 52v1M60 77v1M60 82v1M61 48v1M61 81v1M62 46v3M62 53v1M62 77v2M62 81v2M64 36v1M64 82v1M65 32v2M65 36v1M65 38v1M66 36v1M66 83v1M68 30v2M68 64v2M69 29v1M69 32v3M69 54v1M70 34v4M70 43v3M70 50v1M70 54v1M70 83v1M71 32v1M71 37v2M71 44v4M72 35v1M72 43v1M72 46v1M73 28v4M73 37v1M73 45v2M73 61v1M74 27v1M74 31v3M74 39v1M74 54v1M74 61v1M74 83v1M75 31v1M75 33v1M75 36v1M75 41v1M75 43v3M75 48v1M75 54v2M75 58v3M75 68v1M76 20v2M76 48v3M76 53v3M77 24v1M77 32v1M79 31v1M79 35v1M80 27v4M80 32v1M81 36v1M81 38v1M82 26v2M82 36v1M83 26v1M83 83v1M84 31v3M84 35v1M85 35v1M86 27v1M88 29v1M88 39v1M88 41v1M88 43v1M88 82v1M89 34v5M89 46v2M89 69v1M89 83v1M90 33v1M90 39v2M90 68v1M90 71v1M90 73v2M91 24v2M91 29v2M91 36v2M91 39v1M91 41v1M91 49v1M92 27v1M92 34v4M92 39v2M92 48v1M93 36v1M93 38v1M93 42v1M93 45v1M96 27v1M96 31v1M96 36v4M96 43v3M97 29v1M97 37v1M97 43v1M97 45v1M98 26v2M98 30v2M98 35v2M98 38v2M98 44v1M98 46v1M98 49v2M99 28v1M99 30v1M99 36v3M99 43v3M99 47v1M99 52v1M99 55v3M100 27v1M100 33v1M100 43v1M100 50v1M100 52v3M100 56v2M101 43v1M101 47v1M101 51v1M101 54v2M102 25v1M102 40v2M102 43v1M102 45v3M102 49v5M102 55v2M103 29v5M103 36v1M103 40v1M103 44v5M103 53v1M103 57v1M104 33v3M104 47v1M104 49v1M104 51v2M104 54v1M104 56v1M105 34v1M105 39v2M105 48v2M105 51v1M105 55v2M106 39v4M106 45v2M106 50v1M106 55v1M106 57v2M107 43v3M107 47v2M107 52v1M107 54v1M108 36v4M108 41v2M108 44v1M108 51v1M109 34v1M109 37v4M109 42v2M109 46v2M109 58v1M110 29v1M110 33v2M110 39v2M110 42v1M110 44v2M110 49v1M110 57v1M111 26v2M111 33v1M111 36v3M111 42v2M111 49v1M111 53v2M111 59v2M112 34v2M112 37v2M112 41v2M112 53v1M113 25v1M113 30v1M113 32v1M113 34v1M113 40v1M113 42v1M113 44v1M113 59v3M113 75v1M114 34v1M114 36v3M114 41v3M114 50v1M114 62v1M114 68v3M114 74v1M115 33v1M115 41v1M115 50v1M115 64v1M116 48v1M117 29v1M117 31v2M117 34v2M117 39v1M117 41v1M117 50v1M117 78v1M118 33v1M118 37v2M118 47v1M118 79v2M119 34v6M119 44v2M119 69v1M120 25v1M120 32v1M120 39v2M120 43v1M121 31v1M121 39v2M121 43v1M121 46v1M121 48v1M122 34v5M122 44v1M123 26v1M123 31v1M123 37v2M123 40v1M124 36v1M124 38v1M124 40v2M125 31v1M125 39v2M125 49v1M126 30v1M126 43v1M127 27v1M127 30v1M127 35v2M127 38v2M127 42v1M127 44v1M128 34v1M128 36v2M128 39v2M128 46v1M129 34v5M130 30v1M130 33v1M130 40v1M131 30v2M131 36v2M131 40v1M131 45v1M131 51v1M132 31v2M132 34v1M132 38v1M132 42v1M133 26v1M133 33v1M133 40v1M134 27v1M134 38v3M134 42v1M134 48v1M135 21v1M135 32v1M135 35v1M135 38v1M135 40v1M135 43v2M136 31v1M136 34v1M136 36v1M136 40v1M136 43v1M136 48v1M136 51v1M137 32v2M137 39v4M138 35v1M138 40v1M138 46v1M139 31v1M139 34v3M139 44v2M139 47v2M140 32v1M140 34v4M140 40v2M141 22v1M141 29v3M141 34v4M141 39v1M142 36v2M142 41v1M142 52v1M143 27v2M143 39v2M144 20v1M144 28v1M144 34v4M144 39v1M144 41v1M145 27v1M145 33v1M145 37v2M145 44v1M146 31v2M146 36v2M146 42v1M146 44v1M147 30v3M147 34v1M147 36v1M147 41v1M148 30v2M148 33v2M148 36v1M149 25v1M149 35v1M149 38v3M149 45v1M150 34v1M150 38v5M151 26v5M151 34v1M151 36v5M151 50v1M152 30v1M152 36v1M152 38v2M153 33v1M153 36v1M153 39v2M153 43v2M153 46v1M154 34v4M154 39v1M154 43v1M155 30v1M155 35v1M155 38v5M155 46v2M156 26v1M156 33v1M156 35v1M156 39v2M156 43v1M156 49v1M156 53v1"/>
<path stroke="#2a788e" d="M0 14v3M0 20v1M0 25v1M0 28v1M0 33v4M0 39v1M1 22v1M1 25v1M1 37v2M2 33v4M3 22v1M3 25v6M3 33v1M3 38v1M4 21v2M4 27v1M4 36v3M4 40v1M5 12v1M5 30v2M5 33v5M5 39v1M6 21v3M6 29v3M7 22v1M7 25v1M7 28v3M7 42v1M8 20v2M8 26v1M8 28v1M8 30v2M8 33v1M8 35v1M8 43v1M9 11v1M9 26v1M9 30v1M9 33v1M9 37v3M9 44v1M10 26v1M10 30v2M10 34v6M11 15v2M11 18v2M11 21v1M11 27v3M11 40v1M12 15v2M12 19v1M12 29v1M12 33v2M13 24v2M13 29v1M13 32v2M14 21v1M14 32v1M14 35v3M14 43v1M15 14v1M15 21v1M15 25v2M15 28v3M15 32v2M15 38v1M16 18v1M16 24v1M16 27v7M16 35v1M17 30v1M17 36v1M17 38v1M18 28v4M19 27v1M19 29v1M19 31v2M19 35v1M19 47v1M20 13v1M20 19v1M20 27v2M20 45v1M21 22v1M21 28v1M21 32v2M21 36v3M22 27v2M22 31v1M22 34v1M22 37v2M23 23v2M23 28v2M23 32v1M23 34v1M23 36v1M23 38v3M24 21v1M24 23v2M24 26v2M24 29v2M24 32v1M24 35v1M25 26v1M25 32v2M25 36v1M25 38v1M25 47v1M26 81v1M28 26v1M29 22v1M30 30v1M30 32v1M31 34v1M31 37v1M32 21v1M32 33v1M32 83v1M33 32v2M33 36v1M33 83v1M34 21v2M34 25v1M34 36v1M35 20v1M35 22v1M35 30v1M35 34v3M36 22v1M36 27v1M36 35v2M37 33v1M37 36v2M38 20v1M38 22v1M38 25v1M38 34v3M39 15v1M39 26v5M39 32v1M39 34v1M40 24v3M40 30v2M40 34v4M41 23v1M41 34v2M41 37v1M41 51v4M41 62v3M41 66v2M42 28v2M42 32v1M42 36v4M42 42v3M42 47v3M42 63v2M42 67v1M42 71v1M43 23v2M43 34v1M43 37v1M43 39v1M43 45v1M43 55v3M43 60v5M43 67v2M43 74v1M43 79v1M44 57v1M45 55v1M45 68v1M46 58v2M46 68v2M47 56v2M47 65v1M47 69v1M48 58v1M48 60v1M48 62v1M48 64v1M49 28v1M49 31v3M49 36v2M49 39v1M49 43v1M49 45v1M49 61v1M50 20v1M50 25v1M50 29v2M50 32v1M50 34v3M50 43v3M50 50v1M50 61v1M50 63v1M50 83v1M51 18v1M51 35v2M51 41v10M51 60v1M52 29v1M52 32v1M52 37v2M52 41v1M52 45v1M52 50v2M52 83v1M53 48v1M53 51v5M54 56v1M54 59v4M54 64v2M54 69v1M54 83v1M55 52v1M55 57v2M55 71v1M55 81v2M56 42v1M56 48v5M56 72v2M56 78v1M57 57v3M57 71v1M58 51v1M58 55v2M58 59v2M58 63v1M58 68v1M58 70v2M58 73v1M58 80v2M59 50v1M59 75v2M60 44v1M60 46v1M60 50v2M60 74v1M60 81v1M61 43v3M62 45v1M62 79v2M63 56v1M63 63v4M63 73v1M64 30v2M65 25v1M65 30v2M65 34v1M65 57v1M66 35v1M66 38v1M67 19v1M67 27v1M67 31v1M67 37v2M68 20v1M68 29v1M68 32v3M68 36v3M68 61v3M69 28v1M69 31v1M69 35v3M69 52v1M69 55v1M70 28v3M70 38v1M70 46v1M70 49v1M70 65v1M71 10v1M71 27v2M71 31v1M71 33v2M71 36v1M71 43v1M71 48v2M71 51v3M72 13v2M72 23v1M72 29v3M72 34v1M72 38v2M72 49v1M72 51v3M72 58v2M72 64v2M73 27v1M73 32v4M73 44v1M73 47v4M73 53v1M73 60v1M73 64v1M74 28v1M74 30v1M74 34v1M74 40v5M74 55v6M74 67v1M75 23v3M75 32v1M75 37v3M75 70v1M76 19v1M76 27v2M76 32v1M76 35v1M76 41v7M76 52v1M76 56v6M77 26v1M78 26v1M78 31v1M79 22v1M79 28v1M79 30v1M79 32v3M79 36v1M80 23v1M80 26v1M80 31v1M80 33v3M80 38v1M81 26v1M81 29v1M81 35v1M81 83v1M82 28v3M82 35v1M82 83v1M83 10v1M83 23v1M83 28v3M83 33v5M84 34v1M84 36v1M85 26v2M85 32v2M85 36v2M85 83v1M86 24v2M86 28v1M86 32v2M86 83v1M87 31v1M87 82v1M88 14v2M88 24v5M88 30v2M88 36v1M88 38v1M88 40v1M88 69v1M89 15v1M89 19v3M89 24v4M89 29v1M89 32v1M89 39v2M90 21v1M90 23v1M90 25v2M90 32v1M90 37v2M90 42v1M90 69v2M90 75v1M90 81v1M91 21v2M91 26v3M91 31v3M91 35v1M91 38v1M92 14v1M92 23v2M92 26v1M92 28v3M92 33v1M93 19v1M93 23v2M93 31v5M93 39v2M95 32v1M95 36v1M95 42v5M95 83v1M96 22v1M96 25v2M96 28v1M96 34v2M96 40v1M96 46v3M96 51v1M97 24v1M97 27v2M97 31v1M97 33v1M97 35v2M97 38v2M97 42v1M97 46v2M97 49v2M98 19v2M98 24v2M98 29v1M98 32v1M98 34v1M98 42v2M98 47v2M98 51v1M99 20v1M99 31v1M99 35v1M99 39v4M99 53v2M100 22v1M100 28v2M100 32v1M100 34v1M100 36v3M100 51v1M100 55v1M101 38v1M101 42v1M101 48v3M101 56v1M102 26v2M102 30v3M102 35v3M102 42v1M102 48v1M102 54v1M102 57v1M103 9v1M103 22v1M103 25v1M103 34v1M103 38v1M103 41v3M103 54v1M103 56v1M103 58v1M104 22v2M104 28v3M104 38v1M104 41v1M104 44v1M104 48v1M104 53v1M104 60v1M105 31v1M105 33v1M105 38v1M105 41v1M105 44v1M105 52v1M105 59v1M106 27v4M106 33v3M106 43v1M106 47v2M106 51v2M106 59v1M107 23v1M107 32v4M107 38v5M107 49v3M107 53v1M107 59v1M108 31v5M108 40v1M108 43v1M108 45v6M108 54v1M108 56v2M108 82v1M109 20v1M109 25v1M109 59v2M110 25v2M110 36v3M110 41v1M110 58v1M110 61v1M110 82v1M111 21v2M111 25v1M111 28v1M111 30v3M111 39v1M111 61v1M112 25v2M112 31v1M112 36v1M112 39v2M112 62v1M112 76v1M113 24v1M113 26v3M113 31v1M113 36v1M113 38v1M113 62v1M113 76v1M113 78v4M114 27v2M114 32v2M114 35v1M114 39v2M114 63v1M114 66v2M114 71v1M114 73v1M115 23v1M115 32v1M115 37v4M115 49v1M115 67v1M115 71v1M116 25v1M116 30v2M116 34v1M116 36v1M116 38v4M116 49v1M116 64v1M116 73v1M116 77v1M117 21v2M117 28v1M117 33v1M117 36v3M118 26v2M118 32v1M118 34v1M118 39v1M119 33v1M119 43v1M120 13v1M120 24v1M120 26v1M120 30v1M120 33v2M120 37v1M121 25v1M121 27v2M121 32v1M121 34v1M121 44v2M122 20v2M122 32v2M122 42v2M123 25v1M123 27v1M123 30v1M123 33v4M124 16v1M124 29v7M125 19v1M125 28v1M125 34v2M125 38v1M125 41v2M126 25v1M126 28v1M126 34v1M126 37v1M126 39v3M126 44v1M127 26v1M127 28v2M127 31v2M127 34v1M127 37v1M127 43v1M128 26v3M128 33v1M129 26v2M129 29v3M130 31v2M130 35v2M130 39v1M130 43v1M131 21v1M131 32v1M131 38v2M131 50v1M132 19v1M132 27v2M132 30v1M132 33v1M132 35v1M132 37v1M132 41v1M133 27v4M133 36v1M133 41v1M134 17v1M134 28v5M134 36v2M135 20v1M135 23v1M135 26v1M135 36v2M136 23v1M136 27v1M136 37v1M136 41v2M137 21v1M137 23v1M137 36v1M138 29v2M138 32v3M138 41v3M139 25v1M139 27v4M139 32v2M139 37v2M140 18v1M140 26v1M140 31v1M140 38v2M141 19v2M141 23v1M141 26v1M141 32v2M142 21v1M142 23v3M142 27v2M142 31v3M142 40v1M143 18v2M143 26v1M143 30v2M143 36v3M144 15v1M144 19v1M144 21v1M144 30v1M144 33v1M144 40v1M145 16v1M145 19v3M145 26v1M145 31v2M145 34v3M146 23v1M146 35v1M146 43v1M147 19v3M147 27v3M147 35v1M148 25v1M148 29v1M148 37v2M149 18v1M149 20v2M149 24v1M149 26v1M149 29v2M149 33v2M150 26v2M150 32v1M150 35v1M151 25v1M151 31v3M151 35v1M151 51v1M152 15v1M152 22v1M152 29v1M152 37v1M152 40v1M153 31v2M153 37v2M153 45v1M154 28v5M155 24v1M155 27v3M155 33v1M155 36v2M156 28v1M156 32v1M156 34v1M156 37v1"/>
<path stroke="#287d8e" d="M0 9v1M0 13v1M0 17v3M0 21v1M0 26v2M0 30v1M0 32v1M1 15v1M1 17v3M1 24v1M1 28v5M2 20v1M2 23v1M2 25v7M3 10v1M3 17v1M3 23v1M4 8v1M4 13v1M5 13v1M5 26v4M5 32v1M6 10v1M6 17v1M6 20v1M6 38v1M7 24v1M7 27v1M8 7v1M8 9v1M8 19v1M8 22v4M8 27v1M8 29v1M9 19v1M9 22v2M9 25v1M9 27v1M10 10v1M10 13v1M10 18v2M10 25v1M10 28v2M10 32v2M11 7v1M11 17v1M11 23v1M11 26v1M11 30v1M11 32v2M11 38v2M12 20v3M12 30v1M12 35v1M13 7v2M13 14v3M13 18v1M13 20v1M13 23v1M13 26v2M13 30v2M14 10v3M14 19v1M14 22v1M14 25v2M14 28v3M15 13v1M15 15v1M15 20v1M15 23v1M15 27v1M16 19v2M16 25v2M17 9v1M17 15v1M17 19v3M17 24v1M17 26v4M17 31v4M17 37v1M18 11v2M18 24v4M18 33v3M19 26v1M19 28v1M20 9v1M20 14v1M20 22v3M20 29v1M20 31v1M20 33v1M21 21v1M21 23v1M21 29v1M22 10v2M22 18v1M22 21v3M22 26v1M22 29v2M22 42v1M23 10v1M23 14v2M23 19v1M23 25v3M23 35v1M24 9v1M24 15v3M24 20v1M24 22v1M24 25v1M24 31v1M25 7v1M25 15v1M25 18v1M25 23v1M25 27v1M25 37v1M28 20v2M28 23v3M29 19v3M29 24v2M29 31v1M30 7v1M30 20v2M30 24v1M30 26v4M30 31v1M30 33v2M31 21v2M31 32v2M31 35v1M32 19v2M32 22v2M32 32v1M32 34v2M33 20v6M33 30v2M34 20v1M34 23v2M34 26v1M34 28v5M34 83v1M35 16v1M35 21v1M35 25v2M35 28v1M35 31v3M36 17v2M36 21v1M36 23v4M36 28v1M36 30v3M36 34v1M36 37v1M37 5v1M37 12v1M37 23v2M37 28v5M38 9v1M38 15v1M38 19v1M38 27v4M38 32v1M38 37v1M39 16v2M39 36v1M40 23v1M40 27v1M41 7v5M41 15v1M41 21v2M41 26v2M41 30v1M41 42v1M41 49v2M41 61v1M41 65v1M41 68v2M41 79v2M42 8v1M42 24v1M42 26v2M42 34v2M42 40v2M42 45v2M42 50v1M42 62v1M42 68v3M42 77v1M43 21v2M43 25v1M43 28v1M43 31v2M43 38v1M43 40v1M43 43v2M43 53v2M43 69v1M43 75v1M43 77v2M43 81v1M44 54v3M44 68v1M44 70v1M44 82v1M45 69v1M46 57v1M46 60v4M46 70v1M47 55v1M47 70v1M47 83v1M48 61v1M48 65v1M49 21v2M49 25v3M49 29v2M49 38v1M49 40v1M49 42v1M49 50v1M50 12v1M50 17v1M50 19v1M50 21v1M50 23v2M50 26v1M50 60v1M50 64v2M51 7v3M51 17v1M51 20v1M51 23v1M51 26v1M51 28v3M51 32v1M51 51v1M51 64v1M52 16v2M52 22v1M52 24v2M52 27v1M52 30v2M52 33v3M52 39v2M52 43v2M52 52v3M52 60v3M53 46v2M53 71v1M53 80v3M54 49v4M54 58v1M54 66v3M54 70v1M55 49v1M55 51v1M55 72v1M55 78v1M56 43v3M56 47v1M56 74v2M57 44v8M57 79v3M58 45v1M58 48v3M58 52v3M58 57v2M58 61v2M58 69v1M58 79v1M59 44v1M59 49v1M60 47v3M60 75v2M62 44v1M63 47v6M63 55v1M63 62v1M63 67v1M63 74v2M63 80v1M64 29v1M64 32v1M64 34v2M64 39v1M65 12v2M65 20v2M65 26v1M65 29v1M65 35v1M65 39v1M65 56v1M65 58v1M65 82v1M66 5v1M66 11v3M66 18v1M66 21v7M66 31v4M66 39v1M67 18v1M67 20v1M67 23v2M67 28v1M67 32v4M67 39v1M67 58v1M67 63v2M67 83v1M68 12v2M68 21v1M68 27v2M68 35v1M68 39v1M68 57v4M68 83v1M69 5v1M69 18v1M69 21v2M69 27v1M69 38v2M69 65v1M70 21v1M70 23v3M70 31v1M70 39v1M70 42v1M70 47v2M70 55v2M70 64v1M71 14v1M71 18v1M71 22v1M71 25v2M71 35v1M71 39v1M71 50v1M71 63v3M72 12v1M72 15v1M72 22v1M72 24v5M72 32v2M72 40v1M72 42v1M72 50v1M72 54v1M72 56v2M72 60v1M73 18v1M73 22v1M73 38v1M73 42v2M73 54v2M73 59v1M73 62v2M73 65v1M74 18v1M74 26v1M74 29v1M74 68v1M75 26v3M75 30v1M75 40v1M75 69v1M75 71v1M76 16v3M76 22v1M76 29v1M76 31v1M76 33v2M76 36v2M76 40v1M76 51v1M76 62v5M76 72v2M77 23v1M77 27v4M77 33v2M77 83v1M78 22v4M78 27v4M78 32v4M78 83v1M79 21v1M79 24v4M79 29v1M79 37v1M80 21v2M80 24v1M80 37v1M81 13v2M81 22v2M81 25v1M81 31v4M82 0v1M82 21v2M82 25v1M82 31v1M82 33v2M82 37v1M83 11v1M83 21v2M83 24v2M83 27v1M83 31v2M84 22v1M84 25v6M84 37v3M85 23v1M85 25v1M85 28v4M85 34v1M86 26v1M86 29v3M86 34v1M87 23v2M87 26v2M87 29v2M87 32v6M88 16v3M88 20v1M88 22v2M88 32v2M88 35v1M88 37v1M88 81v1M89 14v1M89 16v3M89 22v2M89 28v1M89 31v1M89 70v1M90 6v1M90 18v1M90 20v1M90 22v1M90 24v1M90 28v2M90 31v1M90 76v5M91 3v1M91 9v1M91 14v2M91 17v2M91 20v1M91 23v1M92 13v1M92 21v2M92 25v1M92 31v2M92 38v1M92 47v1M93 2v1M93 7v1M93 16v3M93 20v2M93 25v1M93 27v1M93 30v1M95 26v6M95 33v3M95 41v1M95 47v3M95 57v2M96 23v2M96 29v2M96 41v2M96 49v1M96 52v1M97 22v2M97 25v2M97 32v1M97 34v1M97 40v2M97 48v1M97 51v1M98 9v2M98 18v1M98 21v3M98 28v1M98 33v1M98 37v1M98 40v2M98 52v1M99 5v1M99 12v1M99 19v1M99 21v1M99 24v1M99 27v1M99 32v3M99 83v1M100 9v2M100 14v1M100 20v2M100 26v1M100 30v2M100 35v1M100 40v1M100 42v1M101 21v1M101 25v2M101 28v2M101 31v1M101 34v2M101 39v3M102 18v1M102 22v3M102 28v2M102 33v2M103 8v1M103 10v1M103 14v1M103 19v3M103 24v1M103 35v1M103 55v1M103 59v1M104 19v1M104 21v1M104 24v4M104 36v2M104 42v2M105 15v1M105 19v1M105 21v1M105 24v7M105 32v1M105 35v1M105 42v2M105 53v2M105 60v1M106 11v1M106 25v2M106 31v2M106 36v3M106 44v1M106 53v2M107 15v2M107 20v3M107 28v2M107 31v1M107 37v1M107 83v1M108 15v1M108 21v5M108 27v4M108 55v1M108 58v1M109 21v4M109 26v3M109 33v1M109 61v1M109 82v1M110 16v1M110 22v3M110 28v1M110 30v3M110 64v1M110 81v1M111 20v1M111 23v2M111 29v1M111 62v1M111 83v1M112 14v1M112 16v1M112 20v3M112 24v1M112 27v1M112 30v1M112 32v2M112 75v1M112 77v1M112 83v1M113 10v1M113 13v1M113 17v2M113 21v1M113 29v1M113 37v1M113 39v1M113 63v1M113 67v3M113 74v1M113 77v1M113 82v1M114 11v1M114 16v1M114 23v4M114 29v3M114 64v2M114 72v1M115 19v1M115 22v1M115 24v6M115 31v1M115 35v2M115 65v2M115 68v3M116 7v2M116 17v2M116 20v1M116 23v2M116 26v4M116 32v2M116 35v1M116 37v1M116 72v1M116 78v1M117 15v1M117 19v2M117 23v1M117 26v1M117 30v1M118 21v3M118 25v1M118 29v3M118 35v2M119 25v1M119 28v4M120 19v1M120 28v2M120 35v2M121 11v2M121 17v1M121 20v1M121 22v3M121 30v1M121 33v1M122 26v3M123 11v1M123 14v1M123 22v1M123 24v1M123 28v2M123 32v1M124 15v1M124 18v1M124 22v1M124 25v2M125 17v2M125 20v1M125 26v2M125 32v2M125 36v1M126 16v2M126 21v1M126 24v1M126 31v1M126 33v1M126 38v1M127 6v1M127 9v3M127 20v3M127 25v1M127 33v1M128 11v1M128 19v1M128 21v5M128 29v4M129 22v1M129 25v1M129 33v1M130 18v2M130 22v1M130 26v4M131 18v3M131 22v1M132 17v2M132 23v1M132 26v1M132 29v1M132 36v1M133 10v2M133 15v3M133 22v2M133 31v2M134 2v1M134 18v1M134 20v2M134 26v1M134 33v3M135 5v1M135 12v1M135 22v1M135 28v1M135 31v1M136 2v1M136 12v1M136 19v4M136 26v1M136 28v1M136 39v1M137 17v4M137 22v1M137 24v3M137 29v3M137 34v2M138 8v2M138 23v1M138 26v1M138 28v1M138 31v1M138 44v1M139 11v2M139 14v2M139 24v1M139 26v1M140 17v1M140 25v1M140 27v2M141 18v1M141 24v2M141 27v2M142 14v2M142 20v1M142 22v1M142 29v2M142 34v2M143 17v1M143 20v1M143 23v1M143 25v1M143 29v1M143 32v4M144 9v3M144 16v1M144 23v2M144 26v1M144 29v1M144 31v1M145 14v2M145 18v1M145 24v2M145 28v3M146 13v4M146 19v2M146 24v1M146 33v2M147 5v1M147 15v2M147 22v2M148 14v3M148 20v1M148 22v1M148 24v1M148 28v1M149 11v1M149 17v1M149 19v1M149 22v1M149 27v2M149 31v2M150 4v1M150 25v1M150 28v4M151 14v4M151 21v2M152 16v1M152 20v2M152 31v1M152 33v1M153 22v4M153 29v2M154 23v2M154 27v1M154 40v3M155 23v1M155 25v1M155 31v1M156 10v1M156 22v1M156 31v1"/>
<path stroke="#25858e" d="M0 1v1M0 5v1M0 8v1M0 11v2M1 6v1M1 10v1M1 13v1M2 3v2M2 6v6M2 14v1M2 17v2M3 6v3M3 12v1M3 20v1M4 1v1M4 9v2M4 12v1M4 14v2M5 3v4M5 10v1M5 15v2M5 21v1M6 3v1M6 7v2M6 12v2M6 15v1M7 0v2M7 7v1M7 15v5M8 1v2M8 4v1M8 10v3M8 14v1M8 18v1M9 1v1M9 5v1M9 7v3M9 13v1M9 16v3M10 1v2M10 5v1M10 11v1M10 14v1M10 16v1M10 21v1M11 2v4M11 9v4M12 1v1M12 5v1M12 7v1M12 13v1M12 18v1M13 0v4M13 6v1M13 13v1M14 1v2M14 14v1M14 17v1M15 6v3M15 11v2M15 18v2M16 10v1M16 13v1M16 15v1M16 17v1M16 23v1M17 1v2M17 6v1M17 8v1M17 11v1M17 13v1M17 17v1M18 6v1M18 14v1M18 17v1M18 23v1M19 3v1M19 8v1M19 11v1M19 14v1M19 16v1M19 22v1M19 25v1M20 0v1M20 3v1M20 7v2M20 10v1M20 16v2M21 1v1M21 3v3M21 8v7M21 19v1M21 25v2M22 5v2M22 15v2M22 19v1M22 25v1M23 5v2M23 9v1M23 12v1M23 17v1M23 21v1M24 3v2M24 7v2M24 12v1M24 19v1M25 2v2M25 5v1M25 8v1M25 10v1M25 13v2M25 19v2M26 64v2M26 68v1M26 71v1M27 1v2M27 22v1M27 25v1M28 1v2M28 9v4M28 29v1M28 35v1M29 3v1M29 8v2M29 11v1M29 13v1M29 18v1M29 28v1M29 32v1M29 83v1M30 10v2M30 36v1M31 2v1M31 12v1M31 16v1M31 18v1M31 25v1M31 27v2M31 38v1M31 83v1M32 6v2M32 9v1M32 11v1M32 15v3M32 25v1M32 28v1M32 30v1M32 36v1M33 4v2M33 8v1M33 11v5M33 26v1M33 38v1M34 2v1M34 6v3M34 11v3M34 15v1M34 17v1M35 2v1M35 12v3M36 0v1M36 2v1M36 5v2M36 9v1M36 11v4M36 20v1M36 29v1M36 38v1M37 2v2M37 6v1M37 9v2M37 13v1M37 15v1M37 17v3M37 21v1M37 38v1M37 83v1M38 8v1M38 16v2M38 23v2M38 31v1M38 83v1M39 0v2M39 7v1M39 10v2M39 21v2M39 24v1M40 0v3M40 4v3M40 9v3M40 14v2M40 18v2M40 21v2M40 38v1M41 4v2M41 13v1M41 18v1M41 46v1M41 58v2M41 71v1M41 78v1M42 0v2M42 11v1M42 13v1M42 15v4M42 60v1M42 76v1M42 79v3M43 1v1M43 3v1M43 7v3M43 12v1M43 14v1M43 17v1M43 41v1M43 47v1M43 49v1M43 51v2M44 52v1M44 73v1M44 78v2M45 52v1M45 71v1M46 55v1M46 82v1M47 67v1M47 71v2M48 49v2M48 67v3M48 83v1M49 1v1M49 3v3M49 9v3M49 16v1M49 52v1M49 65v3M50 2v2M50 5v5M50 52v1M50 59v1M50 68v1M51 3v1M51 11v1M51 13v4M51 59v1M51 68v1M52 2v5M52 8v2M52 12v1M52 19v2M52 55v1M52 64v1M52 67v2M53 4v2M53 44v2M53 72v4M54 0v2M54 48v1M54 72v1M54 78v1M55 3v1M55 42v1M55 74v4M57 43v1M57 52v1M58 74v1M59 43v1M60 43v1M61 3v1M63 13v2M63 37v1M63 61v1M63 68v1M63 76v1M63 78v1M64 3v4M64 9v4M64 16v1M64 21v1M64 25v2M64 28v1M64 40v1M64 42v1M64 45v1M64 50v5M64 59v1M65 1v2M65 4v2M65 9v2M65 16v2M65 43v3M65 59v1M65 63v2M66 1v3M66 6v5M66 29v1M66 40v2M66 48v1M66 57v2M66 63v2M67 2v1M67 5v3M67 14v3M67 22v1M67 40v1M67 56v1M67 60v1M68 3v1M68 6v4M68 15v1M68 17v1M68 22v1M68 24v3M68 46v1M68 49v1M68 51v1M69 7v7M69 24v2M69 41v3M69 45v2M69 57v2M69 82v1M70 0v1M70 9v2M70 13v1M70 40v2M70 57v4M71 1v5M71 7v2M71 16v2M71 20v2M71 24v1M71 40v1M71 59v4M71 66v1M72 2v3M72 8v1M72 10v1M72 62v1M72 66v1M73 1v1M73 4v3M73 11v2M73 14v1M73 16v1M73 23v3M73 56v1M73 83v1M74 0v1M74 7v1M74 10v3M74 14v3M74 21v1M74 69v1M75 7v2M75 14v1M75 19v3M75 82v1M76 1v2M76 6v1M76 8v3M76 12v1M76 14v2M76 67v3M76 71v1M77 2v4M77 9v1M77 12v3M77 18v3M77 35v1M78 0v3M78 6v2M78 20v1M78 37v2M79 3v1M79 5v1M79 10v1M79 19v1M80 2v2M80 7v5M80 14v1M80 17v1M80 19v1M81 8v4M81 17v1M81 20v1M81 39v1M82 1v1M82 4v2M82 11v2M82 17v1M83 4v3M83 9v1M83 12v1M83 14v1M83 17v1M83 19v1M83 39v1M84 2v1M84 11v1M84 16v3M84 40v1M85 6v3M85 11v1M85 13v1M85 15v1M85 17v3M86 1v2M86 14v1M86 16v1M86 19v1M86 21v2M87 3v2M87 6v1M87 8v2M87 13v1M87 21v1M87 45v1M88 5v2M88 8v3M88 79v1M89 0v1M89 5v1M89 9v1M89 72v1M90 1v1M90 5v1M90 7v1M90 9v2M90 13v1M90 15v1M90 17v1M91 2v1M91 4v1M91 8v1M91 12v1M92 3v1M92 7v1M92 10v3M92 15v1M92 17v1M93 0v1M93 5v1M93 9v2M93 12v1M93 14v2M94 82v1M95 5v1M95 7v1M95 14v2M95 18v1M95 20v2M95 38v1M95 51v1M95 55v1M95 60v1M96 1v4M96 6v3M96 13v6M96 20v1M96 57v2M96 83v1M97 1v1M97 5v2M97 8v1M97 10v2M97 17v1M97 52v2M98 4v1M98 6v2M98 12v2M98 15v1M98 17v1M98 53v1M99 2v2M99 8v3M99 15v1M99 18v1M99 23v1M100 8v1M100 16v1M100 23v1M101 0v2M101 12v1M101 14v1M101 19v1M101 23v2M101 36v1M102 2v1M102 10v1M102 12v1M102 14v1M102 20v2M103 7v1M103 17v1M104 3v2M104 7v3M104 14v1M104 62v1M105 0v1M105 5v4M105 10v1M105 13v1M105 22v1M105 36v2M105 63v1M106 1v1M106 8v3M106 13v10M106 62v1M107 1v1M107 5v1M107 8v2M107 12v1M107 19v1M107 24v2M107 27v1M107 62v1M108 2v2M108 10v2M108 16v3M108 59v1M108 79v1M109 2v5M109 9v1M109 11v1M109 13v1M109 17v2M109 30v3M109 63v2M109 80v2M110 0v1M110 13v2M110 18v2M110 21v1M110 67v1M110 80v1M111 3v2M111 8v1M111 16v1M111 65v3M112 0v1M112 5v1M112 9v1M112 11v2M112 17v2M112 28v1M112 64v1M112 67v1M112 78v5M113 0v2M113 6v1M113 8v1M113 15v1M113 64v1M113 66v1M113 72v2M114 5v2M114 9v1M114 12v2M114 18v3M115 3v1M115 5v1M115 7v2M115 14v2M116 2v3M116 9v1M116 12v3M116 69v2M117 5v1M117 7v1M117 10v2M117 13v1M118 4v3M118 8v1M118 10v4M118 15v1M118 20v1M119 2v2M119 16v6M119 23v1M120 4v1M120 6v1M120 8v2M120 11v1M120 14v1M120 16v2M120 21v2M121 5v1M121 16v1M122 4v1M122 8v1M122 11v1M122 14v1M122 16v2M122 23v2M123 2v1M123 4v2M123 8v2M123 16v2M123 19v2M124 5v1M124 8v4M124 20v1M125 1v1M125 10v1M125 12v1M125 21v1M125 24v2M126 0v1M126 3v2M126 6v1M126 8v3M126 12v3M126 18v1M126 23v1M127 4v2M127 14v1M127 24v1M128 3v3M128 7v4M128 13v1M129 1v1M129 8v1M129 11v1M129 13v1M129 15v1M129 20v2M129 24v1M130 3v1M130 8v1M130 12v2M130 16v1M130 24v1M131 2v1M131 7v1M131 9v1M131 12v2M131 16v1M131 25v1M131 28v1M132 2v3M132 7v2M132 12v1M132 14v1M132 22v1M132 24v2M133 4v1M133 14v1M134 0v1M134 4v1M134 9v1M134 11v1M134 13v1M134 16v1M135 1v4M135 7v1M135 10v1M135 13v3M135 17v3M136 1v1M136 4v2M136 9v1M136 11v1M136 15v1M136 29v1M137 3v4M137 8v1M137 11v3M138 0v5M138 6v1M138 11v5M138 18v1M139 7v1M139 17v1M139 21v1M139 23v1M140 11v1M140 15v2M140 19v4M140 29v1M141 1v1M141 6v1M141 9v3M142 3v1M142 5v1M142 7v2M142 12v1M142 17v2M143 0v1M143 3v4M143 8v3M143 12v1M143 14v1M143 16v1M144 0v2M144 3v2M144 7v1M144 12v1M144 17v1M145 2v1M145 4v1M145 7v2M145 10v1M145 12v2M146 5v1M146 7v1M146 25v1M146 27v1M147 1v2M147 4v1M147 10v1M147 12v1M147 25v2M148 2v1M148 4v1M148 6v2M148 10v4M148 17v3M148 27v1M149 0v4M149 6v3M149 14v1M150 3v1M150 5v1M150 10v3M150 17v2M150 20v1M150 22v1M151 0v1M151 5v1M151 7v2M151 10v2M151 13v1M152 6v2M152 14v1M152 23v1M153 3v1M153 7v1M153 13v1M154 5v2M154 8v1M154 14v2M154 17v1M154 19v1M154 26v1M155 0v2M155 4v1M155 8v1M155 11v2M155 14v2M155 17v1M155 19v2M156 2v3M156 13v1M156 16v2M156 19v1M156 24v1M156 36v1"/>
<path stroke="#238a8d" d="M0 2v1M0 4v1M0 6v1M1 2v3M1 7v1M2 0v1M2 2v1M2 5v1M2 15v2M3 1v5M4 3v4M4 11v1M5 0v3M5 7v2M6 1v2M6 14v1M7 5v2M7 12v3M7 20v1M8 0v1M8 5v1M8 13v1M8 15v2M9 0v1M9 2v3M10 3v2M10 15v1M11 0v2M12 0v1M12 3v2M12 6v1M12 10v3M13 12v1M14 3v1M14 6v1M15 1v1M15 5v1M16 0v1M16 2v3M16 6v2M16 11v2M16 14v1M16 16v1M16 22v1M17 0v1M17 4v1M17 7v1M17 12v1M18 4v1M18 7v1M18 13v1M18 18v2M19 0v3M19 6v2M19 13v1M19 17v1M20 4v1M20 11v1M21 2v1M21 15v1M21 20v1M22 0v3M22 4v1M22 7v3M23 1v4M24 0v3M24 5v2M24 11v1M25 0v2M25 9v1M25 22v1M26 53v6M26 63v1M26 66v2M27 0v1M27 5v4M27 21v1M27 23v1M27 26v1M27 35v1M28 0v1M28 3v4M28 13v1M28 15v3M28 30v1M28 34v1M28 36v1M29 2v1M29 4v1M29 6v1M29 27v1M29 35v1M30 1v3M30 6v1M30 9v1M30 13v1M30 18v1M31 1v1M31 3v3M31 8v4M31 13v3M31 26v1M31 39v1M32 0v6M32 10v1M32 12v3M32 26v2M33 3v1M33 9v1M33 16v2M34 0v2M34 3v1M34 16v1M35 1v1M35 3v1M35 7v1M36 7v1M37 1v1M37 8v1M37 14v1M38 0v1M38 7v1M39 4v1M40 20v1M40 51v2M41 19v1M41 56v2M41 77v1M42 2v2M42 14v1M42 73v1M43 0v1M43 4v2M43 10v2M43 15v2M43 50v1M44 51v1M44 72v1M44 74v1M45 51v1M45 82v1M46 72v1M47 0v1M47 46v2M47 49v1M47 54v1M47 73v1M48 45v4M48 51v2M48 70v1M49 2v1M49 6v1M49 8v1M49 12v2M49 15v1M49 68v1M50 1v1M51 0v3M51 12v1M51 53v1M52 0v1M52 7v1M52 10v1M52 65v2M53 1v3M53 6v1M53 43v1M53 76v1M53 78v1M54 2v1M54 46v2M54 81v2M55 2v1M55 4v1M55 41v1M55 43v1M55 46v1M56 3v1M56 40v1M57 42v1M57 74v1M59 0v2M60 0v1M60 42v1M61 1v2M61 4v1M61 41v1M62 42v1M63 0v1M63 3v2M63 6v1M63 12v1M63 15v3M63 38v1M63 43v1M63 58v3M63 69v3M63 77v1M64 1v2M64 7v2M64 13v3M64 27v1M64 41v1M64 46v4M64 81v1M65 3v1M65 6v3M65 15v1M65 41v2M65 46v1M65 50v1M65 54v1M65 60v1M65 65v2M66 42v1M66 46v2M66 49v1M66 51v2M66 59v1M66 65v1M66 82v1M67 1v1M67 3v2M67 41v1M67 48v2M67 66v1M68 0v1M68 4v1M68 23v1M68 42v4M68 47v2M68 50v1M68 67v1M69 0v2M69 3v2M69 47v1M69 49v2M69 59v1M69 67v1M70 1v1M70 3v1M70 8v1M70 11v2M70 14v2M70 18v2M71 0v1M71 41v1M72 1v1M72 9v1M73 0v1M73 3v1M73 10v1M73 15v1M73 57v1M73 67v1M74 3v2M75 1v1M75 5v1M75 73v1M76 5v1M76 13v1M76 70v1M76 75v1M76 81v1M77 0v2M77 7v2M77 15v1M78 5v1M78 8v2M78 13v2M78 17v2M78 39v1M79 4v1M79 8v1M79 11v3M79 17v2M79 39v1M80 1v1M80 12v1M80 15v1M80 18v1M80 82v1M81 0v2M81 3v5M81 18v2M82 2v1M82 6v1M82 8v1M82 13v2M82 39v1M83 0v2M83 3v1M83 7v2M83 18v1M84 3v2M84 7v3M84 19v2M84 41v1M84 82v1M85 0v5M85 9v2M85 12v1M85 16v1M85 39v1M86 0v1M86 5v2M86 8v3M86 12v1M86 15v1M86 18v1M86 37v1M87 5v1M87 10v2M87 14v1M87 39v1M87 43v2M87 59v1M87 81v1M88 0v2M88 73v3M88 78v1M89 1v2M89 7v2M89 73v3M90 0v1M90 4v1M90 8v1M90 11v2M90 16v1M91 1v1M91 7v1M91 11v1M92 2v1M92 4v3M92 8v1M92 16v1M93 6v1M93 11v1M95 2v1M95 4v1M95 11v3M95 16v1M95 53v2M95 82v1M96 0v1M96 9v2M96 12v1M96 54v1M96 59v1M97 0v1M97 4v1M97 7v1M97 9v1M97 12v1M97 54v1M98 0v1M98 2v1M98 5v1M98 16v1M98 54v2M99 1v1M99 4v1M99 7v1M99 14v1M100 0v2M100 5v3M100 24v1M101 2v2M101 10v2M101 16v1M102 0v2M102 3v6M102 15v3M102 82v1M103 0v1M103 3v3M103 16v1M103 61v1M104 0v1M104 5v2M104 10v4M104 15v1M104 80v1M105 1v1M105 4v1M105 9v1M105 83v1M106 2v1M106 4v1M106 6v2M106 63v1M106 83v1M107 0v1M107 4v1M107 6v2M107 10v1M107 13v1M108 0v1M108 5v2M108 8v2M108 12v2M108 19v1M109 7v2M109 12v1M109 14v1M109 65v1M110 1v6M110 76v4M111 0v2M111 6v2M111 15v1M111 68v1M111 80v3M112 1v2M112 6v2M112 66v1M112 68v1M112 74v1M113 2v3M113 65v1M114 0v1M114 3v2M114 7v2M115 0v3M115 9v5M116 1v1M117 1v1M117 6v1M117 9v1M118 0v1M118 3v1M118 7v1M118 16v1M118 18v2M119 4v6M119 12v1M120 0v2M120 3v1M120 5v1M120 15v1M121 1v3M121 7v2M122 2v1M122 5v1M122 7v1M123 3v1M124 0v3M124 6v1M124 12v3M125 2v1M125 5v5M125 23v1M126 2v1M126 5v1M127 3v1M128 1v2M128 6v1M128 15v3M129 2v5M129 10v1M129 12v1M129 16v3M130 0v3M130 4v1M130 7v1M131 0v2M131 5v2M132 0v1M132 5v2M132 11v1M132 15v1M132 21v1M133 3v1M133 5v1M133 7v3M134 5v2M134 14v2M135 0v1M135 9v1M136 0v1M136 8v1M136 16v1M137 1v2M137 7v1M139 0v4M139 5v1M139 8v1M139 22v1M140 1v5M140 10v1M141 2v1M141 7v2M141 13v2M142 0v3M142 6v1M142 9v1M142 11v1M143 13v1M144 5v2M144 13v1M145 1v1M145 3v1M145 5v2M145 11v1M146 0v3M146 6v1M146 11v1M146 26v1M147 3v1M147 7v2M147 13v1M148 0v1M148 5v1M150 13v1M150 21v1M150 23v1M151 1v4M151 6v1M151 9v1M151 12v1M152 0v4M152 5v1M152 8v1M152 12v2M152 24v2M153 4v1M153 10v1M153 18v1M154 0v4M154 7v1M155 5v2M155 18v1M156 5v2M156 9v1M156 12v1M156 18v1"/>
<path stroke="#218e8d" d="M0 0v1M0 3v1M0 7v1M1 1v1M2 1v1M4 2v1M6 0v1M7 2v3M10 0v1M13 4v2M13 10v2M14 0v1M14 4v2M15 0v1M15 2v1M15 4v1M16 1v1M16 5v1M18 2v2M20 1v2M20 5v2M22 3v1M26 17v1M26 28v2M26 38v2M26 43v2M26 46v7M26 59v4M27 3v2M27 11v1M27 19v2M27 24v1M27 27v4M27 34v1M27 36v1M28 7v2M28 14v1M28 37v1M29 1v1M29 5v1M29 36v1M29 38v2M30 0v1M30 4v2M30 17v1M30 37v3M31 0v1M32 37v2M33 0v3M34 4v2M35 0v1M35 5v2M36 3v2M37 7v1M38 4v1M38 38v1M39 2v2M39 5v2M40 42v1M40 53v1M40 81v1M41 0v4M41 72v1M41 76v1M42 74v2M44 44v1M44 48v3M44 75v3M45 50v1M45 72v1M45 74v1M45 81v1M46 46v3M46 54v1M46 81v1M47 2v3M47 45v1M47 48v1M47 50v1M47 53v1M47 74v1M47 82v1M48 44v1M49 0v1M49 14v1M49 53v1M49 58v1M49 83v1M50 53v1M51 82v1M52 1v1M52 69v1M52 82v1M53 0v1M53 42v1M53 77v1M54 3v2M54 73v2M54 77v1M55 0v2M55 5v2M55 40v1M55 45v1M56 2v1M56 4v1M57 75v1M57 77v1M58 3v1M58 43v1M58 75v1M58 77v1M59 2v3M59 42v1M60 1v1M61 0v1M61 5v1M63 1v2M63 5v1M63 7v1M63 10v2M63 18v1M63 36v1M63 42v1M64 60v1M64 64v1M65 0v1M65 47v3M65 61v2M65 81v1M66 0v1M66 43v3M66 50v1M66 53v2M66 56v1M66 60v3M67 0v1M67 42v1M67 47v1M67 50v4M67 55v1M68 1v2M69 2v1M69 48v1M70 2v1M70 67v1M70 82v1M71 83v1M72 0v1M73 7v3M74 1v2M74 8v2M74 82v1M75 0v1M75 2v3M75 81v1M76 0v1M76 3v2M76 76v1M76 79v2M77 6v1M77 36v1M77 40v2M78 10v1M78 12v1M78 15v2M79 0v3M79 16v1M80 40v1M81 2v1M82 3v1M82 7v1M83 2v1M84 5v2M84 12v2M84 42v1M86 7v1M86 11v1M87 0v3M87 42v1M87 46v1M87 49v2M87 58v1M87 60v1M88 2v3M88 71v2M88 76v2M89 82v1M90 2v2M91 5v2M92 0v2M92 9v1M95 1v1M95 3v1M95 9v2M95 17v1M95 52v1M95 61v3M96 11v1M96 55v2M97 58v1M97 83v1M98 1v1M98 56v2M99 0v1M99 59v3M100 2v3M100 59v1M101 4v1M101 6v4M101 15v1M101 58v1M102 9v1M102 59v1M103 1v2M103 6v1M103 62v1M104 1v2M104 81v1M105 64v1M107 2v2M107 63v1M108 1v1M108 4v1M108 60v1M108 78v1M109 0v2M109 79v1M110 68v1M111 75v5M112 8v1M112 65v1M112 69v5M113 5v1M113 7v1M117 0v1M117 3v1M118 1v2M118 17v1M119 1v1M120 2v1M121 0v1M122 0v1M122 6v1M123 0v2M126 1v1M127 0v3M128 0v1M129 0v1M129 7v1M130 5v2M131 3v2M132 1v1M132 16v1M133 0v3M133 6v1M134 7v2M135 8v1M137 0v1M139 4v1M140 0v1M141 0v1M148 1v1M150 0v3M152 4v1M153 17v1M154 4v1M155 2v2M156 7v1"/>
<path stroke="#20928c" d="M1 0v1M15 3v1M17 3v1M18 1v1M23 0v1M26 4v1M26 7v1M26 16v1M26 18v1M26 20v1M26 23v5M26 31v2M26 36v2M26 40v3M26 45v1M27 9v2M27 12v3M27 16v3M27 37v1M28 31v1M28 33v1M28 38v1M29 14v1M29 17v1M29 37v1M32 43v1M34 39v1M35 4v1M37 0v1M38 1v2M40 39v1M40 41v1M40 47v1M40 50v1M40 80v1M41 75v1M44 0v5M44 43v1M44 45v3M45 45v5M45 73v1M45 75v1M45 78v3M46 45v1M46 49v2M46 53v1M46 73v3M46 80v1M47 1v1M47 5v2M47 51v2M47 76v1M48 0v1M48 71v1M50 82v1M51 54v1M51 69v1M52 56v1M52 58v1M52 81v1M53 7v2M53 41v1M54 5v1M54 45v1M54 75v2M55 7v1M55 44v1M56 1v1M56 5v1M57 41v1M57 76v1M58 2v1M58 4v1M58 76v1M59 5v1M59 40v2M60 2v3M60 41v1M61 6v1M62 0v1M62 41v1M63 8v2M63 19v6M63 35v1M63 39v1M64 0v1M64 61v3M64 65v1M65 51v3M65 67v1M66 55v1M66 66v1M67 43v4M67 54v1M72 67v1M73 68v1M74 70v1M75 74v1M76 77v2M77 37v3M77 42v1M78 11v1M78 40v2M79 14v2M80 41v3M80 47v1M80 80v2M81 82v1M82 40v1M82 43v1M83 40v3M84 43v4M85 40v3M86 3v2M86 82v1M87 40v2M87 47v2M87 51v3M87 61v1M89 76v1M89 79v1M91 0v1M94 55v1M94 64v2M95 0v1M95 8v1M95 81v1M96 60v1M96 62v1M97 55v1M97 57v1M97 59v1M98 58v2M98 83v1M101 5v1M103 82v1M104 63v1M104 82v1M106 3v1M108 61v1M108 77v1M110 75v1M111 69v1M117 2v1M119 0v1M122 1v1M145 0v1M156 8v1"/>
<path stroke="#1f968b" d="M18 0v1M26 0v1M26 3v1M26 5v2M26 8v4M26 14v2M26 19v1M26 21v2M26 30v1M26 33v3M27 15v1M27 31v1M27 33v1M28 39v1M29 16v1M29 40v1M29 82v1M30 40v1M30 83v1M31 40v1M31 44v1M32 39v1M32 44v2M32 82v1M33 39v1M33 43v1M33 82v1M34 48v1M34 82v1M35 48v1M36 50v1M38 3v1M38 82v1M39 38v1M39 52v1M39 82v1M40 43v1M40 46v1M40 48v2M40 54v1M41 73v2M44 5v2M44 42v1M45 0v3M45 44v1M45 76v2M46 0v1M46 3v1M46 51v2M46 76v2M46 79v1M47 7v1M47 75v1M47 81v1M48 1v1M48 4v2M48 43v1M48 72v2M48 81v1M49 69v1M50 0v1M50 58v1M50 69v1M52 57v1M53 9v1M54 44v1M55 39v1M56 6v1M58 0v2M58 41v2M59 9v1M59 39v1M60 5v2M61 7v1M61 40v1M62 1v4M62 40v1M63 25v1M63 28v3M63 40v2M64 66v1M64 80v1M65 80v1M66 67v1M67 67v1M67 82v1M68 68v1M68 82v1M69 81v1M75 75v1M75 77v1M77 43v1M77 46v3M77 82v1M78 42v1M78 46v2M79 40v1M79 44v2M80 0v1M80 45v2M80 48v1M80 79v1M81 40v1M82 42v1M82 44v1M82 82v1M83 43v1M83 46v2M83 82v1M84 47v2M84 79v3M85 43v1M86 38v1M87 80v1M89 77v2M89 80v1M94 4v1M94 41v1M94 52v1M94 56v1M94 59v5M94 81v1M96 61v1M96 63v1M97 56v1M98 60v1M99 62v1M100 60v3M101 59v1M102 60v1M102 62v1M102 81v1M103 81v1M104 79v1M107 64v1M107 78v5M108 72v1M108 74v3M109 66v1M109 73v1M109 77v2M110 72v3M111 71v4"/>
<path stroke="#1e9b8a" d="M26 1v2M26 12v2M27 38v1M28 32v1M28 40v1M29 0v1M29 15v1M30 14v1M30 44v2M31 43v1M31 45v1M32 42v1M32 48v2M33 44v1M33 48v1M35 39v1M35 49v1M35 83v1M36 39v1M36 48v2M40 40v1M40 78v2M44 7v1M45 3v1M46 1v2M46 4v1M46 78v1M47 44v1M47 77v1M47 80v1M48 2v2M48 6v1M48 38v2M48 76v1M48 82v1M49 54v1M49 57v1M50 54v1M51 58v1M51 80v2M52 70v1M52 80v1M53 10v1M53 15v1M53 40v1M54 6v1M54 43v1M56 0v1M56 7v1M56 39v1M58 5v1M58 40v1M59 6v3M60 7v2M60 40v1M63 31v1M63 34v1M64 67v1M65 79v1M66 81v1M69 68v1M71 67v1M74 71v1M75 76v1M75 78v1M75 80v1M77 44v2M77 49v1M77 81v1M78 43v3M78 48v1M78 82v1M79 41v3M79 46v2M79 82v1M80 44v1M80 49v1M81 43v1M82 41v1M83 44v2M83 48v1M84 49v2M85 44v6M85 79v1M85 82v1M87 54v1M87 57v1M87 62v1M87 64v1M89 81v1M94 1v3M94 5v1M94 20v1M94 23v1M94 32v1M94 34v2M94 37v4M94 43v2M94 46v6M94 53v2M94 57v2M94 66v1M94 77v1M94 80v1M95 64v1M95 80v1M96 82v1M97 60v1M102 61v1M102 63v1M102 80v1M103 63v1M104 64v1M105 65v1M105 80v3M106 64v1M107 65v2M107 77v1M108 62v4M108 71v1M108 73v1M109 72v1M109 74v1M110 69v1M111 70v1"/>
<path stroke="#1fa088" d="M27 32v1M27 39v2M27 82v1M28 45v1M28 82v1M29 41v1M29 45v1M30 16v1M31 46v1M31 82v1M32 46v1M32 81v1M33 42v1M33 47v1M33 49v1M34 43v1M34 47v1M34 49v1M34 51v1M35 47v1M36 51v1M36 83v1M37 39v1M37 82v1M39 42v1M39 51v1M40 44v2M40 55v1M40 77v1M44 39v3M45 41v3M46 5v1M48 37v1M48 40v1M48 42v1M48 74v2M48 77v1M48 80v1M49 55v2M50 81v1M51 55v1M52 79v1M53 11v1M53 14v1M53 32v2M53 38v2M54 7v1M54 40v3M55 8v1M57 0v4M57 40v1M59 10v1M60 9v2M61 8v1M61 39v1M62 5v2M62 39v1M63 26v2M63 32v1M64 76v2M64 79v1M65 78v1M67 68v1M70 68v1M72 82v1M73 69v1M73 82v1M74 72v1M74 81v1M75 79v1M77 50v1M77 80v1M78 81v1M79 48v1M79 80v2M80 50v1M81 41v2M81 44v1M82 45v4M84 51v1M84 54v2M84 78v1M85 56v1M85 78v1M85 80v1M86 45v1M87 63v1M87 65v2M87 79v1M94 0v1M94 6v8M94 16v2M94 19v1M94 21v2M94 24v3M94 28v4M94 33v1M94 36v1M94 42v1M94 45v1M94 68v1M94 75v2M94 78v2M97 61v2M98 61v1M99 82v1M101 60v3M101 82v1M102 79v1M103 79v2M106 82v1M108 70v1M109 67v1M109 69v3M109 75v2M110 70v2"/>
<path stroke="#20a386" d="M27 44v6M28 41v1M28 44v1M28 46v5M29 44v1M30 41v1M30 43v1M30 46v1M30 48v1M31 41v2M31 47v2M32 40v2M32 47v1M32 50v1M32 78v3M33 45v1M33 50v2M33 81v1M34 42v1M34 50v1M34 52v1M35 50v2M36 47v1M36 52v1M38 81v1M39 47v2M39 53v1M40 56v2M40 76v1M44 8v1M44 38v1M46 44v1M47 8v1M47 43v1M47 78v2M48 7v1M48 31v2M48 41v1M48 79v1M49 70v1M49 81v2M50 79v1M51 79v1M53 12v2M53 16v1M53 20v2M53 34v1M53 36v2M54 39v1M57 4v1M58 6v1M58 39v1M59 38v1M61 9v1M63 33v1M64 75v1M64 78v1M65 68v1M65 77v1M66 68v1M66 77v4M68 69v1M70 81v1M71 82v1M72 68v1M74 73v1M77 51v1M78 49v1M79 49v1M79 79v1M80 51v1M80 78v1M81 81v1M83 49v1M84 52v2M84 59v2M84 77v1M85 50v1M85 55v1M85 81v1M86 39v1M86 44v1M86 46v1M86 48v1M86 81v1M87 55v2M87 67v2M94 14v1M94 18v1M94 27v1M94 67v1M94 69v6M95 79v1M96 81v1M98 62v1M100 63v1M100 82v1M101 63v1M102 64v1M102 78v1M104 65v1M105 66v2M105 79v1M106 80v2M107 67v2M107 76v1M108 66v1M108 69v1M109 68v1"/>
<path stroke="#22a884" d="M27 41v1M27 43v1M27 50v1M28 43v1M29 46v1M29 81v1M30 15v1M30 42v1M30 47v1M30 49v1M30 82v1M31 49v1M32 77v1M33 40v2M33 46v1M33 52v1M34 40v1M34 44v1M35 46v1M35 52v1M36 40v1M36 53v1M37 42v2M37 48v4M38 39v1M38 42v1M39 41v1M39 43v1M39 49v2M39 81v1M40 58v1M40 60v4M44 9v2M44 26v5M44 37v1M45 4v1M46 6v1M47 42v1M48 30v1M48 33v1M48 35v2M48 78v1M49 80v1M50 55v1M50 78v1M50 80v1M51 57v1M51 70v1M52 78v1M53 19v1M53 22v1M53 31v1M53 35v1M55 9v1M56 8v2M57 5v1M60 39v1M61 38v1M62 7v1M62 38v1M64 68v1M65 76v1M68 81v1M69 69v1M71 68v1M73 70v1M77 52v1M77 79v1M78 50v1M78 80v1M79 52v3M81 45v5M81 80v1M82 49v1M82 81v1M83 50v1M83 78v2M83 81v1M84 56v3M84 61v1M85 54v1M85 57v1M85 60v1M85 77v1M86 40v2M86 43v1M86 47v1M86 49v1M87 78v1M94 15v1M96 64v1M96 80v1M97 63v1M97 82v1M99 63v1M101 81v1M102 77v1M103 64v1M103 78v1M104 66v1M104 78v1M105 68v1M105 78v1M106 65v1M106 79v1M107 69v3M107 75v1"/>
<path stroke="#26ad81" d="M27 42v1M27 51v1M28 42v1M28 51v1M29 42v2M29 47v4M31 81v1M32 53v2M33 53v1M34 41v1M34 46v1M34 53v1M35 43v1M35 53v1M36 42v2M37 40v2M37 47v1M37 52v2M37 79v3M38 41v1M38 43v1M38 51v1M39 39v1M39 46v1M40 59v1M40 75v1M44 16v2M44 22v1M44 25v1M44 31v1M44 34v3M45 40v1M46 41v3M47 15v1M47 31v3M47 39v1M48 34v1M49 79v1M50 56v2M51 56v1M51 78v1M52 71v1M52 76v2M53 17v2M54 8v1M55 38v1M56 10v2M57 39v1M58 7v2M59 11v1M60 11v1M61 10v1M61 13v3M64 74v1M65 75v1M66 76v1M67 81v1M69 80v1M70 69v1M71 69v1M72 69v1M74 74v1M77 53v2M77 56v2M78 51v3M79 50v2M79 55v1M79 78v1M80 77v1M81 50v1M81 79v1M82 78v3M83 51v1M83 58v3M83 77v1M83 80v1M84 76v1M85 51v3M85 58v2M86 42v1M86 59v1M86 80v1M87 69v1M87 77v1M95 78v1M96 79v1M98 63v1M99 77v3M99 81v1M101 64v1M101 79v2M102 65v1M104 67v1M106 66v3M106 78v1M107 72v3M108 67v2"/>
<path stroke="#2ab07f" d="M27 52v1M28 52v1M29 51v1M30 50v1M31 78v1M32 51v2M32 55v1M33 54v1M34 45v1M35 40v3M35 44v1M35 82v1M36 41v1M36 46v1M37 54v1M37 78v1M38 50v1M38 52v1M39 40v1M39 54v1M40 64v1M44 11v1M44 13v3M44 18v1M44 21v1M44 23v2M44 32v2M45 5v2M46 40v1M47 9v1M47 16v1M47 26v1M47 30v1M47 38v1M47 40v2M48 8v1M48 29v1M49 71v1M49 75v2M50 77v1M51 77v1M52 75v1M53 30v1M54 9v2M54 14v2M55 10v1M55 13v1M56 12v1M56 38v1M57 6v1M58 9v2M58 38v1M61 11v2M61 16v2M62 8v1M62 15v3M66 75v1M67 69v1M68 70v1M69 70v1M71 70v2M72 70v1M73 71v1M73 81v1M74 80v1M77 55v1M77 58v2M78 54v1M80 52v1M80 54v2M80 75v2M81 78v1M82 50v1M82 57v2M82 77v1M83 55v3M84 75v1M85 61v1M85 76v1M86 50v1M86 58v1M86 78v2M95 65v1M95 76v2M98 82v1M99 76v1M99 80v1M100 79v1M100 81v1M101 65v1M101 78v1M102 69v1M102 76v1M103 65v1M104 77v1M105 69v1"/>
<path stroke="#31b57b" d="M27 53v1M27 81v1M28 81v1M29 80v1M30 81v1M31 50v1M31 53v2M31 77v1M31 79v2M32 76v1M33 55v1M33 80v1M34 54v1M34 81v1M35 45v1M35 54v1M36 44v1M36 54v1M36 82v1M37 46v1M37 55v3M38 40v1M38 48v2M38 53v1M38 80v1M39 44v1M39 80v1M40 65v1M40 74v1M44 12v1M44 19v2M45 7v1M45 39v1M46 7v1M46 39v1M47 10v2M47 14v1M47 17v1M47 25v1M47 27v1M47 29v1M47 34v4M48 23v3M49 72v1M49 77v2M50 70v1M50 76v1M51 76v1M53 23v1M53 25v1M54 13v1M54 16v2M54 38v1M55 12v1M55 14v1M55 17v1M55 23v1M56 13v3M58 11v1M59 12v1M60 12v1M60 38v1M61 18v1M61 37v1M62 14v1M62 37v1M64 69v1M64 73v1M65 74v1M68 80v1M69 71v1M69 75v1M70 70v4M72 71v1M72 81v1M74 75v1M77 60v1M77 78v1M78 55v4M78 79v1M79 62v3M80 53v1M80 65v1M80 74v1M81 51v1M82 51v6M82 75v2M83 52v3M83 61v1M83 75v2M84 62v1M84 73v2M85 74v2M86 54v1M86 60v1M86 77v1M87 70v1M87 76v1M95 75v1M97 81v1M98 77v3M98 81v1M99 75v1M100 80v1M102 66v3M103 66v1M103 77v1M104 68v2M105 70v1M105 77v1M106 69v2"/>
<path stroke="#38b977" d="M27 78v3M28 53v1M29 52v1M29 79v1M30 51v4M31 51v2M31 55v1M34 55v1M36 45v1M37 44v1M37 58v1M37 76v2M38 47v1M38 54v2M39 45v1M39 55v1M39 79v1M40 67v2M45 8v1M45 37v2M46 38v1M47 12v2M47 18v1M47 28v1M48 9v3M48 14v1M48 22v1M48 26v1M48 28v1M49 73v2M53 24v1M53 26v1M53 29v1M54 11v2M54 18v2M55 11v1M55 15v2M55 18v1M55 22v1M55 24v1M55 33v1M56 16v1M56 19v1M56 24v3M57 7v1M58 14v2M59 13v1M59 37v1M60 13v1M61 19v2M62 9v1M62 12v2M62 18v1M65 69v1M66 69v1M66 74v1M67 70v1M68 71v1M69 72v3M70 74v1M70 80v1M71 72v1M71 81v1M73 80v1M77 61v1M77 73v1M78 59v1M79 56v1M79 61v1M80 56v1M80 64v1M80 73v1M81 55v2M81 76v2M82 59v1M83 65v1M83 74v1M84 72v1M86 53v1M86 55v3M96 78v1M97 64v1M97 80v1M98 76v1M98 80v1M99 64v1M99 74v1M100 64v1M100 78v1M101 66v1M101 77v1M102 70v1M102 75v1M103 67v1M103 76v1M104 76v1M105 71v1M106 71v1M106 77v1"/>
<path stroke="#3fbc73" d="M30 55v1M30 80v1M31 56v1M31 76v1M32 56v1M32 75v1M33 56v4M33 77v3M34 56v1M36 55v1M36 59v1M36 81v1M37 45v1M37 59v1M38 44v1M38 46v1M38 56v2M38 78v2M39 56v1M40 66v1M40 69v1M40 73v1M45 9v1M45 30v2M45 36v1M46 8v2M46 27v7M46 37v1M47 24v1M48 12v2M48 15v1M48 27v1M50 75v1M51 75v1M52 72v1M52 74v1M53 27v2M54 20v1M54 33v1M55 20v2M55 25v1M55 29v4M55 37v1M56 17v2M56 20v1M56 23v1M56 27v2M56 37v1M57 10v1M58 12v2M58 16v1M58 19v2M58 37v1M60 14v1M62 11v1M64 70v1M64 72v1M67 80v1M69 76v1M71 73v1M72 72v3M73 72v1M74 76v1M74 79v1M77 62v2M77 66v1M77 72v1M77 74v1M77 77v1M78 60v1M78 78v1M79 59v2M79 65v1M79 77v1M81 52v3M81 57v1M81 75v1M82 74v1M83 62v3M84 71v1M85 73v1M86 51v1M87 71v1M95 72v3M97 79v1M98 64v1M98 75v1M101 67v3M103 68v2M103 75v1M104 70v1M104 73v3M105 72v1M105 76v1"/>
<path stroke="#48c16e" d="M27 54v1M27 62v1M27 77v1M28 78v3M29 53v1M30 56v1M30 79v1M32 57v2M32 73v2M33 60v1M34 57v1M34 79v2M35 55v1M35 81v1M36 60v1M36 79v2M37 64v1M39 57v1M39 78v1M40 70v1M45 10v1M45 27v3M45 32v4M46 10v1M46 17v1M46 26v1M46 34v3M47 19v1M47 22v1M48 16v1M48 21v1M51 71v1M54 21v2M54 32v1M54 34v1M54 37v1M55 19v1M55 26v3M55 34v1M56 21v2M56 29v1M56 36v1M57 8v2M57 11v1M57 14v2M57 38v1M58 18v1M58 21v3M59 14v1M60 15v2M60 37v1M61 21v1M61 36v1M62 10v1M62 19v2M62 36v1M64 71v1M67 71v1M67 77v1M68 72v1M69 77v1M69 79v1M70 75v1M71 74v2M72 75v2M72 80v1M73 73v2M74 77v2M77 65v1M77 71v1M77 75v1M78 61v1M79 57v2M79 73v2M79 76v1M80 63v1M80 72v1M81 74v1M82 60v1M83 73v1M84 65v6M85 62v1M86 52v1M86 61v1M86 76v1M87 72v4M95 71v1M96 65v1M97 78v1M100 65v1M100 74v4M101 76v1M102 71v1M102 74v1M103 70v1M104 71v2M105 73v1M106 76v1"/>
<path stroke="#50c46a" d="M27 61v1M27 63v1M27 76v1M28 54v1M29 78v1M31 57v1M32 59v3M32 72v1M33 76v1M34 58v2M34 78v1M35 56v2M36 56v1M36 58v1M37 65v1M37 75v1M38 45v1M38 58v1M38 77v1M39 58v1M39 60v1M40 71v2M45 25v2M46 11v1M46 16v1M46 25v1M47 20v2M47 23v1M48 17v1M48 20v1M51 74v1M52 73v1M54 30v2M54 35v2M55 35v2M56 30v6M57 12v2M57 16v1M57 33v1M58 17v1M58 24v1M58 31v2M58 36v1M59 15v2M59 31v1M59 36v1M60 17v1M62 21v3M62 29v3M62 35v1M65 73v1M66 70v1M66 73v1M67 75v2M67 78v1M68 75v3M68 79v1M69 78v1M70 76v1M73 75v1M73 79v1M77 64v1M77 76v1M78 62v1M78 73v2M78 77v1M79 72v1M79 75v1M80 57v1M80 66v1M81 58v1M81 72v2M82 73v1M83 66v1M83 72v1M84 63v2M85 68v1M85 70v3M95 66v1M95 68v1M96 72v3M96 77v1M97 74v2M97 77v1M98 74v1M99 65v1M99 72v2M100 72v2M101 70v1M102 72v2M103 71v1M103 74v1M105 74v2M106 72v4"/>
<path stroke="#5ac864" d="M27 55v1M29 54v1M30 57v1M30 78v1M31 58v1M31 75v1M32 62v1M33 61v1M33 72v1M33 75v1M34 60v1M34 76v2M35 58v3M35 78v3M36 57v1M36 78v1M37 60v1M37 63v1M39 59v1M39 61v1M45 11v1M45 16v5M45 24v1M46 12v1M46 15v1M46 18v1M46 24v1M48 18v2M50 71v1M54 23v1M54 25v2M54 29v1M57 23v3M57 32v1M57 34v1M57 37v1M58 25v1M58 30v1M58 33v1M59 17v4M59 22v1M59 30v1M59 32v4M60 18v2M60 36v1M61 22v1M61 35v1M62 24v1M62 32v3M67 79v1M68 73v2M68 78v1M70 77v1M72 77v1M73 76v1M77 67v1M77 70v1M78 63v1M78 71v2M79 66v1M80 58v1M80 62v1M81 64v1M82 64v1M83 69v3M85 67v1M85 69v1M86 68v1M86 75v1M95 67v1M95 69v2M96 71v1M96 75v2M97 65v1M97 72v2M97 76v1M98 65v1M98 73v1M99 70v2M100 66v1M101 71v2M101 75v1M103 72v2"/>
<path stroke="#65cb5e" d="M27 60v1M28 77v1M29 55v1M29 77v1M30 77v1M31 59v4M31 71v4M32 63v1M32 71v1M33 71v1M33 73v2M34 73v3M35 61v1M35 77v1M36 66v1M36 76v2M37 61v2M38 76v1M39 62v2M39 77v1M45 12v1M45 21v3M46 13v2M46 19v2M50 74v1M51 72v1M54 24v1M54 27v2M57 17v3M57 26v1M57 35v2M58 28v2M58 34v2M59 21v1M59 23v1M59 28v2M60 20v1M60 29v1M60 34v2M61 30v2M61 33v2M62 25v1M62 28v1M65 70v1M66 71v2M67 72v1M70 78v2M71 76v1M72 79v1M77 68v2M78 64v2M78 70v1M78 75v2M80 59v1M80 71v1M81 63v1M81 65v1M82 61v1M82 65v1M82 72v1M83 67v2M85 63v1M86 62v1M86 66v2M86 74v1M97 71v1M98 66v1M99 66v1M99 69v1M100 67v1M100 69v3M101 73v2"/>
<path stroke="#6ece58" d="M27 56v2M27 64v1M27 75v1M29 56v1M30 58v1M31 63v3M31 70v1M32 64v1M32 70v1M33 70v1M34 61v1M34 72v1M36 61v1M36 65v1M37 66v1M38 63v3M39 64v1M39 66v1M39 76v1M45 13v1M45 15v1M46 21v3M51 73v1M57 20v1M57 22v1M57 27v3M57 31v1M58 26v1M59 24v1M60 21v2M60 28v1M60 30v1M60 32v2M61 23v1M61 29v1M61 32v1M67 73v2M71 80v1M72 78v1M73 77v2M78 66v1M79 71v1M80 60v2M80 67v1M81 59v1M81 66v1M82 63v1M85 66v1M86 63v1M86 65v1M86 69v1M86 73v1M96 70v1M97 70v1M98 72v1M99 67v2M100 68v1"/>
<path stroke="#7ad151" d="M27 58v2M28 55v1M28 62v2M29 76v1M30 59v6M30 76v1M31 66v2M32 65v1M32 69v1M33 62v1M33 69v1M35 76v1M36 67v1M36 75v1M37 74v1M38 59v1M38 61v2M38 66v1M38 75v1M39 65v1M39 67v1M39 75v1M45 14v1M50 72v2M57 21v1M57 30v1M58 27v1M59 25v3M60 23v1M60 31v1M61 24v1M61 28v1M62 26v2M65 71v2M78 69v1M79 67v1M81 62v1M82 62v1M82 66v1M82 71v1M85 64v2M86 64v1M96 66v1M96 69v1M98 67v1M98 69v3"/>
<path stroke="#86d549" d="M27 65v4M28 76v1M29 57v1M30 65v1M31 68v2M34 62v1M34 71v1M35 62v1M35 66v2M36 64v1M37 67v1M38 60v1M60 27v1M61 25v1M61 27v1M71 77v1M78 67v2M79 70v1M80 70v1M81 60v2M81 71v1M86 70v1M86 72v1M96 67v2M97 66v1M97 69v1M98 68v1"/>
<path stroke="#90d743" d="M27 69v1M27 74v1M28 61v1M28 64v1M29 75v1M30 66v2M32 66v1M32 68v1M34 67v4M35 68v1M35 73v3M36 62v2M36 68v1M36 73v2M38 67v1M61 26v1M71 78v1M79 68v2M80 68v1M81 67v1M82 67v1M82 70v1M86 71v1"/>
<path stroke="#9dd93b" d="M27 70v1M28 60v1M28 65v1M29 58v1M29 64v2M29 74v1M30 68v1M30 75v1M32 67v1M33 68v1M34 63v1M34 66v1M35 65v1M35 69v1M35 72v1M36 69v1M36 72v1M37 68v1M37 73v1M39 68v1M39 74v1M60 24v1M71 79v1M80 69v1M97 67v2"/>
<path stroke="#aadc32" d="M27 71v1M27 73v1M28 56v1M28 66v1M28 75v1M29 62v2M29 66v1M29 73v1M30 69v6M33 63v1M34 64v2M35 63v2M35 70v2M36 70v1M37 69v1M60 25v2M82 68v2"/>
<path stroke="#b5de2b" d="M27 72v1M29 59v3M29 67v1M29 72v1M33 64v4M36 71v1M38 68v1M38 74v1M81 68v1M81 70v1"/>
<path stroke="#c2df23" d="M28 59v1M28 67v1M28 74v1M29 68v2M29 71v1M37 70v3M39 73v1M81 69v1"/>
<path stroke="#cde11d" d="M28 57v1M28 68v2M29 70v1M39 69v1"/>
<path stroke="#dae319" d="M28 58v1M28 73v1M38 69v1M39 72v1"/>
<path stroke="#e7e419" d="M28 70v3M38 73v1M39 70v2"/>
<path stroke="#f1e51d" d="M38 70v1"/>
<path stroke="#fde725" d="M38 71v2"/>
</g></svg></g>
<rect x="39.59" y="13.93" width="0.9" height="45.98" fill="#1f9f88" opacity="0.8"/>
<rect x="39.59" y="59.72" width="0.9" height="40.01" fill="#26ad81" opacity="0.8"/>
<rect x="39.59" y="99.53" width="0.9" height="26.08" fill="#26ad81" opacity="0.8"/>
<rect x="141.47" y="13.93" width="0.9" height="45.98" fill="#1f9f88" opacity="0.8"/>
<rect x="141.47" y="59.72" width="0.9" height="40.01" fill="#26ad81" opacity="0.8"/>
<rect x="141.47" y="99.53" width="0.9" height="26.08" fill="#26ad81" opacity="0.8"/>
<rect width="234.80" height="127.40" filter="url(#gd)"/><rect width="234.80" height="127.40" filter="url(#gl)"/>
</svg>
<rect x="310.80" y="199.50" width="234.80" height="127.40" fill="none" stroke="#222" stroke-width="0.5"/>
<path d="M311.00 326.90v2.3M352.71 326.90v2.3M394.41 326.90v2.3M436.12 326.90v2.3M477.82 326.90v2.3M519.53 326.90v2.3M310.80 326.80h-2.3M310.80 306.89h-2.3M310.80 286.99h-2.3M310.80 267.08h-2.3M310.80 247.17h-2.3M310.80 227.27h-2.3M310.80 207.36h-2.3" stroke="#333" stroke-width="0.75" fill="none"/>
<text transform="translate(311.00 336.20) scale(1.09 1)" font-size="6.2" text-anchor="middle">0</text>
<text transform="translate(352.71 336.20) scale(1.09 1)" font-size="6.2" text-anchor="middle">100</text>
<text transform="translate(394.41 336.20) scale(1.09 1)" font-size="6.2" text-anchor="middle">200</text>
<text transform="translate(436.12 336.20) scale(1.09 1)" font-size="6.2" text-anchor="middle">300</text>
<text transform="translate(477.82 336.20) scale(1.09 1)" font-size="6.2" text-anchor="middle">400</text>
<text transform="translate(519.53 336.20) scale(1.09 1)" font-size="6.2" text-anchor="middle">500</text>
<text transform="translate(305.40 329.65) scale(1.09 1)" font-size="6.2" text-anchor="end">0</text>
<text transform="translate(305.40 309.74) scale(1.09 1)" font-size="6.2" text-anchor="end">20</text>
<text transform="translate(305.40 289.84) scale(1.09 1)" font-size="6.2" text-anchor="end">40</text>
<text transform="translate(305.40 269.93) scale(1.09 1)" font-size="6.2" text-anchor="end">60</text>
<text transform="translate(305.40 250.02) scale(1.09 1)" font-size="6.2" text-anchor="end">80</text>
<text transform="translate(305.40 230.12) scale(1.09 1)" font-size="6.2" text-anchor="end">100</text>
<text transform="translate(305.40 210.21) scale(1.09 1)" font-size="6.2" text-anchor="end">120</text>
<text transform="translate(427.30 195.80) scale(1.09 1)" font-size="7.7" text-anchor="middle">MelSpectrogram - AWGN Augmentation</text>
<text transform="translate(427.80 345.20) scale(1.09 1)" font-size="6.2" text-anchor="middle">frame</text>
<text transform="translate(287.60 264.40) rotate(-90) scale(1 1.09)" font-size="6.2" text-anchor="middle">mel freq</text>
</svg></body></html>
